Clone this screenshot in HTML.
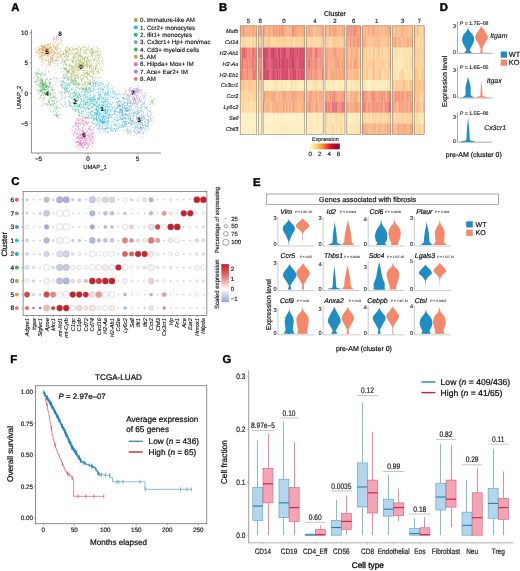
<!DOCTYPE html>
<html lang="en"><head><meta charset="utf-8"><title>Figure</title>
<style>
html,body{margin:0;padding:0;background:#fff;}
body{width:520px;height:571px;overflow:hidden;}
svg{display:block;font-family:"Liberation Sans",Arial,Helvetica,sans-serif;text-rendering:geometricPrecision;}
</style></head><body>
<svg width="520" height="571" viewBox="0 0 520 571">
<rect width="520" height="571" fill="#ffffff"/>
<g fill="#1a1a1a">
<g>
<text x="11.3" y="10.9" font-size="11.3" stroke="#000" stroke-width="0.4" font-weight="bold" fill="#000">A</text>
<line x1="31.4" y1="29.5" x2="31.4" y2="153" stroke="#444" stroke-width="0.6"/>
<line x1="31.4" y1="153" x2="161" y2="153" stroke="#444" stroke-width="0.6"/>
<line x1="29.8" y1="32.6" x2="31.4" y2="32.6" stroke="#444" stroke-width="0.5"/>
<text x="28.1" y="34.9" font-size="6.3" stroke="#222" stroke-width="0.18" text-anchor="end" fill="#222">10</text>
<line x1="29.8" y1="62.95" x2="31.4" y2="62.95" stroke="#444" stroke-width="0.5"/>
<text x="28.1" y="65.25" font-size="6.3" stroke="#222" stroke-width="0.18" text-anchor="end" fill="#222">5</text>
<line x1="29.8" y1="93.3" x2="31.4" y2="93.3" stroke="#444" stroke-width="0.5"/>
<text x="28.1" y="95.6" font-size="6.3" stroke="#222" stroke-width="0.18" text-anchor="end" fill="#222">0</text>
<line x1="29.8" y1="123.65" x2="31.4" y2="123.65" stroke="#444" stroke-width="0.5"/>
<text x="28.1" y="125.95" font-size="6.3" stroke="#222" stroke-width="0.18" text-anchor="end" fill="#222">−5</text>
<line x1="38.5" y1="153" x2="38.5" y2="154.6" stroke="#444" stroke-width="0.5"/>
<text x="38.5" y="161.2" font-size="6.3" stroke="#222" stroke-width="0.18" text-anchor="middle" fill="#222">−5</text>
<line x1="88" y1="153" x2="88" y2="154.6" stroke="#444" stroke-width="0.5"/>
<text x="88" y="161.2" font-size="6.3" stroke="#222" stroke-width="0.18" text-anchor="middle" fill="#222">0</text>
<line x1="137.5" y1="153" x2="137.5" y2="154.6" stroke="#444" stroke-width="0.5"/>
<text x="137.5" y="161.2" font-size="6.3" stroke="#222" stroke-width="0.18" text-anchor="middle" fill="#222">5</text>
<text x="95" y="169.3" font-size="5.9" stroke="#222" stroke-width="0.17" text-anchor="middle" fill="#222">UMAP_1</text>
<text x="20.6" y="97.4" font-size="5.9" stroke="#222" stroke-width="0.17" text-anchor="middle" transform="rotate(-90 20.6 97.4)" fill="#222">UMAP_2</text>
<path d="M95.81 95.19h0M105.26 117.45h0M95.35 82.72h0M101.61 104.72h0M93.65 99.85h0M94.51 104.69h0M102.38 105.45h0M103.29 83.39h0M113.79 129.9h0M128.77 123.51h0M108.69 84.6h0M126.6 99.52h0M96.27 119.48h0M105.74 116.39h0M93.8 86.36h0M129.79 106.46h0M104.99 111.27h0M109.29 123.09h0M117.79 120.7h0M97.12 81.68h0M95.1 92.57h0M107.47 97.63h0M107.97 126.45h0M128.21 119.45h0M107.59 111.11h0M99.23 98.11h0M87.85 99.02h0M98.72 98.87h0M127.71 104.63h0M118.16 99.13h0M110.45 92.61h0M93.08 94.28h0M93.28 90.01h0M87.65 91.65h0M107.2 88.11h0M111.02 116.67h0M93.31 100.5h0M88.98 97.29h0M95.65 83.16h0M110.78 126.79h0M98.12 124.85h0M101.02 104.86h0M122.18 124.36h0M107.53 113.75h0M97.28 109.93h0M95.02 95.58h0M93.23 111.19h0M100.3 88.4h0M125.95 116.77h0M128.6 109.58h0M118.52 112.62h0M112.82 107.14h0M92.17 101.55h0M91.57 106.29h0M110.86 131.47h0M119.73 116.59h0M89.41 89.25h0M114.42 114.95h0M97.93 112.69h0M111.32 130.27h0M117.29 102.54h0M116.01 96.04h0M94.36 99.63h0M119.17 105.64h0M112.85 110.66h0M98.69 94.6h0M96.85 107.29h0M97.26 121h0M120.21 105.36h0M107.98 129.23h0M115.25 94.49h0M96.92 110.42h0M87.19 96.8h0M98.62 83.76h0M100.36 94.27h0M91.63 91.42h0M108.63 131.88h0M99.65 115.14h0M122.43 126.7h0M98.81 95.55h0M102.42 128.16h0M128.23 117.99h0M125.43 121.66h0M96.41 117.36h0M104.73 113.28h0M118.03 93.14h0M118.67 128.03h0M100.44 119.13h0M102.59 126.46h0M120.06 112.08h0M107.25 127.48h0M107.85 90.33h0M112.04 86.37h0M111.23 125.34h0M93.7 106.51h0M120.32 101.38h0M93.29 104.89h0M107.39 85.69h0M106.1 98.03h0M117.32 118.45h0M90.77 90.17h0M99.82 113.56h0M122.84 126.97h0M102.92 109.3h0M124.82 108.31h0M91.94 85.51h0M85.11 91.02h0M123.85 122.32h0M131.49 109.23h0M94.81 105.41h0M123.62 98.13h0M84.02 88.54h0M86.84 88.87h0M98.15 107.18h0M114.64 113.53h0M123.86 118.64h0M108.47 117.34h0M92.84 115.97h0M106.97 101.79h0M114.47 110.81h0M111.84 88.72h0M101.44 108.08h0M90.21 82.26h0M122.6 111.7h0M96.01 114.35h0M116.19 108.32h0M103.94 92.91h0M118.52 97.82h0M125.35 124.42h0M124.12 108.56h0M102.5 97.02h0M100.22 95.84h0M101.17 108.47h0M90.4 99.71h0M109.28 115.23h0M109.52 109.74h0M126.1 105.49h0M85.91 93.9h0M104.77 118.94h0M111.73 115.52h0M110.62 128.58h0M90.18 83.44h0M90.86 99.55h0M86.49 87.49h0M113.5 90.62h0M100.29 94.14h0M92.73 81.54h0M94.27 86.89h0M103.45 108.91h0M122.7 109.86h0M101.07 116.71h0M109.27 126.24h0M131.09 115.65h0M120.79 105.62h0M130.51 103.62h0M117.52 126.45h0M108.68 118.35h0M118.07 129.01h0M112.5 114.58h0M102.59 120.18h0M107.43 99.9h0M128.64 113.74h0M92.22 97.27h0M116.48 102.41h0M105.27 109.89h0M116.98 120.18h0M115.95 107.93h0M97.82 99.85h0M122.3 118.06h0M97.96 99.07h0M127.26 115.14h0M124.98 124.39h0M99.6 120.9h0M125.19 114.68h0M111.77 117.55h0M111.01 121.78h0M124.31 98.85h0M119.48 126.67h0M87.16 85.86h0M129.02 117.05h0M90.71 100.3h0M106.12 98.04h0M95.29 90.04h0M131.19 112.9h0M119.59 106.45h0M113.72 87.63h0M105.42 100.21h0M125.39 123.01h0M113.86 96.73h0M104.53 119.8h0M114.27 111.8h0M99.88 92.29h0M121.4 127.87h0M83.25 84.74h0M116.4 110.76h0M101.7 90.75h0M127.04 114.47h0M87.58 94.28h0M124.24 107.54h0M94.77 96.56h0M106.85 88.35h0M98.35 96.14h0M127.23 99.96h0M105.88 113.35h0M118.85 119.83h0M107.79 93.57h0M96.45 114.56h0M119.67 105.28h0M85.67 88.15h0M97.1 86.79h0M101.52 82.57h0M99.51 102.89h0M83.29 88.91h0M98.16 117.7h0M107.25 116.05h0M122.5 114.07h0M126.21 118.01h0M101.72 102.61h0M124.47 122.86h0M126.28 109.23h0M100.59 82.58h0M84.13 86.15h0M98.56 89.15h0M94.8 98.78h0M96.24 116.51h0M86.67 92.55h0M114.78 124.88h0M125.15 105.94h0M119.76 106.02h0M121.65 109.25h0M103.42 115.27h0M99.64 84.69h0M103.28 121.61h0M106.54 121.53h0M113.03 97.53h0M100.57 120.06h0M97.62 106.22h0M108.23 120.61h0M109.62 104.1h0M112.1 89.72h0M122.42 110.26h0M100.58 90.98h0M114.77 111.36h0M101.16 121.85h0M98.53 111.67h0M91.09 122.34h0M121.5 112.79h0M102.71 122.47h0M110.9 103.58h0M93.86 96.1h0M123.31 126.04h0M121.22 94.56h0M123.61 104.78h0M123.58 98.18h0M120.55 125.58h0M130.73 118.27h0M104.33 87.3h0M127.7 110.4h0M105.18 92.3h0M121.99 115.57h0M103.64 105.7h0M116.19 129.87h0M110.44 117.39h0M109.04 116.97h0M119.73 112.66h0M110.49 110.92h0M115.56 109.07h0M85.86 89.45h0M89.08 95.6h0M96.75 105.85h0M99.74 127.12h0M88.89 88.15h0M99.1 97.91h0M101.77 89.07h0M112.58 121.1h0M103.68 91.12h0M118.83 101.56h0M97.88 98.82h0M99.58 112.44h0M88.7 83.42h0M96.5 115.79h0M133.77 116.88h0M99.26 94.35h0M108.15 118.29h0M95.51 99.58h0M103.04 84.67h0M107.73 132.03h0M120.05 105.75h0M126.45 110.55h0M122.38 105.88h0M98.23 104.73h0M97.2 112.47h0M91.44 111.31h0M96.97 107.93h0M115.19 111.07h0M120.34 110.15h0M102.04 109.43h0M102.76 122.37h0M123.97 101.5h0M129.28 118.71h0M87.79 99.24h0M107 128.14h0M118.21 107.38h0M121.1 111.18h0M125.91 125.73h0M125.15 108.94h0M115.59 98.4h0M98.96 124.81h0M94.29 99.65h0M98.18 111.63h0M97.99 89.62h0M99.33 85.12h0M120.06 117.06h0M102.48 122.55h0M117.49 104.12h0M120.53 109.21h0M107.01 106.37h0M121.61 119.56h0M118.86 105.03h0M110.36 128.51h0M102.19 84.09h0M91.35 117.09h0M91.16 110.97h0M88.18 92.08h0M98.45 116.94h0M85.13 95.53h0M128.21 118.7h0M106.41 118.31h0M93.98 84.98h0M101.08 96.24h0M99.94 97.05h0M97.91 100.34h0M93.19 118.06h0M122.96 121.27h0M116.28 128.75h0M90.98 99.99h0M97.29 111.51h0M101.29 87.87h0M126.93 123.98h0M112.43 102.47h0M95.5 85.09h0M109.96 91.31h0M98.84 116.16h0M115.48 131.54h0M112.73 97.6h0M95.98 114.98h0M104.03 120.94h0M90.87 84.52h0M94.43 112.62h0M120.85 108.22h0M119.65 110.95h0M97.8 79.86h0M96.88 102.31h0M119.37 93.67h0M122.35 106.53h0M107.57 106.58h0M102.72 102.07h0M88.31 90.92h0M98.07 128.55h0M110.07 127.88h0M127.16 102.91h0M108.79 114.97h0M107.85 117.54h0M106.19 124.73h0M86.76 88.84h0M99.38 99.42h0M107.69 121.9h0M92.47 103.78h0M100.19 97.42h0M100.32 114.38h0M109.81 87.43h0M108.05 83.78h0M111.48 106.01h0M103.31 86.39h0M95.26 83.9h0M112.06 93.74h0M130.14 112.09h0M116.77 121.24h0M96.97 125.39h0M101.9 121.52h0M91.17 99.87h0M95 113.83h0M100.83 129.28h0M103.27 121.27h0M126.8 108.36h0M108.49 83.21h0M107.47 122.77h0M96.52 83.67h0M110.78 112.06h0M115.2 120.35h0M105.09 107.72h0M109.94 107.04h0M104.02 122.69h0M93.24 88.71h0M120.23 117.36h0M122.89 112.14h0M111.79 129.1h0M98.35 118.69h0M95.77 84.08h0M111.98 124.95h0M103.74 105.55h0M106.5 128.27h0M110.13 95.12h0M125.93 105.1h0M107.32 124.32h0M93.05 91.41h0M109.9 88.65h0M114.4 128.57h0M108 95.31h0M118.68 101.39h0M117.39 98.48h0M107.41 86.93h0M112.65 91.56h0M108.09 92.79h0M94.1 114.53h0M119 126.94h0M88.98 89.21h0M90.63 91.61h0M126.28 116.06h0M92.22 99.35h0M112.91 103.01h0M99.01 85.69h0M111.33 107.63h0M121.72 111.72h0M113.68 122.12h0M101.94 88.95h0M90.47 84.57h0M119.9 127.13h0M95.86 82.51h0M97.07 114.05h0M90.16 101.29h0M118.73 94.88h0M115.43 111.42h0M114.31 106.2h0M98.45 91.96h0M127.55 121.6h0M108.4 121.49h0M93.61 105.06h0M103.67 89.41h0M87.06 89.94h0M112.94 108.39h0M114.88 112.13h0M119.88 109.66h0M123.51 115.26h0M115.34 94.43h0M109.12 113.47h0M116.51 125.95h0M93.78 84.95h0M127.8 108.84h0M125.21 110.38h0M105.15 99.52h0M99.46 119.79h0M99.53 99.14h0M93.55 94.08h0M116.22 93.21h0M101 83.89h0M99.43 119.54h0M117.9 106.98h0M95.96 102.72h0M121.27 116.37h0M94.08 97.43h0M107.08 131.78h0M107.5 99.5h0M99.1 88.05h0M124.66 126.16h0M125.73 119.35h0M112.86 108.06h0M90.3 89.7h0M103.45 122.99h0M107.88 92.96h0M100.11 117.68h0M97.79 128.56h0M108.1 92.43h0M115.71 130.3h0M113.99 124.1h0M93.58 103.71h0M113.11 93.74h0M127.92 101.77h0M107.17 126.93h0M86.24 92.7h0M109.19 115.11h0M126.46 111.89h0M124.42 122.1h0M106.02 85.93h0M105.47 93.04h0M94.73 119.5h0M100.48 100.95h0M105.15 84.91h0M126.06 110.9h0M102.39 99.26h0M103.73 103.04h0M96.51 120.82h0M112.96 114.2h0M114.84 113.94h0M114.39 124.98h0M92.07 103.35h0M103.42 130.3h0M104.8 86.78h0M96.79 113.61h0M103.56 116.68h0M122.6 98.09h0M94.3 80.4h0M111.91 110.19h0M124.74 123.48h0M98.51 110.16h0M106.72 113.24h0M91.36 86.56h0M122.66 114.58h0M105.69 93.47h0M130.02 109.75h0M98.09 84.92h0M113.27 119.46h0M98.17 105.96h0M96.55 102.2h0M114.73 91.37h0M104.65 94.59h0M100.24 129.09h0M91.8 101.66h0M93.7 116.4h0M92.74 107.52h0M97.13 115.69h0M122.35 119.3h0M93.01 99.23h0M117.8 111.35h0M125.61 114.2h0M89.22 83.49h0M103.32 98.04h0M97.84 97.49h0M112.14 131h0M109.55 114.28h0M114.5 93.11h0M111.86 96.45h0M94.32 114.88h0M102.99 88.86h0M84.97 92.31h0M107.1 121.28h0M115.35 125.23h0M98.24 88.37h0M124.8 114.6h0M115.62 124.83h0M108.56 99.17h0M89.16 92.85h0M104.67 121.78h0M116.09 104.74h0M126.53 111.39h0M119.15 100.19h0M110.89 111.27h0M102.99 127.84h0M113.95 92.76h0M105.7 130.74h0M122.06 118.93h0M86.27 88.83h0M116.78 95.88h0M118.88 123.42h0M106.05 128.31h0M99.16 125.52h0M102.6 98.24h0M93.8 81.75h0M123.81 95.42h0M105.22 132.21h0M93.51 89.99h0M124.52 117.23h0M102.34 89.76h0M118.08 118.22h0M97.34 113.47h0M87.44 90.23h0M94.98 104.95h0M116.42 122.99h0M96 105.65h0M124.95 103.38h0M104.61 101.5h0M110.19 96.88h0M102.17 105.3h0M116.18 125h0M104.69 110.62h0M109.34 107.02h0M113.56 122.25h0M130.72 117.94h0M105.38 94.48h0M91.75 106.97h0M114.88 113.62h0M107.13 92.98h0M129.76 106.68h0M99.14 92.74h0M108.28 90.77h0M105.63 107.29h0M116.85 94.2h0M117.33 98.39h0M113.91 117.9h0M107.87 102.33h0M109.49 110.53h0M89.48 103.89h0M114.84 119.63h0M97.09 109.18h0M98.25 127.5h0M115.62 130.66h0M120.34 110.1h0M94.81 98.3h0M130.46 119.64h0M100.5 121.15h0M98.68 118.51h0M125.59 114.23h0M109.4 96.08h0M104.99 128.43h0M108.23 117.67h0M103.68 121.8h0M113.1 130.55h0M111.27 127.83h0M104.93 117.89h0M92.72 98.98h0M102.91 109.89h0M98.49 107.87h0M94.45 117.98h0M91.1 118.56h0M100.01 132.59h0M91.78 90.68h0M121.54 114.47h0M114.51 128.74h0M96.09 111.17h0M95.6 86.54h0M131.75 105.45h0M110.44 114.51h0M108.39 101.16h0M102.71 92.32h0M103.37 90.08h0M104.08 106.13h0M92.54 82.53h0M96.44 118.33h0M103.06 124.32h0M99.45 126.05h0M116.53 114.87h0M104.99 108.09h0M108.31 94.66h0M112.72 128.8h0M108.64 103.28h0M117.35 128.9h0M89.18 86.43h0M98.81 109.87h0M98.16 113.83h0M97.04 119.77h0M109.07 103.01h0M100.34 106.1h0M102.61 110.59h0M101.09 122.5h0M109.07 105.5h0M103.65 97.55h0M101.29 101.68h0M103.79 122.83h0M108.02 108.89h0M99.45 98.45h0M106.83 112.41h0M104.52 116.42h0M103.41 102.63h0M105.31 103.9h0M101.61 100.83h0M100.45 94.93h0M98.93 106.02h0M105.25 116.03h0M98.82 115.01h0M101.92 108.87h0M101.14 96.95h0M107.24 110.69h0M94.72 118.67h0M102.64 119.28h0M103.96 104.66h0M104.75 101.48h0M103.79 118.29h0M107.09 110.82h0M103.51 122.61h0M102.37 117.93h0M104.76 119.89h0M105.12 110.2h0M104.86 99.09h0M105.36 113.81h0M107.94 107.64h0M108.92 115.56h0M100.2 108.34h0M101.16 115.53h0M111.32 104.52h0M102.64 110.79h0M96.63 118.95h0M103.45 122.76h0M105.38 98.87h0M108.07 112.71h0M105.4 112.38h0M106.08 111.9h0M104.83 110.01h0M107.86 111.66h0M98.49 106.24h0M104.22 114.61h0M105.09 122.97h0M104.74 95.6h0M108.13 122.79h0M99.69 98.5h0M108.45 106.66h0M106.91 101.97h0M100.02 115.92h0M103.42 107.87h0M103.78 115.05h0M96.42 92.63h0M104.05 109.73h0M101.94 117.58h0M101.92 109.9h0M97.22 100.88h0M105.05 110.67h0M108.76 124.45h0M108.64 118.56h0M108.27 120.99h0M105.48 102.08h0M107.22 109.86h0M99.18 104.93h0M102.21 108.48h0M103.37 101.48h0M104.15 103.82h0M102.14 121.89h0M103.6 99.18h0M107 116.13h0M99.43 108.61h0M106.02 104.81h0M103.76 116.47h0M105.42 111.64h0M104.67 121.97h0M105.09 128.61h0M102.85 116.03h0M107.45 106.83h0M107.7 104.62h0M106.38 95.32h0M101.22 110.66h0M103.2 104.58h0M104.78 129.47h0M110.8 105.08h0M106.6 104.34h0M105.85 101.49h0M108.06 109.08h0M99.54 104.9h0M106.1 94.2h0M93.84 119.93h0M102.23 114.26h0M104.52 124.88h0M98.83 116.17h0M95.78 110.2h0M98.99 118.63h0M105.39 109.74h0M105.21 120.24h0M105.1 110.15h0M103.27 112.51h0M107.46 94.06h0M105.76 106.43h0M101.88 113.16h0M103.83 111.29h0M110.68 109.44h0M102.09 120.52h0M99.78 120.77h0M99.17 98.85h0M96.98 110.75h0M99.26 114.41h0M108.42 128.94h0M106.09 112.86h0M105.69 106.13h0M106.67 109.27h0M101.56 121.09h0M87.99 122.92h0M104.93 121.7h0M105.87 123.01h0M99.18 123.29h0M105.73 122.98h0M96.4 119.16h0M94.62 123.2h0M92.03 121.68h0M99.11 113.17h0M102.05 119.83h0M100.76 126.27h0M93.2 123.3h0M100.24 120.09h0M102.8 119.76h0M102.19 123.35h0M107.14 120.29h0M94.76 115.75h0M101.81 116.52h0M99.18 131.1h0M100.42 120.66h0M97.17 121.98h0M100.18 122.55h0M93.17 123.2h0M96.99 124.6h0M104.75 122.19h0M97.07 120.29h0M98.4 121.04h0M101.81 121.58h0M102.66 128.36h0M106.06 128.62h0M96.04 124.78h0M98.79 128.69h0M93.63 119.87h0M102.21 118.77h0M100.34 113.04h0M100.9 125.22h0M94.66 123.57h0M103.35 117.02h0M94.09 124.01h0M93.74 120.69h0M97.29 122.78h0M95.51 125.85h0M102.67 124.37h0M100.5 121.67h0M96.19 120.24h0M104.85 125.8h0M103.15 117.49h0M98.64 123.18h0M95.94 125.52h0M94.62 127.35h0M57.5 65.39h0M65.05 84.85h0M67.92 78.4h0M63.5 75.83h0M62.94 71.45h0M70.83 103.37h0M62.31 97.7h0M45.67 73.76h0M64.89 68.73h0M50.72 79.43h0M71.98 98.8h0M52.66 58.58h0M46.68 78.49h0M60.21 107.85h0M53.09 60.73h0M57.93 63.9h0M50.84 79.48h0M50.59 62.09h0M57.07 106.73h0M64.1 69.71h0M62.21 78.05h0" fill="none" stroke="#19b5e8" stroke-width="0.85" stroke-linecap="round" opacity="0.8"/>
<path d="M65.25 60.48h0M81.5 56.27h0M85.8 47.61h0M63.15 54.4h0M101.23 57.97h0M66.5 51.34h0M86.98 58.62h0M77.82 56.75h0M80.53 70.76h0M87.37 66.36h0M71.9 69.35h0M66.85 51.65h0M93.81 74.05h0M88 87.66h0M84.51 47.47h0M93.76 47.81h0M83.45 73.65h0M102.85 60.2h0M70.6 54.87h0M81.01 58.36h0M85.95 76.27h0M71.92 47.58h0M94.07 59.81h0M67.33 71.31h0M79.14 84.87h0M72.65 48.32h0M76.66 57.72h0M66.07 52.74h0M68.59 72.46h0M71.07 78.17h0M74.75 58.12h0M80.8 78.11h0M97.12 59.82h0M89.51 66.7h0M74.72 84.03h0M60.74 57.24h0M68.86 54.3h0M77.83 67.75h0M90.33 52.16h0M66.92 60.03h0M61.48 57.34h0M85.31 65.46h0M72.12 68.99h0M95.53 82.42h0M77.98 58.59h0M67.2 49.73h0M90.81 75.18h0M66.73 50.83h0M61.97 68.46h0M83.57 76.15h0M93.77 53.56h0M66.07 69.29h0M72.61 67.72h0M89.38 87.7h0M80.23 59.75h0M74.19 75.69h0M68.47 79.44h0M100.46 54.72h0M75.6 77.08h0M75.72 81.84h0M75.54 77.34h0M89.53 74.03h0M63.56 53.61h0M79.2 66.26h0M68.95 59.94h0M93.27 78.01h0M90 71.61h0M82 80.35h0M88 79.32h0M88.75 88.54h0M92.42 88.32h0M86.09 61.95h0M66.7 51.84h0M78.09 67.11h0M93.72 84.95h0M92.18 48.92h0M61.15 55.21h0M78.21 78.11h0M65.27 50.25h0M72.05 77.76h0M74.71 72.92h0M97.22 55.63h0M87.84 70.63h0M82.63 64.6h0M66.17 64.38h0M64.67 63.95h0M87.63 74.4h0M87.72 85.55h0M86.37 63.25h0M73.71 74.96h0M69.55 62.77h0M79.47 84.28h0M64.59 69.51h0M85.12 73.54h0M91.55 57.33h0M89.24 63.66h0M66.43 75.14h0M80.11 75.82h0M95.09 58.16h0M90.59 76.54h0M92.45 76.62h0M93.28 74.11h0M69.76 64.5h0M92.48 50.73h0M72.96 71.49h0M67.07 47.67h0M81.82 62.42h0M72.96 60.22h0M87.31 65.15h0M85.74 51.09h0M84.03 89.75h0M76.07 83.6h0M87.15 72.05h0M91.12 60.81h0M80.22 66.77h0M85.16 52.95h0M88.09 65.2h0M82.25 89.18h0M71.77 74.59h0M66.37 69.11h0M73.39 75.07h0M82.44 75.13h0M66.61 71.04h0M94.05 53.98h0M93.58 66.68h0M86.68 76.5h0M99.08 56.31h0M90.71 59.51h0M73.24 83.88h0M86.61 50.55h0M73.7 54.63h0M93.47 84.3h0M76.44 49.39h0M66.04 58.18h0M89.45 66.64h0M90.29 81.42h0M84.83 82.01h0M80.59 55.57h0M85.65 90.58h0M62.25 61.53h0M83.66 63.54h0M92.47 52.31h0M81.15 75.47h0M98.91 77.9h0M99.03 77.58h0M74.48 84.42h0M66.44 65.19h0M87.49 49.19h0M80.91 50.58h0M80.91 50.54h0M96.64 65.74h0M78.17 65.85h0M83.57 65.9h0M81.12 66.22h0M67.26 71.84h0M79.42 70.79h0M98.74 55.29h0M63.16 62.74h0M63.63 53.08h0M83.49 72.65h0M66.16 64.05h0M78.41 57.4h0M69.69 51.16h0M88.2 56.09h0M82.57 59.17h0M74.49 61.28h0M95.28 73.13h0M91.11 54.25h0M81.79 62.94h0M79.33 65.47h0M93.41 51.77h0M100.88 68.61h0M64.72 68.68h0M76.96 65.37h0M82.66 79.17h0M63.17 54.51h0M68.15 71.65h0M75.94 68.02h0M89.4 51.38h0M81.71 87h0M96.42 65.13h0M97.22 73.5h0M99.55 64.45h0M77.77 86.57h0M92.36 78.93h0M75.23 64.23h0M82.63 79.4h0M66.94 51h0M87.32 77.82h0M78.8 83.55h0M95.69 67.08h0M84.69 81.91h0M88.7 75.34h0M77.35 49.23h0M67.17 46.22h0M73.4 58.05h0M89.71 83.93h0M75.97 55.62h0M87.78 59.51h0M81.77 81.77h0M80.4 52.43h0M98.92 59.84h0M68 60.73h0M81.21 48.69h0M98.42 62.84h0M80.79 65.63h0M75.96 60.83h0M68.26 49.26h0M84.85 84.13h0M77.12 52.2h0M66.84 58.92h0M78.75 60.69h0M85.99 71.14h0M83.27 62.62h0M99.99 72.7h0M96.37 61.62h0M97.53 69.3h0M77.62 46.05h0M83.6 67.84h0M74.31 83.08h0M93.72 71.31h0M72.1 76.4h0M78.31 78.25h0M78.03 63.53h0M75.6 66.98h0M88.98 84.58h0M65.7 57.22h0M85.72 87.65h0M83.68 46.39h0M93.43 52.43h0M62.34 58.15h0M87.19 58h0M76.67 66.87h0M84.1 74.37h0M75.56 78.63h0M69.41 48.64h0M84.33 83.48h0M74.87 74.78h0M77.02 48.76h0M85.21 65.11h0M85.56 56.64h0M91.83 55h0M100.72 53.91h0M76.09 85.26h0M89.39 47.1h0M92.1 54.95h0M100.84 69.74h0M97.25 53.96h0M67.36 52.59h0M67.77 71.89h0M76.04 65.34h0M90.07 56.47h0M78.49 60.01h0M82.43 88.62h0M91.98 51.83h0M90.52 88.97h0M72.76 79.4h0M89.15 67.01h0M89.37 92.64h0M77.23 64.77h0M93.25 68.08h0M73.11 71.88h0M65.83 69.05h0M70.31 64.79h0M76.78 59.98h0M86.73 62.8h0M75.08 56.79h0M76.02 66.44h0M75.42 85.82h0M63.66 54.45h0M69.79 65.56h0M98.35 69.66h0M71.62 79.83h0M88.98 73.82h0M100.34 77.88h0M72.72 68.02h0M76.06 83.87h0M90.57 81.85h0M93.85 73.96h0M84.6 52.59h0M66.03 67.62h0M67.65 59.23h0M91.8 52.48h0M88.95 61.47h0M91.66 62.51h0M77.03 67.17h0M65.94 63.52h0M97.34 54h0M87.38 72.38h0M83.89 67.41h0M89.39 90.39h0M76.6 74.66h0M82.8 84.68h0M80.3 69.47h0M99.32 55.67h0M96.71 51.42h0M74.74 81.86h0M77.13 53.03h0M76.54 60.87h0M94.04 68.65h0M80.35 59.83h0M81 54.63h0M93.08 60.12h0M67.07 71.99h0M87.21 58.08h0M86.05 53.56h0M65.34 49.95h0M94.23 60.02h0M84.15 75.21h0M101.89 66.74h0M73.56 69.8h0M86.87 61.87h0M85.65 84.52h0M81.78 48.81h0M73.04 80.7h0M81.04 88.74h0M76.49 80.97h0M97.6 49h0M79.9 72.72h0M79.12 84.45h0M70.83 65.9h0M99.13 52.73h0M75.18 70.25h0M98.43 72.16h0M85.77 82.47h0M103.21 63.98h0M67.29 56.38h0M92.24 51.88h0M82.56 62.72h0M90.31 71.47h0M89.98 83.76h0M79.45 64.73h0M87.59 72.24h0M70.01 78.19h0M78.95 68.05h0M98.02 73.27h0M94.39 55.23h0M97.81 55.38h0M68.35 55.84h0M67.44 75.44h0M75.43 48.41h0M67.92 56.57h0M68.52 70.04h0M99.11 53.95h0M74.56 73.9h0M86.05 66.08h0M80.09 88.39h0M92.52 72.33h0M97.12 82.34h0M76.36 62.83h0M83.12 65.61h0M72.22 76.77h0M73.73 55.15h0M73.79 51.98h0M83.18 76.83h0M75.94 48.74h0M74.55 49.64h0M96.72 63.85h0M95.83 66.7h0M87.31 57.39h0M91.68 69.59h0M67.52 52.37h0M97.02 71.68h0M71.91 53.38h0M89.05 70.91h0M91.33 55.08h0M70.22 47.92h0M79.21 55.62h0M62.25 59.13h0M74.79 71.41h0M84.14 66.64h0M95.86 76.7h0M97.68 72h0M73.68 58.94h0M81.42 64.69h0M83.97 49.55h0M87.13 74.43h0M91.03 53.74h0M88.59 83.81h0M90.07 77.55h0M98.8 57.22h0M93.19 72.51h0M79.49 56.1h0M74.45 49.68h0M87.56 73.39h0M95.14 56.14h0M91.64 49.52h0M89.05 74.47h0M65.98 68.3h0M84.74 60.34h0M89.85 80.11h0M74.94 75.15h0M79.71 63.61h0M80.1 87.44h0M80.51 48.14h0M86.59 90.09h0M70.28 82.59h0M97.46 51.22h0M65.49 50.36h0M75.64 81.45h0M98.72 57.47h0M75.95 62.49h0M98.29 51.75h0M69.88 48.27h0M68.88 51.35h0M92.5 52.03h0M102.58 62.76h0M90.72 66.75h0M100.21 63.33h0M83.75 68.62h0M65.63 64.33h0M99.08 74.66h0M76.23 75.12h0M72.83 80.74h0M82.4 70.38h0M71.26 83.27h0M82.44 82.89h0M91.55 65.52h0M93.28 50.09h0M86.42 73.34h0M89.01 75.12h0M83.91 47.71h0M91.94 52.98h0M69.18 70.4h0M91.92 71.63h0M79.07 52.29h0M82.89 89.74h0M79.3 60.69h0M63.79 65.5h0M70.05 49.82h0M74.34 72.14h0M74.22 79.86h0M90.42 82.54h0M66.62 54.86h0M79.49 64.56h0M85.66 76.66h0M64.25 56.39h0M69.43 49.88h0M70.53 59.85h0M67.81 71.77h0M64.25 56.74h0M68.45 57.09h0M80.5 50.29h0M84.67 76.31h0M72.97 83.74h0M67.42 56.23h0M64.52 62.03h0M73.63 57.16h0M81.5 80.2h0M91.72 76.39h0M68.86 76.47h0M79.36 47.15h0M77.33 69.53h0M89.59 68.71h0M89.51 83.97h0M84.36 59.71h0M80.95 79.73h0M96.77 57.07h0M63.76 59.29h0M84.66 57.17h0M83.78 65.46h0M84.17 61.32h0M92.52 78.16h0M88.81 56.93h0M74.84 54.85h0M78.13 47.78h0M67.95 48.47h0M95.08 69.51h0M88.44 82.21h0M75.36 53.42h0M78.66 83.19h0M84.15 59.1h0M96.75 47.47h0M90.76 66.75h0M98.69 71.25h0M71.34 78.59h0M89.26 73.33h0M64.7 61.14h0M86.04 53.12h0M64.98 62.18h0M83.62 67.69h0M83.25 53.55h0M73.14 60.27h0M89.42 66.13h0M80.97 53.9h0M78.89 77.95h0M65.15 61.53h0M73.02 70.8h0M95.27 63.9h0M77.03 82.6h0M93.49 70.39h0M72.98 72.13h0M88.72 64.94h0M72.78 66.37h0M72.28 56.91h0M89.55 62.52h0M90.77 49.5h0M72.72 72.72h0M95.58 68.22h0M73.61 49.46h0M66.13 55.99h0M63.41 64.94h0M78.75 69.72h0M86.72 48.12h0M71.62 76.56h0M72.75 62.25h0M63.37 52.1h0M74.03 81.33h0M68.71 72.03h0M80.21 52.45h0M75.58 53.11h0M78.39 85.51h0M94.63 77.83h0M87.54 78.09h0M86.18 51.32h0M95.95 58.82h0M80.54 61.78h0M92.91 55.17h0M86.61 77.89h0M78.6 73.45h0M70.94 65.92h0M91.22 67.75h0M96.1 67.75h0M71.65 50.93h0M79.05 84.67h0M83.34 70.78h0M69.03 53.07h0M74.02 56.48h0M61.81 51.22h0M87.81 79.09h0M90.6 60.79h0M71.84 61.74h0M93.55 60.44h0M69.88 76.01h0M83.22 86.77h0M91.76 70.6h0M84.09 50.6h0M65.97 54.85h0M89.98 81.04h0M71.81 73.98h0M87.36 83.63h0M77.86 76.83h0M65.37 73.5h0M64.93 53.49h0M69.43 53.5h0M71.65 60.34h0M87.34 64.81h0M85.8 88.65h0M87.11 83.21h0M94.79 79.84h0M76.64 63.78h0M64.99 54.44h0M60.06 63.5h0M65.39 59.83h0M76.46 53.8h0M72.53 62.34h0M91.17 86.26h0M71 74.53h0M72.91 49.66h0M80.42 65.47h0M79.23 62.04h0M85.52 57.7h0M94.15 50.95h0M85.99 86.25h0M94.89 59.14h0M83.67 88.36h0M98.9 66.26h0M84.01 64.51h0M87.59 63.95h0M86.37 60.44h0M81.88 65.72h0M82.43 85.62h0M70.93 67.64h0M87.75 68.08h0M80.77 84.74h0M80.36 77.49h0M72.41 61.42h0M84.29 59.96h0M88.64 60.6h0M65.23 71.25h0M85.4 72.97h0M70.37 73.11h0M80.34 62.72h0M80.24 67.68h0M69.44 50.09h0M85.39 84.53h0M71.9 71h0M84.18 57.87h0M75.03 65.7h0M82.56 78.66h0M85.89 61.35h0M85.85 73.2h0M91 53.18h0M72.47 60.03h0M64.74 61.61h0M71.12 52.92h0M75.89 78.69h0M86.81 66.3h0M80 61.76h0M73.33 72.78h0M64.63 55.94h0M84.9 65.95h0M65.87 68.83h0M81.29 74.52h0M90.43 64.7h0M86.99 80.69h0M98.3 71.49h0M84.97 90.08h0M76.52 77h0M88.02 54.16h0M77.06 74.92h0M66.27 72.89h0M83.5 78.57h0M94.26 60.82h0M80.53 56.79h0M80.02 69.3h0M60.66 55.92h0M73.29 65.98h0M78.6 77.38h0M93.9 80.54h0M90.76 88.21h0M76.69 72.34h0M88.6 59.09h0M77.31 75.38h0M86.84 49.45h0M79.14 82.23h0M71.42 72.91h0M81.41 87.85h0M70.38 79.8h0M75.44 63h0M80.91 68.73h0M71.16 76.66h0M90.08 83.86h0M95.5 52.71h0M90.4 50.88h0M78.45 68.81h0M90.8 65.29h0M85.95 89.24h0M99.61 61.59h0M72.21 52.76h0M98.11 63.51h0M62.65 60.81h0M75.24 80.81h0M101.77 61.37h0M87.84 81.82h0M66.2 47.77h0M93.55 83.55h0M79.9 46.15h0M92.38 50.58h0M98.21 58.74h0M72.98 66.58h0M74.37 68.66h0M65.49 52.7h0M82.38 56.22h0M85 73h0M93.52 82.75h0M83.4 50.97h0M95.27 52.39h0M92.24 68.46h0M92.52 48.71h0M87.39 75.89h0M83.59 88.33h0M73.77 70.83h0M67.94 52.01h0M98.26 48.76h0M77.6 71.86h0M84.73 81.35h0M73.98 81.3h0M63.63 67.82h0M92.38 71.06h0M74.08 77.62h0M64.03 67.43h0M78.24 50.37h0M78.14 55.63h0M82.32 59.5h0M69.33 72.01h0M91.5 48.78h0M97.02 77.37h0M91.75 63.85h0M60.79 54.58h0M74.01 78.55h0M84.28 60.23h0M65.41 50.76h0M89.97 68.79h0M77.31 83.18h0M102.57 70.42h0M61.89 60.23h0M77.44 53.65h0M81 56.11h0M93.45 83.45h0M92.71 56.6h0M74.88 79h0M90.41 65.9h0M79.51 55.05h0M71.41 65.92h0M95.94 50.35h0M74.61 58.15h0M82.49 47.28h0M96.33 71.71h0M97.55 60.84h0M88.76 73.08h0M82.13 62.05h0M74.7 67.01h0M75.05 69.45h0M75.13 57.4h0M77.22 76.36h0M85.02 63.81h0M80.61 49.73h0M95.65 68.7h0M84.38 63.95h0M82.21 64.02h0M97.84 50.95h0M79.13 59.91h0M73.6 63.13h0M81.22 60.95h0M71.35 66.8h0M84.1 70.76h0M90.84 72.63h0M85.07 70.73h0M76.76 60.99h0M78.85 73.98h0M83.84 63.84h0M89.37 67.97h0M76.83 60.33h0M76.71 52.32h0M88.64 46.24h0M81.75 63.32h0M82.75 57.31h0M83.85 61.98h0M73.87 68.24h0M78.84 51.39h0M88.45 49.76h0M78.77 63.83h0M78.45 64.57h0M82.4 60.13h0M83.12 58.37h0M100.21 50.94h0M73.6 61.43h0M81.15 56.85h0M96.05 65.03h0M80.31 68.61h0M83.06 58.15h0M68.49 64.92h0M87.78 63.31h0M86.97 66.89h0M86.56 72.69h0M78.61 66.62h0M82.99 66.96h0M79.52 67.55h0M86.81 59.06h0M79.95 61.98h0M86.3 64.42h0M69.44 70.64h0M77.45 71.03h0M57.43 77.83h0M78.88 54.42h0M86.18 61.74h0M78.01 50.01h0M98.73 58.28h0M72.17 50.58h0M77.37 70.14h0M72.71 67.28h0M76.06 54.55h0M76.32 64.36h0M68.34 67.16h0M72.28 74.12h0M96.18 67.8h0M77.97 62.9h0M87.3 61.38h0M69.95 66.38h0M79.13 64.14h0M84.31 58.69h0M78.68 53.53h0M75.97 69.36h0M78.55 57.01h0M80.27 60.14h0M86.66 67.59h0M89.62 61.63h0M69.55 69.91h0M63.69 54.21h0M78.5 67.33h0M64.37 104.66h0M58.28 60.77h0M65.14 101.53h0M45.37 79.83h0M55.06 65.49h0M63.16 106.83h0M50.1 94.24h0M42.18 97.43h0M53.6 80.16h0M59.6 93.57h0M42.82 88.16h0M63.04 106.19h0M42.93 105.95h0M44.88 96.84h0M58.08 90.99h0M50.56 82.48h0M59.75 100.95h0M65.81 75.7h0M41.22 74.05h0M54.85 99.24h0M58.92 79.91h0M48.61 104.97h0" fill="none" stroke="#9dab3a" stroke-width="0.85" stroke-linecap="round" opacity="0.8"/>
<path d="M88.93 108.3h0M63.46 78.11h0M77.32 96.97h0M82.51 101.62h0M65.56 96.34h0M62.57 88.08h0M87.77 104.7h0M85.33 110.32h0M84.88 117.73h0M92.61 111.66h0M78.64 112.74h0M94.82 118.44h0M66.74 83.32h0M74.45 104.66h0M73.22 96.59h0M86.81 107.46h0M79.27 112.2h0M88.71 118.23h0M96.81 113.21h0M68.44 84.34h0M95.73 112.65h0M66.9 87.95h0M84.75 117.41h0M88.89 115.31h0M73.5 92.2h0M65.87 89.05h0M78.23 98.53h0M65.27 87.14h0M95.06 101.48h0M96.74 102.39h0M71.86 80.74h0M73.36 85.1h0M68.24 97.93h0M73.2 87.23h0M70 80.17h0M67.42 85.6h0M88.14 109.16h0M91.46 118.07h0M67.58 91.18h0M72.93 89.37h0M62.56 80.88h0M64.8 82.78h0M69.73 104.65h0M81.54 100.45h0M69.28 105.06h0M89.93 101.09h0M76.37 94.19h0M75.13 89.15h0M73.5 103.07h0M65.54 87.11h0M95.96 101.62h0M65.64 85.72h0M66.11 90h0M87.7 97.06h0M66.39 88.65h0M86.88 95.23h0M72.52 81.3h0M78.27 110.33h0M63.04 85.63h0M75.29 93.89h0M67.89 90.98h0M69.37 96.18h0M88.66 112.72h0M84.84 107.76h0M69.29 84.55h0M83.04 107.59h0M84.6 92.13h0M70.93 106.42h0M91.31 115.52h0M89.79 98.18h0M64.03 74.62h0M90.98 114.85h0M86.49 106.61h0M74.37 93.98h0M65.94 89.95h0M91.79 98.28h0M87.06 114.2h0M94.67 100.21h0M80.59 98.85h0M64.79 78.21h0M69.68 78.03h0M80.07 91.94h0M87.05 117.52h0M92.12 102.21h0M90.65 97.65h0M94.29 113.34h0M64.73 93.16h0M78.29 107.67h0M95.64 112.92h0M89.34 104.24h0M78.49 100.13h0M89.03 99.45h0M87.91 108.79h0M74 99.09h0M86.13 115.62h0M74.34 109.63h0M73.77 82.83h0M62.35 95.24h0M96.02 109.25h0M97.47 103.89h0M67.2 89.42h0M70.26 94.87h0M87.53 106.66h0M85.64 104.18h0M74.36 96.51h0M60.84 84.99h0M86.96 103.51h0M95.29 105.08h0M68.88 101.29h0M73.04 102.64h0M64.87 98.1h0M97.17 106.34h0M85.84 96.86h0M68.66 92.52h0M76.14 111.09h0M74.15 106.55h0M94.29 109.44h0M96.31 103.64h0M86.71 108.78h0M65.44 76.35h0M65.76 91.48h0M93 107.62h0M73.15 83.62h0M89.22 98.04h0M77.79 94.28h0M90.26 99.43h0M83.95 104.14h0M75.73 109.95h0M88.33 110.71h0M64.04 82.98h0M89.99 117.36h0M84.61 94.4h0M76.48 93.61h0M91.95 108h0M84.11 95.47h0M63.43 81.68h0M82.97 106.69h0M76.7 110.31h0M77.18 96.93h0M83.26 105.33h0M67.08 92.42h0M92.7 117.97h0M62.71 84.24h0M74.89 92.72h0M66.89 80.58h0M76.64 87.44h0M78.53 111.28h0M68.58 93.75h0M61.37 81.58h0M91.73 111.74h0M98.38 109.65h0M102.09 108.77h0M77.46 105.74h0M90.6 105.72h0M79.49 115.51h0M95.9 112.98h0M74.98 111.13h0M89.32 117.9h0M66.37 88.08h0M81.35 106.13h0M87.52 102.34h0M61.18 92.45h0M83.55 111.04h0M99.15 110.72h0M88.72 108.06h0M73.53 95.88h0M78.27 106.39h0M85.43 108.9h0M94.37 104.55h0M76.2 83.39h0M75.44 95.31h0M93.43 104.34h0M83.88 106.95h0M83.81 113.89h0M67.43 78h0M86.31 99.87h0M71.82 89.5h0M73.66 83.12h0M75.65 84.65h0M67.95 85.47h0M72.81 97.65h0M88.21 108.91h0M96.1 108.75h0M97.6 114.71h0M81.42 112.87h0M88.55 116.42h0M77.99 92.51h0M72.02 106.83h0M79.02 95.61h0M86.22 96.66h0M92.2 114.39h0M72.85 80.1h0M76.18 101.94h0M75.61 98.52h0M96.94 116.91h0M84.29 101.64h0M64.26 89.68h0M61.64 85.16h0M77.74 97.69h0M83.98 105.09h0M62.71 87.14h0M86.93 112.63h0M91.99 100.65h0M67.06 77.75h0M79.82 95h0M77.2 84.58h0M64.22 77.7h0M65.12 86.12h0M68.18 87.16h0M70.18 105.56h0M81.04 104.27h0M68.94 91.37h0M68.56 80.05h0M72.67 108.47h0M85.83 102.12h0M79.49 106.7h0M72.43 93.81h0M96.61 113.31h0M64.44 78.22h0M71.36 82.57h0M74.42 102.68h0M76.04 80.6h0M90.27 112.71h0M89.34 102.15h0M93.39 97.01h0M75.61 93.64h0M69.32 84.28h0M72.46 109.05h0M90 112.58h0M77.01 108.7h0M72.59 98.91h0M62.35 92.76h0M84.29 108.58h0M68.05 83.67h0M90.54 111.25h0M81.7 113.4h0M68.77 96.31h0M75.4 109.28h0M90.49 113.66h0M74.66 99.48h0M85.37 118.36h0M63.88 82.52h0M90.99 113.93h0M90.43 108.63h0M71.82 92.85h0M80.92 95.97h0M72.04 82.1h0M96.44 108.72h0M79.55 114.19h0M67.49 79.08h0M62.91 87.85h0M76.04 90.43h0M83.22 97.67h0M75.47 104.53h0M74.33 91.51h0M89.34 108.63h0M80.92 101.94h0M90.05 98.35h0M85.15 103.84h0M85.08 104.2h0M71.99 106.22h0M77.06 99.15h0M82.57 89.1h0M82.09 90.99h0M88.17 115.58h0M71.62 97.6h0M63.26 80.67h0M60.15 81.88h0M94.1 119.13h0M70.27 85.66h0M78.19 84.74h0M68.05 88.81h0M78.87 94.67h0M79.03 115.36h0M81.38 111.62h0M78.11 106.24h0M74.36 106.73h0M73.96 92.45h0M76.25 95.79h0M92.81 116.37h0M92.75 97.07h0M87.61 117.68h0M78.97 115.28h0M78.51 88.79h0M90.46 95.22h0M71.3 88.96h0M82.92 111.36h0M60.94 85.59h0M83.44 89.78h0M61.39 84.19h0M61.37 93.87h0M79.41 88.81h0M64.4 92.71h0M63.9 87.96h0M64.13 82.87h0M67.77 73.57h0M69.28 86.92h0M94.09 103.27h0M83.33 100.13h0M65.86 90.06h0M94 98.9h0M95.4 118.36h0M100.45 108.08h0M74.6 80.28h0M88.51 105.41h0M66.64 91.75h0M75.55 95.41h0M96.29 109.75h0M83.85 94.86h0M81.56 96.21h0M69.32 102.44h0M84.44 92.72h0M79.83 93.65h0M74.88 109.9h0M82.13 116.13h0M79.74 105.41h0M77.05 100.64h0M99.75 104.03h0M79.88 94.85h0M69.08 84.53h0M85.69 97.41h0M64.45 88.81h0M81.98 92.4h0M69.5 100.87h0M73.48 99.38h0M70.52 93.71h0M87.83 102.58h0M86.51 102.47h0M67.62 85.98h0M78.71 93.74h0M77.79 87.57h0M85.17 104.63h0M88.88 103.01h0M64.85 88.72h0M81.92 94.76h0M64.38 97.87h0M73.79 95.92h0M82.04 110.67h0M77.09 103.59h0M76.65 103.88h0M74.31 98.63h0M74.92 99.11h0M79.88 104.36h0M86.58 89.53h0M81.16 107.67h0M74.16 99.61h0M81.46 99.38h0M65.25 102.7h0M78.56 110.17h0M91.35 103.44h0M65.82 106.94h0M77.21 97.5h0M84.43 100.12h0M89.36 106.06h0M85.9 97.91h0M76.61 91.95h0M88.12 99.71h0M87.73 100.99h0M77.22 101.59h0M79.53 105.35h0M74.14 105.05h0M77.39 100.74h0M86.68 104.74h0M72.66 102.01h0M85.66 102.98h0M81.03 98.69h0M81.16 105.17h0M75.82 101.19h0M83.3 107.47h0M78.35 96.9h0M78.05 107.08h0M70.28 97.86h0M79.24 104.31h0M76.99 98.12h0M83.82 98.92h0M79.78 105.44h0M78.62 96.04h0M76.15 106.28h0M75.69 111.07h0M75.04 105.47h0M82.88 96.41h0M70.98 105.2h0M70.89 102.23h0M80.41 103.33h0M86.87 102.59h0M80.78 106.96h0M77.98 109.52h0M90.62 104.04h0M80.7 108.43h0M75.8 100.82h0M79.89 112.31h0M84.49 98.95h0M76.81 98.42h0M83.33 101.31h0M77 106.09h0M79.68 106.8h0M80.59 96.54h0M65.28 103.8h0M85.65 104.46h0M82.05 113.13h0M81.21 101.67h0M79.76 97.25h0M77.4 96.17h0M86.15 102.08h0M78.7 104.94h0M83.44 103.79h0M52.64 61.84h0M49.22 83.16h0M56.48 78.08h0M68.57 70.84h0M48.6 70.99h0M67.02 66.02h0M71.55 79.96h0M54.51 96.59h0M52.77 104.13h0M52.42 89.44h0M57.17 100.15h0M48.35 90.84h0M67.93 71.44h0M65.85 77.81h0M60.53 104.13h0M50.26 82.75h0M62.67 97.87h0M56.32 98.51h0M40.93 89.15h0M66.88 69.89h0M69.62 91.11h0M62.02 63.07h0" fill="none" stroke="#1fb99a" stroke-width="0.85" stroke-linecap="round" opacity="0.8"/>
<path d="M140.11 107.44h0M133.31 127.74h0M129.68 110.6h0M134.84 130.41h0M136.96 118.22h0M125.48 126.19h0M120.93 119.95h0M148.21 120.78h0M126.42 107.91h0M119.39 111.84h0M148.48 119.84h0M145.66 107.45h0M130.68 129.04h0M143.23 133.48h0M137.95 110.99h0M126.77 113.98h0M144.36 121.53h0M120.19 114.12h0M139.19 115.88h0M122.05 110.05h0M147.09 105.2h0M128.55 122.8h0M148.21 122.76h0M127.81 108.18h0M127.19 106.93h0M127.25 102.88h0M119.44 108.91h0M117.83 108.03h0M138.81 132.81h0M136.71 117.56h0M134.91 133.03h0M137.51 112.05h0M131.63 123.67h0M141.36 105.49h0M129.33 114.53h0M133.49 103.74h0M130.54 101.11h0M120.93 127.57h0M127.35 131.35h0M127.94 132.63h0M142.78 128.56h0M133.81 114.92h0M141.54 110.9h0M135.62 106.35h0M129.11 105.66h0M143.17 114.93h0M124.35 103.84h0M122.55 104.14h0M122.45 126.09h0M127.08 98.91h0M122.72 109.11h0M150.49 111.03h0M129.34 113.46h0M142.97 106.12h0M135.41 112.15h0M123.8 125.74h0M142.19 102.44h0M146.02 127.24h0M134.83 128.72h0M134.49 103.64h0M130.29 132.75h0M133.53 109.69h0M144.22 118.84h0M123.7 115.26h0M129.59 115.88h0M119.85 104.31h0M150.18 112.93h0M140.81 101.07h0M139.87 120.89h0M141.72 128.12h0M138.42 126.01h0M129.2 110.87h0M126.33 121.63h0M118.54 103.27h0M125.21 102.35h0M122.66 116.54h0M117.47 116.88h0M116.97 106.44h0M123.72 99.92h0M122.21 123.21h0M146.08 115.77h0M139.95 112.12h0M139.99 110.52h0M132.86 104.32h0M143.71 103.07h0M125.73 113.62h0M144.31 103.12h0M127.73 103.78h0M137.1 112.75h0M139.17 132.11h0M142.63 117.43h0M130.57 119.84h0M135.48 126.76h0M126.12 110.04h0M127.08 127.74h0M147.75 115.76h0M120.59 105.78h0M136.22 104.49h0M151.01 120.07h0M122.84 113.83h0M137.77 99.13h0M148.77 116.52h0M144.68 104.95h0M121.34 125.33h0M133.11 112.55h0M146.99 126.56h0M130.74 123.78h0M128.03 111.14h0M143.36 112.8h0M125.45 126.29h0M130.92 100.71h0M125.12 130.54h0M131.3 131.02h0M130.47 106.1h0M119.41 106.03h0M144.1 116.22h0M129.02 122.73h0M129.2 131.35h0M142.67 132.04h0M136.95 116.2h0M148.1 120.12h0M127.15 129.84h0M152.26 118.36h0M143 110.91h0M135.22 108.29h0M137.02 103.55h0M127.59 134.05h0M131.94 102.76h0M134.96 103.11h0M147.38 123.09h0M139.13 123.45h0M126.33 103.03h0M125.83 109.07h0M125.2 110.94h0M148.88 116.87h0M145.85 125.53h0M139.26 120.72h0M129.33 124h0M121.06 106.55h0M138.88 120.4h0M122.26 111.08h0M122.96 104.84h0M131.63 118.32h0M130.76 103.27h0M151.89 112.39h0M143.9 127.49h0M138.96 112.58h0M138.49 101.61h0M132.99 99.83h0M131.82 124.04h0M119.9 101.33h0M133.6 130.94h0M140.07 130.03h0M120.81 118.35h0M130.41 102.62h0M137.75 108.23h0M131.96 121.5h0M122.41 104.7h0M136.69 134.65h0M131.18 119.68h0M130.23 120.18h0M125.6 118.28h0M144.73 129.92h0M148.22 124.47h0M123.32 107.33h0M122.46 107.6h0M128.13 103.01h0M133.1 98.97h0M123.23 118.14h0M140.17 127.2h0M142.08 120.6h0M135.5 127.1h0M122.46 124.45h0M124.52 121.84h0M124.63 111.1h0M131.65 106.84h0M129.77 122.71h0M124.19 103h0M122.14 121.84h0M125.98 108.51h0M139.15 128.92h0M120.66 118.45h0M129.29 106.58h0M147.08 107.7h0M144.32 129.43h0M121.17 110.95h0M141.28 120.1h0M126.46 130.89h0M139.84 98.85h0M118.87 102h0M130.99 102.5h0M142.6 127.63h0M129.23 98.94h0M141.8 132.66h0M136.37 111.83h0M129.13 130.23h0M140.81 101.59h0M123.02 112.86h0M136.84 103.99h0M129.16 121.28h0M132.44 98.25h0M127.22 129.05h0M124.5 107.28h0M124.53 121.67h0M126.74 118.29h0M120.01 119.81h0M151.3 114.23h0M150.55 107.54h0M147.9 120.26h0M140.77 125h0M132.05 113.92h0M149.18 128.92h0M138.89 112.96h0M135.67 102.4h0M122.32 119.51h0M136.93 101.85h0M131.11 109.73h0M127.88 98h0M139.4 131.97h0M138.11 133.49h0M128.49 132.78h0M136.41 126.84h0M118.74 105.58h0M138.63 123.21h0M131.82 122.34h0M126.22 121.13h0M150.41 115.02h0M116.03 116.07h0M147.36 113.43h0M143.54 116.7h0M132.45 115.85h0M129.81 107.8h0M140.09 121.61h0M121.98 103.92h0M119.64 105.68h0M138.68 132.32h0M127.41 110.59h0M117.45 106.86h0M130.82 125.22h0M140.61 127.13h0M130.82 115.96h0M136.58 109.23h0M138.86 132.19h0M145.98 107.33h0M121.57 112.34h0M128.14 102.7h0M150.12 117.04h0M141.62 117.91h0M134.36 131.39h0M122.22 112.44h0M124.22 101.72h0M138.01 127.77h0M116.71 117.61h0M143.38 125.26h0M147.74 110.43h0M142.88 104.4h0M132.87 120.44h0M125 119.1h0M120.48 110.39h0M127.12 109.95h0M132.12 127.5h0M126.75 107.22h0M145.42 114.95h0M116.06 108.36h0M123.25 103.76h0M118.97 119.64h0M128.14 96.55h0M131.46 132.01h0M146.89 122.22h0M125.29 118.38h0M150.61 119.21h0M149.05 111.12h0M122.41 106.59h0M137.92 130.02h0M140.13 116.09h0M136 116.72h0M124.44 106.12h0M142.01 114.19h0M144.63 121.91h0M136.68 129.02h0M134.73 113.18h0M133.59 114.86h0M132.23 104.41h0M127.23 114.78h0M148.76 120.04h0M146.47 108.61h0M136.91 106.27h0M140.73 134.13h0M134.2 99.59h0M151.26 120.33h0M132.06 122.5h0M123.79 118.25h0M137.6 104.25h0M139.56 100.93h0M122.27 111.87h0M117.81 112.27h0M127.72 115.77h0M137.02 110.81h0M131.97 125.9h0M150.01 121.49h0M121.25 109.01h0M141.47 109.03h0M141.75 104.43h0M129.61 108.27h0M137.83 132.1h0M140.77 118.18h0M138.6 111.17h0M132.51 120.28h0M118.78 104.98h0M146.76 131.34h0M117.5 107.95h0M141.4 107.82h0M121.11 109.22h0M119 124.32h0M127.45 100.37h0M127.7 105.33h0M148.27 109.68h0M128.12 110.82h0M140.58 107.47h0M139.36 98.01h0M132.55 122.95h0M133.55 112.07h0M144.39 106.71h0M121.74 101.95h0M143.65 116.76h0M137.5 106.36h0M137.14 113.37h0M126.52 124.27h0M134.08 113.22h0M142.27 129.69h0M131.28 120.78h0M122.7 130.79h0M134.97 126.3h0M120.29 102.27h0M138.7 109.41h0M133.34 124.49h0M132.79 111.15h0M121.03 112.3h0M139.96 121.18h0M132.9 121.55h0M138.52 128.28h0M128.29 132.35h0M126.32 123.01h0M126.81 123.9h0M122.27 114.46h0M135.33 132.55h0M137.39 131.38h0M131.86 124.46h0M126.34 111.08h0M123.07 113.42h0M145.68 124.75h0M142.01 136.82h0M150.44 118.36h0M123.36 117.29h0M122.93 124.78h0M140.99 110.41h0M119.59 112.23h0M130.61 117.93h0M117.72 120.45h0M138.59 116.62h0M134.91 102.62h0M133.39 113.17h0M125.03 115.57h0M127.87 129.93h0M140.11 128.51h0M145.74 128.24h0M121.93 115.83h0M128.8 110.05h0M137.71 122.75h0M119.19 114.16h0M122.25 119.6h0M143.97 118.57h0M124.81 107.69h0M141.46 100.18h0M123.5 120.08h0M123.3 126.93h0M142.71 111.38h0M140.78 110.47h0M135.38 112.32h0M136.39 116.11h0M132.02 120.47h0M138.47 113.88h0M121.96 109.96h0M134.93 110.93h0M127.41 111.6h0M129.17 130.62h0M129.67 101.26h0M149.72 111.05h0M145.61 108.44h0M137.25 127.48h0M147.58 128.88h0M137.29 125.7h0M128.46 116.31h0M135.44 123.95h0M129.3 126.46h0M146.03 125.81h0M137.41 114.37h0M136.47 122.57h0M143.27 116.23h0M142.41 120.53h0M135.51 128.18h0M144.99 123.92h0M138.75 112.28h0M141.57 119.43h0M140.75 130.05h0M144.49 123.06h0M144.67 118.59h0M140.05 126.2h0M139.7 124.03h0M148.18 123.78h0M136.42 133.23h0M134.14 135.3h0M139.83 120.68h0M135.77 121.02h0M138.29 124.05h0M143.56 116.54h0M153.12 123.04h0M144.55 117.79h0M137.41 119.2h0M137.38 114.41h0M134.82 130.07h0M141.49 114.87h0M148.11 115.09h0M140.6 122.4h0M134.42 115.56h0M148.85 121.51h0M142.26 118.87h0M139.17 119.28h0M145.65 125.88h0M140.9 130.3h0M139.97 122.11h0M136.79 119.41h0M134.05 122.99h0M137.89 121.45h0M146.53 119.78h0M141.68 117.95h0M142.12 120.64h0M133.34 118.74h0M153.38 121.48h0M138.41 119.65h0M141.21 127.53h0M148.75 122.72h0M140.53 121.8h0M130.4 132.16h0M143.69 132.96h0M133.76 122.19h0M139.57 120.67h0M141.62 117.19h0M146.99 124.12h0M148.01 119.85h0M147.34 125.99h0M138.19 127.87h0M138.69 118.58h0M142.63 125.43h0M142.19 123.82h0M138 107.11h0M139.44 117.36h0M134.46 122.94h0M137.74 119.99h0M132.57 120.58h0M141.83 123.3h0M138.28 118.53h0M148.39 127.04h0M141.76 123.08h0M141.09 122.46h0M141.58 115.85h0M143.51 126.95h0M140.33 127.95h0M134.02 121.07h0M136.9 124.25h0M139.08 119.57h0M143.47 119.81h0M145.15 125.29h0M145.51 119.87h0M142.11 122.02h0M142.34 124.63h0M136.39 117.28h0M147.92 126.14h0M136.61 114.12h0M137.18 118.55h0M141.22 128.07h0M140.63 127.16h0M138.06 122.42h0" fill="none" stroke="#6a9fcc" stroke-width="0.85" stroke-linecap="round" opacity="0.8"/>
<path d="M56.71 108.29h0M37.63 90.47h0M42.66 80.37h0M36.82 73.65h0M56.26 112.43h0M37.37 79.64h0M51.2 97.53h0M39.83 89.6h0M49.75 99.04h0M41.55 91.85h0M47.44 88.76h0M40.73 91.2h0M46.87 89.11h0M45.31 87.55h0M36.35 81.33h0M48.99 102.11h0M58.35 108.18h0M53.98 95.37h0M39.59 83.21h0M37.23 85.18h0M50.13 111.22h0M41.33 73.44h0M35.57 72.47h0M56.59 107.59h0M37.57 76.54h0M40.82 91.31h0M35.45 82.28h0M41.02 95.08h0M37.96 73.25h0M42.97 94.23h0M44.94 84.02h0M52.25 91.45h0M42.99 85.57h0M41.67 84.31h0M47.29 104.28h0M54.13 102.5h0M44.71 104.1h0M42.44 74.88h0M35.43 82.71h0M46.26 89.17h0M36.2 74.61h0M43.35 86.43h0M48.67 91.18h0M38.36 80.12h0M38.32 73.27h0M41.45 95.29h0M47.63 105.08h0M41.23 90.17h0M49.04 86.57h0M55.25 107.02h0M46.3 86.4h0M39.05 87.36h0M42.51 83.12h0M42.63 86.54h0M42.01 81.66h0M53.91 104.04h0M47.05 89.9h0M41.02 79.35h0M43.89 82.82h0M40.43 85.5h0M35.15 80.87h0M49.97 86h0M53.86 103.82h0M53.6 111.26h0M58.05 114.76h0M40.76 80.08h0M38.07 73.57h0M49 87.2h0M36.53 89.17h0M53.41 90.52h0M40.02 80.24h0M50.67 104.85h0M38.96 78.07h0M52.87 95.25h0M50.66 105.75h0M44.67 92.12h0M43.4 90.45h0M55.43 97.64h0M39.48 74.22h0M49.63 84.14h0M43.79 88.29h0M47.62 86.21h0M47.71 103.67h0M49.2 107.85h0M49.67 103.37h0M45.4 84.96h0M40.9 87.7h0M53.92 96.81h0M50.66 90.42h0M52.12 98.04h0M52.14 108.17h0M45.15 92.96h0M37.39 72.93h0M44.83 93.36h0M34.87 77.34h0M41 90.63h0M46.13 85.7h0M56.39 102.62h0M42.54 78.14h0M54.84 109.61h0M40.84 77.7h0M40.66 82.14h0M43.84 84.56h0M45.22 93.62h0M56.87 105.25h0M44.63 88.71h0M51.44 104.14h0M52.86 90.09h0M49.21 83.77h0M54.44 103.44h0M55.23 111.27h0M50.81 97.84h0M42.51 84.22h0M43.35 75.26h0M57.72 115.33h0M44.35 98.68h0M35.65 73.87h0M58.62 111.21h0M45.3 90.01h0M49.24 86.15h0M45.81 104.33h0M56.23 109.03h0M54.31 100.36h0M41.9 79.69h0M45 92.55h0M54.06 101.37h0M46.78 86.84h0M38.52 77.32h0M48.57 80.89h0M45.3 79.92h0M47.04 86.96h0M49.39 83.23h0M44.94 87.36h0M49.24 92.33h0M52.06 100.97h0M48.84 88.99h0M48.19 95.05h0M51.17 105.82h0M47.82 86.48h0M47.36 85.6h0M49.74 95.85h0M38.62 70.89h0M39.9 73.7h0M44.62 88.99h0M48.85 100.78h0M48.9 101.29h0M52.48 101.49h0M57.75 101.61h0M53.2 96.39h0M50.02 96.24h0M42.51 89.85h0M51.51 88.82h0M38.22 69.3h0M52.2 89.7h0M42.32 81h0M48.79 100.95h0M42.53 81.81h0M48.92 102.46h0M40.77 75.53h0M51.34 99.86h0M53.98 105.95h0M43.72 85.22h0M36.23 71.88h0M35.17 82.04h0M50.48 81.99h0M48.52 93.39h0M51.62 87.33h0M46.35 93.06h0M50.31 94.39h0M53.91 92.74h0M38.06 80.88h0M45.49 103.3h0M46.54 91.23h0M47.37 78.8h0M48.6 100.02h0M39.43 85.44h0M52.69 84.94h0M46.53 92.58h0M45.24 85.97h0M50.3 93.76h0M43.78 73.35h0M53.62 105.02h0M55.79 108.02h0M53.84 97.08h0M48.45 92.5h0M60.16 114.29h0M41.03 83.47h0M48.36 87.24h0M51.2 93.3h0M46.12 94.66h0M45.14 83.4h0M36.81 81.16h0M36.67 75.39h0M37.66 84.48h0M43.33 82.9h0M52.82 97.44h0M39.54 84.95h0M45.31 82.88h0M47.32 92.74h0M54.8 114.79h0M53.67 112.32h0M39.05 69.71h0M38.12 77.83h0M39.64 92.93h0M54.96 114.84h0M40.82 97.54h0M41.3 79.18h0M39.03 90.88h0M41.16 90.5h0M38.62 92.71h0M45.26 83.98h0M42.54 72.41h0M45.35 89.84h0M46.48 85.84h0M44.16 90.01h0M43.81 85.56h0M43.29 93.49h0M41.83 89.27h0M37.31 84.52h0M43.42 99.61h0M41.13 83.2h0M40.37 74.49h0M41.44 87.12h0M42.88 89.1h0M44.73 89.6h0M40.37 83.54h0M39.68 86.4h0M45.73 81.88h0M44.37 84.21h0M45 90.13h0M42.24 83.64h0M39.35 90.42h0M46.37 85.14h0M46.16 86.97h0M41.39 84.72h0M44.01 92.75h0M45.77 87.11h0M49.38 82.18h0M46.07 87.15h0M44.4 92.94h0M42.41 87.9h0M41.8 80.67h0M42.83 82.31h0M41.27 80.78h0M44.63 93.85h0M43.36 87.4h0M42.4 91.18h0M40.4 90.89h0M43.3 84.59h0M42.15 92.38h0M44.03 85.73h0M40.58 88.11h0M44.77 75.27h0M42.73 85.74h0M47.98 83.99h0M41.06 82.03h0M48.13 87.32h0M50.56 79.24h0M43 84.69h0M48.37 72.16h0M46.05 84.86h0M39.98 82.26h0M41.69 95.54h0M45.78 87.07h0M43.96 89.3h0M45.44 70h0M44.3 83.62h0M46.98 79.6h0M42.58 93.18h0M40.47 91.27h0M41.48 86.64h0M43.13 86.87h0M40.86 86.53h0M43.12 85.65h0M42.65 89.5h0M42.38 89.18h0M43.08 85.11h0M42.18 81.96h0M45.74 94.79h0M43.45 83.6h0M45.18 81.97h0M39.47 98.68h0M43.26 86.57h0M41.95 85.18h0M38.14 78.6h0M150.71 96.1h0M151.78 101.93h0M150.22 104.37h0M152.12 103.34h0M153.14 104.22h0M152.9 101.97h0M150.55 102.71h0M154.47 99.03h0M153.43 99.23h0M151.51 100.3h0M150.8 96.95h0M152.83 102.05h0M152.69 100.53h0M151.92 101.81h0M56.67 116.22h0M57.07 116.69h0M57.37 117.28h0M58.2 115.19h0M56.25 114.68h0M56.53 114.18h0M57.17 116.24h0M56.9 114.97h0" fill="none" stroke="#3fb54a" stroke-width="0.85" stroke-linecap="round" opacity="0.8"/>
<path d="M45.04 46.56h0M50.35 52.45h0M45.93 45.27h0M47.59 48.23h0M41.2 56.85h0M48.37 62.73h0M53.64 46.07h0M45.84 53.56h0M53.24 55.19h0M55.65 48.34h0M41.91 48.55h0M54.69 45.85h0M43.83 55.07h0M36.29 55.87h0M54.86 52.48h0M55 61.14h0M57.22 54.47h0M56.9 51.68h0M44.74 55.1h0M57.32 57.17h0M40.95 57.39h0M54.7 50.86h0M55.89 47.99h0M57.21 51.98h0M51.74 49.03h0M37.51 50.37h0M50.51 54.29h0M54.08 51.77h0M57.66 57.74h0M42.05 61h0M48.69 62.51h0M46.16 51.59h0M55.36 60.02h0M41.1 43.29h0M52.31 50.39h0M43.85 46.37h0M41.29 55.96h0M59.01 54.33h0M52.32 52.81h0M57.03 45.61h0M53.05 42.56h0M58.09 60.32h0M48.24 60.06h0M42.43 49.98h0M56.01 60.5h0M41.34 55.15h0M48.57 59.52h0M55.35 48.04h0M38.97 49.93h0M50.28 63.17h0M61.29 45.16h0M48.83 46.33h0M41.8 52.7h0M44.65 44.83h0M51.63 51.27h0M41.86 56.54h0M54.39 62.05h0M58.64 56.55h0M38.89 49.9h0M56.99 48.43h0M59.58 55.97h0M41.74 46.32h0M41.4 64.82h0M44.98 60.27h0M52.75 54.07h0M51.81 66.14h0M57.09 49.27h0M51.76 52.05h0M54.14 53.82h0M49.92 63.03h0M47.72 44.44h0M57.97 52.53h0M51.38 61.68h0M52.52 59.88h0M42.32 62.36h0M48.94 54.67h0M40.13 45.71h0M48.27 51.32h0M36.07 51.94h0M43.49 55.95h0M42.88 49.64h0M47.65 54.24h0M55.27 52.67h0M39.1 56.76h0M55.85 46.84h0M56.81 49.68h0M39.83 48.79h0M38.91 52.8h0M56.15 60.53h0M48.05 58.05h0M36.74 52.22h0M45.98 60.74h0M56.05 60.81h0M42.01 59.08h0M44.24 55.09h0M59.55 51.94h0M40.64 52.76h0M59.66 48.55h0M57.95 56.62h0M50 60.56h0M39.45 57.36h0M40.58 56.8h0M47.45 45.57h0M60.87 50.11h0M55.19 47.08h0M61.04 51.37h0M54.63 47.78h0M43.56 49.08h0M47.63 55.31h0M48.15 49.25h0M52.35 61.49h0M49.85 47.39h0M36.26 52.16h0M55.01 46.57h0M45.15 47.16h0M49.65 62.75h0M44.01 45.53h0M47.35 55.8h0M54.12 54.54h0M40.83 55.1h0M56.6 50.11h0M57.55 60.71h0M57.88 47.32h0M46.29 60.4h0M47.99 61.23h0M57.1 56.05h0M51.94 50.31h0M61.5 52.84h0M57.28 54.03h0M51.95 57.67h0M48.27 64.67h0M48.55 54.38h0M42.48 47.35h0M45.81 48.69h0M46.58 67.23h0M50.95 45.62h0M58.38 48.94h0M50.37 43.6h0M51.2 58.27h0M52.26 53.23h0M56.8 58.95h0M53.77 55.88h0M51.45 58.24h0M54.7 53.08h0M42.19 48.67h0M41.44 51.01h0M56.61 45.64h0M52.53 49.34h0M58.91 53.68h0M39.79 50.48h0M38.96 47.59h0M51.02 58.03h0M40.68 52.12h0M35.25 48.47h0M47.32 45.76h0M56.07 60.4h0M42.19 55.18h0M51.47 57.07h0M51.95 60.7h0M52.39 56.27h0M49.37 64.9h0M50.44 56.27h0M54.52 63.14h0M41.66 52.65h0M54.37 50.65h0M44.08 53.89h0M44.91 50.8h0M55.02 48.38h0M42.48 52.44h0M57.86 44.22h0M46.33 52.81h0M51.04 59.15h0M50.88 58.01h0M59.99 53.2h0M42.63 58.97h0M56.39 58.76h0M58.51 45.72h0M39.73 54.7h0M53.79 63.59h0M41.25 57.86h0M48.76 44.75h0M45.32 47.61h0M42.56 54.27h0M40.53 48.7h0M38.87 50.56h0M61.01 47.89h0M41.11 46.61h0M50.84 60.49h0M48.04 56.33h0M58.91 58.81h0M53.05 51.2h0M46.76 45.26h0M52.23 44.82h0M51.15 56.1h0M38.08 49.75h0M41.2 62.46h0M52.87 55.6h0M43.66 59.17h0M41.9 48.7h0M49.48 54.24h0M57.78 44.37h0M52.11 59.58h0M45.67 54.99h0M47.88 65.5h0M62.73 54.17h0M46.01 52h0M45.8 60.11h0M50.58 64.08h0M41.85 45h0M56.17 53.45h0M46.97 57.64h0M55.85 56.66h0M56.11 49.18h0M51.1 52.46h0M45.17 46.21h0M48.71 61.73h0M39.98 59.72h0M53.73 58.55h0M49.18 51.21h0M39.62 50.11h0M40.25 49.2h0M45.89 59.31h0M39.49 48.79h0M42.07 59.74h0M45.52 60.54h0M61.09 56.72h0M54.15 52.77h0M45.38 49.11h0M61.54 55.16h0M51.67 47.39h0M50.84 51.83h0M58.87 53.33h0M56.78 47.3h0M53.74 57.03h0M49.14 53.64h0M46.17 53.93h0M46.8 50.22h0M43.82 50.65h0M42.97 50.76h0M46.26 51.92h0M42.27 51.69h0M44.69 46.94h0M42.77 47.64h0M45.4 48.71h0M48.99 52.06h0M46.09 48.33h0M50.17 47.54h0M47.48 53.03h0M45.74 54.37h0M43.03 47.12h0M46.55 49.48h0M42.12 53.44h0M48.83 48.68h0M41.48 52.72h0M41.31 45.57h0M43.18 49.23h0M40.31 51.92h0M46.53 54.59h0M43.45 52.81h0M44.54 44.95h0M48.31 45.2h0M38.43 47.24h0M45.28 52.43h0M47.39 52.13h0M49.71 53.22h0M46.61 52.01h0M43.8 48.14h0M49.41 48.74h0M49.38 47.17h0M53.88 52.44h0M53.66 46.03h0M45.43 50.08h0M50.94 50.64h0M46.89 53.65h0M42.6 47.55h0M48.62 51.11h0M50.72 46.82h0M37.94 53.03h0M50.8 48.78h0M43.26 48.95h0M51.77 46.97h0M46.98 48.03h0M46.68 47.91h0M51.03 48.02h0M44.99 53.43h0M53.45 46.87h0M42.79 50.63h0M44.05 52.45h0M42.35 46.42h0M48.02 43.32h0M45.89 51.33h0M48.92 44.85h0M49.95 47.52h0M48.9 49.59h0M49.89 50.73h0M49.92 49.07h0M45.81 47.74h0M43.52 52.92h0M42.66 50.57h0M48.69 55.76h0M44.22 47.14h0M42.68 49.61h0M43.13 49.76h0M45.29 51.54h0M46.85 50.6h0M45.16 49.97h0M42.44 55.87h0M47.91 49.41h0M38.23 51.24h0M44.87 50.48h0M49.61 48.04h0M46.9 52.17h0M50.11 44.22h0M46.32 53.39h0M47.97 45.17h0M46.09 48.95h0M44.44 50.21h0M47.25 48.41h0M49.31 48.32h0M39.05 53.55h0M43.06 57.19h0M38.58 53.08h0M42.61 50.4h0M41.38 48h0M44.16 47.57h0M44.79 53.59h0M49.15 52.63h0M50.1 53.93h0M42.99 52.96h0M44.07 53.95h0M47.96 48.08h0M43.54 47.51h0M44.36 46.82h0M39.33 49.82h0M48.31 49.32h0M46.68 50.24h0M42.42 46.24h0M41.16 50.42h0M42.06 52.35h0M47.29 50.14h0M44.08 41.71h0M41.52 49.83h0M44.63 48.81h0M48.75 52.68h0M45.61 80.89h0M41.25 79.65h0M64.44 90.36h0M65.15 76.02h0M70.75 82.05h0M71.94 70.99h0M68.59 106.38h0M40.74 105.91h0M64.49 87.99h0M55.53 93.43h0M61.46 104.64h0M42.52 101.6h0M41.84 65.29h0M64.35 93.99h0M50.26 64.64h0M61.23 82.89h0M71.44 68.28h0M65.27 82.37h0M61.69 96.2h0M56.03 73.43h0M50.33 61.05h0" fill="none" stroke="#d89c45" stroke-width="0.85" stroke-linecap="round" opacity="0.8"/>
<path d="M77.08 133.86h0M83.5 143.54h0M88.5 146.5h0M78.41 144.17h0M86.55 147.67h0M76.73 122.46h0M86.55 143.66h0M90.45 135.05h0M83.24 137.86h0M89.27 129.35h0M91.95 136.96h0M82.54 128.72h0M84.41 134.65h0M75.1 127.98h0M82.85 120.13h0M81.8 142.67h0M89.79 132.71h0M84.31 139.14h0M93.01 133.82h0M91.85 130.87h0M87.19 118.76h0M83.72 131.33h0M86.24 122.26h0M84.1 137.46h0M79.69 143.34h0M77.53 119.1h0M78.9 147.38h0M80.86 147.42h0M73.09 136.01h0M78.63 129.37h0M89.48 133.23h0M83.21 117.14h0M80.97 150.64h0M79.62 144.43h0M79.49 116.4h0M92.1 130.02h0M84.79 137.84h0M85.85 142.77h0M77.87 126.78h0M92.22 133.52h0M89.99 137.22h0M91.37 134.12h0M78.21 126.21h0M82.6 130.86h0M78.44 121.14h0M75.75 130.85h0M81.3 134.13h0M80.19 119.64h0M81.05 116.08h0M77.71 137.75h0M81.82 118.21h0M83.35 141.9h0M92.5 137.8h0M89.12 140.85h0M82.86 133.61h0M78.35 137.03h0M91.17 126.57h0M82.75 134.84h0M76.71 123.16h0M84.29 124.64h0M80.26 138.67h0M83.58 120.19h0M81.22 140.45h0M80.8 130.05h0M81.52 145.01h0M78.62 123.6h0M86.31 123.01h0M81.59 121.77h0M82.98 135.45h0M83.4 142.56h0M90.24 128.95h0M82.72 131h0M82.15 123.72h0M75.99 133.19h0M78.2 141.16h0M89.4 136.55h0M79.66 119.22h0M91.13 139.48h0M87.06 147.77h0M91.11 145.26h0M87.75 140.39h0M71.72 130.54h0M79.19 131.15h0M89.64 144.34h0M73.24 133.92h0M72.89 130.48h0M84.33 136.92h0M88.7 121.56h0M79.2 123.05h0M86.8 117.7h0M80.46 123.87h0M83.52 130.57h0M86.39 135.66h0M76.16 130.09h0M82.86 116.37h0M77.79 132.2h0M79.34 132.16h0M88.62 143.73h0M78.05 142.08h0M75.57 129.12h0M87.59 148.31h0M89.22 126.38h0M91.92 142.33h0M85.97 138.18h0M79.83 144.13h0M88.41 145.78h0M76.23 142.49h0M78.82 141.45h0M78.84 136.32h0M86.18 149.88h0M80.75 124.74h0M79.78 120.62h0M93.76 139.08h0M77.46 123.39h0M83.6 122.77h0M78.61 126.04h0M91.89 134.9h0M85.85 138.94h0M79.98 142.65h0M85.22 128.33h0M72.94 138.92h0M79.56 142.19h0M82.96 122.03h0M92.37 146.97h0M77.78 122.35h0M93.81 141.79h0M82.7 127.54h0M72.73 126.31h0M89.13 129.24h0M75.72 141.89h0M76.57 138.04h0M85.61 141.33h0M85.69 140.67h0M82.34 138.25h0M78.09 126.09h0M83.65 135.96h0M82.25 134.41h0M92.41 140.95h0M89.69 126.68h0M84.1 133.98h0M86.54 142.27h0M86.42 123.34h0M75.02 132.58h0M85.75 122h0M75.61 121.28h0M75.74 126.07h0M90.76 140.69h0M86.47 121.79h0M76.17 126.17h0M76.47 146.95h0M90.81 141.66h0M87.63 143.05h0M94.04 132.28h0M86.89 139.33h0M83.57 135.72h0M76.66 137.98h0M83.35 124.25h0M90.93 141.61h0M78.7 124.91h0M90.25 135.63h0M74.42 131.91h0M84.34 123.31h0M79.65 123.47h0M91.25 124.08h0M82.86 138.73h0M93.51 135.81h0M93.35 129.31h0M77.27 136.84h0M76.14 124.26h0M80.23 135.32h0M88.2 121.65h0M92.97 136.9h0M76.55 133.2h0M86.55 143.09h0M78.27 128.74h0M88.67 128.51h0M73.52 125.2h0M83.43 127.76h0M82.62 135.74h0M89.47 136.41h0M76.16 124.52h0M80.67 143.81h0M80.68 142.18h0M81.19 137.19h0M89.9 144.06h0M85.06 117.36h0M92.32 132.14h0M93.7 127.41h0M87.77 145.51h0M85.03 118.39h0M91.56 133.88h0M83.4 121.96h0M80.69 142.47h0M81.32 120.22h0M76.23 141.58h0M82.79 137.5h0M82.57 120.6h0M74.74 133.71h0M83.41 125.34h0M76.81 136.96h0M88.1 147.65h0M77.18 141.82h0M77.18 130.54h0M92.84 133.64h0M90.43 138.46h0M81.36 134.5h0M78.08 138.76h0M90.9 126.49h0M89.55 128.78h0M88.71 135.85h0M83.71 121.14h0M89.95 127.02h0M87.19 124.33h0M77.6 134.84h0M86.77 130.17h0M93.13 138.71h0M77.57 127.43h0M73.88 135.82h0M80.9 138.06h0M79.36 144.4h0M84.37 134.06h0M78.85 120.21h0M75.35 124.31h0M86.84 117.97h0M73.74 127.12h0M80.95 145.86h0M84.94 145.56h0M83.93 133.08h0M89.66 144.01h0M86.88 134.9h0M80.59 141.14h0M83.47 148.07h0M76.95 133.53h0M87.46 123.84h0M84.93 125.68h0M82.39 145.95h0M77.71 120.41h0M89.32 139.85h0M92.59 143.62h0M87.93 117.66h0M85.24 144.13h0M76.94 118.37h0M88.36 122.57h0M86.8 132.35h0M85.39 140.08h0M81.41 123.54h0M81.09 143.6h0M87.83 129.97h0M92.72 136.54h0M82.16 119.02h0M82.53 143.7h0M88.36 137.33h0M85.23 122.54h0M77.73 119.13h0M90.4 130.59h0M78.97 146.26h0M81.22 143.78h0M78.98 128.8h0M89.7 126.83h0M78.4 137.57h0M85.52 133.26h0M79.93 129.02h0M75.69 123.57h0M79.11 133.7h0M82.06 130.94h0M90.86 139.14h0M92.84 142.62h0M86.27 138.17h0M80.57 133.93h0M83.9 132.41h0M84 136.92h0M80.43 137.09h0M82.84 138.82h0M89.15 138.45h0M80.73 140.94h0M87.6 135.52h0M83.02 146.53h0M79.97 134.67h0M82.81 137.47h0M87.51 138.06h0M83.59 135.62h0M81.58 130.21h0M83.04 143.06h0M84.75 143.31h0M87.67 131.59h0M88.08 138.91h0M91.26 137.82h0M86.61 143.61h0M75 139.36h0M85.51 138.04h0M78.38 135.67h0M82.25 140.5h0M81.02 137.41h0M85.94 139.97h0M83.73 140.41h0M82.03 139h0M84.22 138.66h0M77.57 137.52h0M79.98 138.57h0M86.36 133.41h0M91.24 130.15h0M81.53 137.94h0M89.05 141.53h0M82.97 137.04h0M88.64 135.65h0M79.04 138.99h0M84.88 134.63h0M88.56 134.71h0M79.12 137.04h0M83.89 139.12h0M80.05 138.64h0M82.6 143.83h0M85.27 137.44h0M82.55 132.82h0M81.22 134.61h0M84.53 136.12h0M80.83 137.85h0M82.34 133.81h0M80.81 140.84h0M84.7 140.75h0M80.58 135.51h0M80.03 143.36h0M79.91 138.19h0M79.04 134.95h0M85.39 136.59h0M77.71 142.28h0M82.84 144.73h0M77.97 145.22h0M83.49 147.4h0M81.01 144.76h0M79.72 143.04h0M81.34 144.09h0M79.21 149.82h0M78.6 140.19h0M76.07 143.97h0M82.71 147.46h0M87.29 144.35h0M76.87 142.24h0M79.97 142.87h0M85.36 145.61h0M85.77 142.09h0M84.83 144.52h0M79.78 144.12h0M84.1 145.32h0M80.25 145.63h0M76.98 145.67h0M80.99 144.55h0M81.36 145.5h0M84.51 143.9h0M78.34 142.23h0M43.32 89.72h0M44.63 85.43h0M51.02 104.57h0M50.51 95.81h0M64.39 93h0M66.24 105.01h0M68.13 60.57h0M52.02 78.63h0M52.45 100.55h0M71.6 74.77h0M61.78 86.36h0M61.01 92.11h0M50.36 59.44h0M68.02 107.1h0M56.81 79.94h0M46.73 64.35h0M50.5 83.85h0M42.74 79.92h0M45.47 74.61h0M50.26 87.08h0M61.47 72.13h0M55.85 69.47h0" fill="none" stroke="#e46bb0" stroke-width="0.85" stroke-linecap="round" opacity="0.8"/>
<path d="M129.63 93.42h0M131.43 93.58h0M134.41 94.89h0M136.69 96.52h0M135.95 93.11h0M133.81 100.5h0M131.82 94.32h0M146.04 98.96h0M144.82 101.55h0M139.48 99.47h0M135.79 99.54h0M138.55 87.57h0M135.37 98.65h0M132.07 86.66h0M134.3 92.27h0M139.65 90.52h0M139.43 90.77h0M144.91 92.85h0M137.77 98.72h0M126.22 92.82h0M129.72 91.63h0M141.71 90.71h0M138.97 92.28h0M143.04 95.75h0M129.42 100.83h0M128.8 95.49h0M137.76 100.92h0M139.03 89.4h0M138.62 102.46h0M122.93 94.08h0M126.55 96.42h0M135.63 99.9h0M135.64 91.94h0M130.45 89.5h0M137.84 97.97h0M136.98 89.04h0M129.37 103.51h0M130.76 100.39h0M128.29 95.08h0M143.01 97.34h0M138.9 89.66h0M132.53 92.44h0M129.9 97.15h0M134.51 99.38h0M133.8 96.58h0M143.02 94.82h0M145.48 93.68h0M124.61 98.34h0M134.34 105.41h0M132.31 103.43h0M128.56 99.63h0M133.03 97.85h0M130.95 90.23h0M135.26 100.53h0M133.55 101.37h0M135.39 100.96h0M127.77 95.43h0M124.46 88.13h0M144.88 96.41h0M136.42 87.95h0M137.21 95.43h0M143.63 98.74h0M138.39 85.69h0M138.5 90.79h0M137.64 90.23h0M133.06 92.19h0M137.58 88.4h0M137.37 92.77h0M133.07 92.13h0M138.06 95.98h0M125.3 91.38h0M123.53 97.54h0M128.13 97.42h0M134.04 94.06h0M141.01 99.54h0M136.63 91.11h0M139.97 102.73h0M140.92 90.73h0M134.96 94.1h0M131.6 91.72h0M144.19 97.76h0M134 102.58h0M135.17 91.54h0M136.98 90.83h0M131.88 92.78h0M124.53 98.67h0M132.07 97.83h0M134.09 98.35h0M125.21 94.51h0M134.97 94.63h0M137.73 99.79h0M129.19 89.15h0M124 93.3h0M134.98 91.98h0M124.39 94.14h0M129.41 98.63h0M125.75 98.52h0M131.34 92.41h0M134.58 98.76h0M125.82 90.24h0M143.97 102.94h0M133.95 99.84h0M137.21 103.55h0M131.27 96.51h0M141.52 92.47h0M135.03 91.15h0M136.33 89.56h0M136.02 88.84h0M146.99 92.71h0M135.69 89.73h0M136.43 95.28h0M135.91 86.45h0M125.74 91.19h0M135.4 102.79h0M136.23 95.17h0M139.37 99.8h0M146.71 95.6h0M131.21 93.59h0M130.8 88h0M127.87 95.11h0M128.78 90.01h0M133.96 97.45h0M144.51 95h0M136.56 97.56h0M135.2 91.77h0M142.05 90.09h0M129.78 90.98h0M144.94 97.51h0M130.27 87.82h0M135.5 94.12h0M134.6 97.84h0M136.15 92.27h0M135.04 91.92h0M129.22 96.94h0M139.83 94.17h0M134.9 88.52h0M134.32 93.1h0M136.17 97.29h0M132.94 92.65h0M133.86 92.56h0M137.57 89.07h0M130.71 95.44h0M138.47 93.45h0M131.84 91.55h0M129.61 94.95h0M140.72 92.8h0M129.53 90.29h0M132.26 93.07h0M136.55 91.8h0M134.2 95.93h0M139.27 91.02h0M134.54 93.45h0M133.47 91.42h0M134.09 92.44h0M133.91 90.46h0M137.26 91.21h0M133.28 88.98h0M137.94 91.72h0M135.68 92.79h0M133.03 93.28h0M137.35 92.53h0M127.72 94.42h0M135.88 89.93h0M132.58 91.21h0M132.13 90.41h0" fill="none" stroke="#b383c6" stroke-width="0.85" stroke-linecap="round" opacity="0.8"/>
<path d="M53.76 38.4h0M53.63 39.32h0M57.18 40.82h0M53.8 37.92h0M56.37 39.75h0M58.81 39.54h0M55.13 39.34h0M60.76 39.5h0M53.31 41.2h0M56.89 37.19h0M56.1 36.23h0M56.5 39.18h0M58.88 43.17h0M58.58 37.13h0M53.1 40h0M61.23 41.28h0M55.57 42.02h0M60.08 42.98h0M57.82 34.93h0M53.3 37.74h0M57.54 36.87h0M58.09 38.28h0M56.33 37.25h0M61.34 40.44h0M70.73 95.8h0M56.03 94.82h0M63.48 75.65h0M49.95 65.59h0M54.69 78.69h0M54.46 92.66h0M70.56 93.64h0M68.13 69.97h0M43.7 98.06h0M50.51 94.08h0M40.91 96.12h0M53.98 87.86h0M69.62 103.21h0M45.83 74h0M51.03 93.88h0M42.42 104h0M46.81 83.18h0M68.19 78.36h0M60.47 99.79h0M47.77 92.01h0M69.57 73.06h0M55.94 84.74h0" fill="none" stroke="#f0736b" stroke-width="0.85" stroke-linecap="round" opacity="0.8"/>
<text x="60" y="36" font-size="6.5" text-anchor="middle" font-weight="bold" fill="#000">8</text>
<text x="47" y="54" font-size="6.5" text-anchor="middle" font-weight="bold" fill="#000">5</text>
<text x="81" y="69" font-size="6.5" text-anchor="middle" font-weight="bold" fill="#000">0</text>
<text x="47" y="95.5" font-size="6.5" text-anchor="middle" font-weight="bold" fill="#000">4</text>
<text x="75" y="104" font-size="6.5" text-anchor="middle" font-weight="bold" fill="#000">2</text>
<text x="102" y="111" font-size="6.5" text-anchor="middle" font-weight="bold" fill="#000">1</text>
<text x="84" y="136.5" font-size="6.5" text-anchor="middle" font-weight="bold" fill="#000">6</text>
<text x="133" y="95" font-size="6.5" text-anchor="middle" font-weight="bold" fill="#000">7</text>
<text x="139" y="122" font-size="6.5" text-anchor="middle" font-weight="bold" fill="#000">3</text>
<circle cx="135.8" cy="20" r="1.95" fill="#9dab3a"/>
<text x="140" y="22.2" font-size="6.2" stroke="#222" stroke-width="0.17" fill="#222">0. Immature-like AM</text>
<circle cx="135.8" cy="27.36" r="1.95" fill="#19b5e8"/>
<text x="140" y="29.56" font-size="6.2" stroke="#222" stroke-width="0.17" fill="#222">1. Ccr2+ monocytes</text>
<circle cx="135.8" cy="34.72" r="1.95" fill="#1fb99a"/>
<text x="140" y="36.92" font-size="6.2" stroke="#222" stroke-width="0.17" fill="#222">2. Ifit1+ monocytes</text>
<circle cx="135.8" cy="42.08" r="1.95" fill="#6a9fcc"/>
<text x="140" y="44.28" font-size="6.2" stroke="#222" stroke-width="0.17" fill="#222">3. Cx3cr1+ Hp+ mon/mac</text>
<circle cx="135.8" cy="49.44" r="1.95" fill="#3fb54a"/>
<text x="140" y="51.64" font-size="6.2" stroke="#222" stroke-width="0.17" fill="#222">4. Cd3+ myeloid cells</text>
<circle cx="135.8" cy="56.8" r="1.95" fill="#d89c45"/>
<text x="140" y="59" font-size="6.2" stroke="#222" stroke-width="0.17" fill="#222">5. AM</text>
<circle cx="135.8" cy="64.16" r="1.95" fill="#e46bb0"/>
<text x="140" y="66.36" font-size="6.2" stroke="#222" stroke-width="0.17" fill="#222">6. Hilpda+ Mox+ IM</text>
<circle cx="135.8" cy="71.52" r="1.95" fill="#b383c6"/>
<text x="140" y="73.72" font-size="6.2" stroke="#222" stroke-width="0.17" fill="#222">7. Ace+ Ear2+ IM</text>
<circle cx="135.8" cy="78.88" r="1.95" fill="#f0736b"/>
<text x="140" y="81.08" font-size="6.2" stroke="#222" stroke-width="0.17" fill="#222">8. AM</text>
</g>
<g>
<text x="218.9" y="10.8" font-size="11.3" stroke="#000" stroke-width="0.4" font-weight="bold" fill="#000">B</text>
<text x="335" y="15.9" font-size="6.9" stroke="#111" stroke-width="0.19" text-anchor="middle" fill="#111">Cluster</text>
<text x="238.4" y="33.23" font-size="5.6" stroke="#111" stroke-width="0.11" text-anchor="end" font-style="italic" fill="#111">Mafb</text>
<text x="238.4" y="44.07" font-size="5.6" stroke="#111" stroke-width="0.11" text-anchor="end" font-style="italic" fill="#111">Cd14</text>
<text x="238.4" y="54.92" font-size="5.6" stroke="#111" stroke-width="0.11" text-anchor="end" font-style="italic" fill="#111">H2-Ab1</text>
<text x="238.4" y="65.77" font-size="5.6" stroke="#111" stroke-width="0.11" text-anchor="end" font-style="italic" fill="#111">H2-Aa</text>
<text x="238.4" y="76.62" font-size="5.6" stroke="#111" stroke-width="0.11" text-anchor="end" font-style="italic" fill="#111">H2-Eb1</text>
<text x="238.4" y="87.47" font-size="5.6" stroke="#111" stroke-width="0.11" text-anchor="end" font-style="italic" fill="#111">Cx3cr1</text>
<text x="238.4" y="98.32" font-size="5.6" stroke="#111" stroke-width="0.11" text-anchor="end" font-style="italic" fill="#111">Ccr2</text>
<text x="238.4" y="109.17" font-size="5.6" stroke="#111" stroke-width="0.11" text-anchor="end" font-style="italic" fill="#111">Ly6c2</text>
<text x="238.4" y="120.02" font-size="5.6" stroke="#111" stroke-width="0.11" text-anchor="end" font-style="italic" fill="#111">Sell</text>
<text x="238.4" y="130.88" font-size="5.6" stroke="#111" stroke-width="0.11" text-anchor="end" font-style="italic" fill="#111">Chil3</text>
<text x="248.5" y="22.6" font-size="6" stroke="#222" stroke-width="0.17" text-anchor="middle" fill="#222">5</text>
<text x="260.15" y="22.6" font-size="6" stroke="#222" stroke-width="0.17" text-anchor="middle" fill="#222">8</text>
<text x="283.95" y="22.6" font-size="6" stroke="#222" stroke-width="0.17" text-anchor="middle" fill="#222">0</text>
<text x="314.8" y="22.6" font-size="6" stroke="#222" stroke-width="0.17" text-anchor="middle" fill="#222">4</text>
<text x="335" y="22.6" font-size="6" stroke="#222" stroke-width="0.17" text-anchor="middle" fill="#222">2</text>
<text x="353.7" y="22.6" font-size="6" stroke="#222" stroke-width="0.17" text-anchor="middle" fill="#222">6</text>
<text x="376.55" y="22.6" font-size="6" stroke="#222" stroke-width="0.17" text-anchor="middle" fill="#222">1</text>
<text x="402.75" y="22.6" font-size="6" stroke="#222" stroke-width="0.17" text-anchor="middle" fill="#222">3</text>
<text x="419.3" y="22.6" font-size="6" stroke="#222" stroke-width="0.17" text-anchor="middle" fill="#222">7</text>
<path d="M251.73 112.6v10.9" stroke="#fff6d6" stroke-width="1.02" fill="none"/>
<path d="M266.27 112.6v10.9M270.81 112.6v10.9M271.71 112.6v10.9M287.12 112.6v10.9M292.56 112.6v10.9M293.47 112.6v10.9M295.28 112.6v10.9M302.53 112.6v10.9" stroke="#fff3ce" stroke-width="1.01" fill="none"/>
<path d="M241.58 112.6v10.9M242.51 112.6v10.9M246.19 112.6v10.9M246.19 123.45v10.9M251.73 123.45v10.9M256.34 123.45v10.9" stroke="#fff3ce" stroke-width="1.02" fill="none"/>
<path d="M258.84 112.6v10.9M261.46 112.6v10.9M258.84 123.45v10.9M260.59 123.45v10.9" stroke="#fff0c7" stroke-width="0.97" fill="none"/>
<path d="M313.03 112.6v10.9" stroke="#fff0c7" stroke-width="0.98" fill="none"/>
<path d="M270.81 80.05v10.9M283.5 80.05v10.9M300.72 80.05v10.9M267.18 112.6v10.9M269.9 112.6v10.9M272.62 112.6v10.9M274.43 112.6v10.9M275.34 112.6v10.9M276.24 112.6v10.9M279.87 112.6v10.9M282.59 112.6v10.9M283.5 112.6v10.9M285.31 112.6v10.9M286.22 112.6v10.9M288.94 112.6v10.9M289.84 112.6v10.9M290.75 112.6v10.9M291.66 112.6v10.9M299.81 112.6v10.9M301.63 112.6v10.9M304.35 112.6v10.9M265.37 123.45v10.9M268.09 123.45v10.9M268.99 123.45v10.9M269.9 123.45v10.9M270.81 123.45v10.9M273.53 123.45v10.9M274.43 123.45v10.9M278.06 123.45v10.9M283.5 123.45v10.9M284.4 123.45v10.9M288.94 123.45v10.9M292.56 123.45v10.9M293.47 123.45v10.9M294.38 123.45v10.9M302.53 123.45v10.9M304.35 123.45v10.9" stroke="#fff0c7" stroke-width="1.01" fill="none"/>
<path d="M334.55 80.05v10.9" stroke="#fff0c7" stroke-width="1.01" fill="none"/>
<path d="M350.94 112.6v10.9" stroke="#fff0c7" stroke-width="1.02" fill="none"/>
<path d="M244.35 112.6v10.9M245.27 112.6v10.9M248.96 112.6v10.9M253.57 112.6v10.9M254.49 112.6v10.9M255.42 112.6v10.9M256.34 112.6v10.9M240.66 123.45v10.9M243.43 123.45v10.9M244.35 123.45v10.9M247.12 123.45v10.9M250.81 123.45v10.9M255.42 123.45v10.9" stroke="#fff0c7" stroke-width="1.02" fill="none"/>
<path d="M259.71 112.6v10.9M260.59 112.6v10.9M259.71 123.45v10.9M261.46 123.45v10.9" stroke="#feeebf" stroke-width="0.97" fill="none"/>
<path d="M308.61 80.05v10.9M306.84 112.6v10.9M309.49 112.6v10.9M312.15 112.6v10.9M314.8 112.6v10.9M316.57 112.6v10.9M322.76 112.6v10.9M313.92 123.45v10.9M318.34 123.45v10.9" stroke="#feeebf" stroke-width="0.98" fill="none"/>
<path d="M368.09 80.05v10.9M371.65 80.05v10.9M380.56 80.05v10.9M385.01 80.05v10.9M388.57 80.05v10.9M390.35 80.05v10.9" stroke="#feeebf" stroke-width="0.99" fill="none"/>
<path d="M266.27 80.05v10.9M267.18 80.05v10.9M268.09 80.05v10.9M284.4 80.05v10.9M287.12 80.05v10.9M288.94 80.05v10.9M294.38 80.05v10.9M303.44 80.05v10.9M263.55 112.6v10.9M264.46 112.6v10.9M265.37 112.6v10.9M268.99 112.6v10.9M277.15 112.6v10.9M278.06 112.6v10.9M278.96 112.6v10.9M280.78 112.6v10.9M288.03 112.6v10.9M294.38 112.6v10.9M296.19 112.6v10.9M297.09 112.6v10.9M298 112.6v10.9M298.91 112.6v10.9M300.72 112.6v10.9M264.46 123.45v10.9M266.27 123.45v10.9M267.18 123.45v10.9M271.71 123.45v10.9M272.62 123.45v10.9M277.15 123.45v10.9M279.87 123.45v10.9M280.78 123.45v10.9M286.22 123.45v10.9M287.12 123.45v10.9M288.03 123.45v10.9M289.84 123.45v10.9M290.75 123.45v10.9M295.28 123.45v10.9M298 123.45v10.9M298.91 123.45v10.9M299.81 123.45v10.9M300.72 123.45v10.9M301.63 123.45v10.9M303.44 123.45v10.9" stroke="#feeebf" stroke-width="1.01" fill="none"/>
<path d="M325.45 80.05v10.9M326.36 80.05v10.9M335.45 80.05v10.9M337.27 80.05v10.9M338.18 80.05v10.9M344.55 80.05v10.9" stroke="#feeebf" stroke-width="1.01" fill="none"/>
<path d="M400.47 47.5v10.9" stroke="#feeebf" stroke-width="1.01" fill="none"/>
<path d="M352.78 80.05v10.9M360.14 80.05v10.9M349.1 112.6v10.9M353.7 112.6v10.9M352.78 123.45v10.9" stroke="#feeebf" stroke-width="1.02" fill="none"/>
<path d="M240.66 112.6v10.9M243.43 112.6v10.9M249.88 112.6v10.9M250.81 112.6v10.9M252.65 112.6v10.9M241.58 123.45v10.9M248.04 123.45v10.9M249.88 123.45v10.9M253.57 123.45v10.9M254.49 123.45v10.9" stroke="#feeebf" stroke-width="1.02" fill="none"/>
<path d="M261.46 90.9v10.9" stroke="#feebb8" stroke-width="0.97" fill="none"/>
<path d="M310.38 80.05v10.9M318.34 80.05v10.9M308.61 112.6v10.9M315.68 112.6v10.9M318.34 112.6v10.9M320.11 112.6v10.9M320.99 112.6v10.9M307.73 123.45v10.9M308.61 123.45v10.9M309.49 123.45v10.9M313.03 123.45v10.9M314.8 123.45v10.9M315.68 123.45v10.9M317.45 123.45v10.9M320.99 123.45v10.9" stroke="#feebb8" stroke-width="0.98" fill="none"/>
<path d="M364.53 80.05v10.9M366.31 80.05v10.9M368.98 80.05v10.9M369.87 80.05v10.9M370.76 80.05v10.9M376.1 80.05v10.9M377 80.05v10.9M377.89 80.05v10.9M379.67 80.05v10.9M381.45 80.05v10.9M382.34 80.05v10.9M383.23 80.05v10.9M386.79 80.05v10.9M371.65 112.6v10.9M421.97 112.6v10.9" stroke="#feebb8" stroke-width="0.99" fill="none"/>
<path d="M265.37 80.05v10.9M269.9 80.05v10.9M271.71 80.05v10.9M272.62 80.05v10.9M273.53 80.05v10.9M278.96 80.05v10.9M279.87 80.05v10.9M286.22 80.05v10.9M293.47 80.05v10.9M297.09 80.05v10.9M298 80.05v10.9M299.81 80.05v10.9M301.63 80.05v10.9M302.53 80.05v10.9M304.35 80.05v10.9M268.09 112.6v10.9M273.53 112.6v10.9M281.68 112.6v10.9M284.4 112.6v10.9M303.44 112.6v10.9M263.55 123.45v10.9M275.34 123.45v10.9M276.24 123.45v10.9M278.96 123.45v10.9M281.68 123.45v10.9M282.59 123.45v10.9M285.31 123.45v10.9M291.66 123.45v10.9M296.19 123.45v10.9M297.09 123.45v10.9" stroke="#feebb8" stroke-width="1.01" fill="none"/>
<path d="M327.27 80.05v10.9M328.18 80.05v10.9M329.09 80.05v10.9M330 80.05v10.9M331.82 80.05v10.9M332.73 80.05v10.9M336.36 80.05v10.9M339.09 80.05v10.9M340 80.05v10.9M340.91 80.05v10.9M342.73 80.05v10.9M343.64 80.05v10.9M325.45 112.6v10.9M334.55 112.6v10.9M325.45 123.45v10.9M344.55 123.45v10.9" stroke="#feebb8" stroke-width="1.01" fill="none"/>
<path d="M411.43 47.5v10.9M398.64 58.35v10.9M400.47 58.35v10.9M403.21 58.35v10.9M398.64 69.2v10.9M412.34 69.2v10.9" stroke="#feebb8" stroke-width="1.01" fill="none"/>
<path d="M347.26 80.05v10.9M349.1 80.05v10.9M355.54 80.05v10.9M356.46 80.05v10.9M347.26 112.6v10.9M348.18 112.6v10.9M350.02 112.6v10.9M354.62 112.6v10.9M356.46 112.6v10.9M357.38 112.6v10.9M358.3 112.6v10.9M359.22 112.6v10.9M360.14 112.6v10.9M349.1 123.45v10.9M355.54 123.45v10.9" stroke="#feebb8" stroke-width="1.02" fill="none"/>
<path d="M247.12 101.75v10.9M247.12 112.6v10.9M248.04 112.6v10.9M242.51 123.45v10.9M248.96 123.45v10.9M252.65 123.45v10.9" stroke="#feebb8" stroke-width="1.02" fill="none"/>
<path d="M258.84 90.9v10.9M261.46 101.75v10.9" stroke="#fee8b0" stroke-width="0.97" fill="none"/>
<path d="M307.73 80.05v10.9M309.49 80.05v10.9M311.26 80.05v10.9M313.03 80.05v10.9M319.22 80.05v10.9M322.76 80.05v10.9M307.73 112.6v10.9M310.38 112.6v10.9M313.92 112.6v10.9M319.22 112.6v10.9M321.87 112.6v10.9M306.84 123.45v10.9M310.38 123.45v10.9M316.57 123.45v10.9M319.22 123.45v10.9M320.11 123.45v10.9M321.87 123.45v10.9" stroke="#fee8b0" stroke-width="0.98" fill="none"/>
<path d="M380.56 47.5v10.9M362.75 80.05v10.9M365.42 80.05v10.9M367.2 80.05v10.9M372.54 80.05v10.9M373.43 80.05v10.9M374.32 80.05v10.9M375.21 80.05v10.9M385.9 80.05v10.9M418.41 112.6v10.9M420.19 112.6v10.9M422.86 112.6v10.9M423.75 112.6v10.9" stroke="#fee8b0" stroke-width="0.99" fill="none"/>
<path d="M294.38 36.65v10.9M264.46 80.05v10.9M268.99 80.05v10.9M274.43 80.05v10.9M280.78 80.05v10.9M281.68 80.05v10.9M282.59 80.05v10.9M288.03 80.05v10.9M289.84 80.05v10.9M290.75 80.05v10.9M292.56 80.05v10.9M298.91 80.05v10.9" stroke="#fee8b0" stroke-width="1.01" fill="none"/>
<path d="M330.91 80.05v10.9M341.82 80.05v10.9M328.18 112.6v10.9M332.73 112.6v10.9M343.64 112.6v10.9M344.55 112.6v10.9M329.09 123.45v10.9M334.55 123.45v10.9M335.45 123.45v10.9M343.64 123.45v10.9" stroke="#fee8b0" stroke-width="1.01" fill="none"/>
<path d="M398.64 47.5v10.9M401.38 47.5v10.9M412.34 47.5v10.9M394.98 58.35v10.9M396.81 58.35v10.9M399.55 58.35v10.9M402.29 58.35v10.9M408.69 58.35v10.9M396.81 69.2v10.9M411.43 69.2v10.9M394.98 112.6v10.9" stroke="#fee8b0" stroke-width="1.01" fill="none"/>
<path d="M353.7 80.05v10.9M351.86 112.6v10.9M352.78 112.6v10.9M355.54 112.6v10.9M347.26 123.45v10.9M348.18 123.45v10.9M350.02 123.45v10.9M354.62 123.45v10.9M359.22 123.45v10.9M360.14 123.45v10.9" stroke="#fee8b0" stroke-width="1.02" fill="none"/>
<path d="M246.19 36.65v10.9M250.81 36.65v10.9M254.49 36.65v10.9M241.58 101.75v10.9M250.81 101.75v10.9M254.49 101.75v10.9M245.27 123.45v10.9" stroke="#fee8b0" stroke-width="1.02" fill="none"/>
<path d="M261.46 36.65v10.9M258.84 101.75v10.9" stroke="#fee2a8" stroke-width="0.97" fill="none"/>
<path d="M310.38 36.65v10.9M313.92 80.05v10.9M316.57 80.05v10.9M320.11 80.05v10.9M321.87 80.05v10.9M311.26 112.6v10.9M317.45 112.6v10.9M311.26 123.45v10.9M312.15 123.45v10.9M322.76 123.45v10.9" stroke="#fee2a8" stroke-width="0.98" fill="none"/>
<path d="M372.54 47.5v10.9M363.64 80.05v10.9M378.78 80.05v10.9M384.12 80.05v10.9M387.68 80.05v10.9M389.46 80.05v10.9M370.76 112.6v10.9M377.89 112.6v10.9M418.41 36.65v10.9M419.3 112.6v10.9M415.74 123.45v10.9" stroke="#fee2a8" stroke-width="0.99" fill="none"/>
<path d="M293.47 36.65v10.9M275.34 80.05v10.9M276.24 80.05v10.9M277.15 80.05v10.9M278.06 80.05v10.9M285.31 80.05v10.9M295.28 80.05v10.9M296.19 80.05v10.9" stroke="#fee2a8" stroke-width="1.01" fill="none"/>
<path d="M333.64 80.05v10.9M329.09 112.6v10.9M330 112.6v10.9M330.91 112.6v10.9M331.82 112.6v10.9M333.64 112.6v10.9M337.27 112.6v10.9M338.18 112.6v10.9M339.09 112.6v10.9M342.73 112.6v10.9M326.36 123.45v10.9M327.27 123.45v10.9M330 123.45v10.9M337.27 123.45v10.9M339.09 123.45v10.9M342.73 123.45v10.9" stroke="#fee2a8" stroke-width="1.01" fill="none"/>
<path d="M394.07 47.5v10.9M396.81 47.5v10.9M397.73 47.5v10.9M399.55 47.5v10.9M402.29 47.5v10.9M404.12 47.5v10.9M405.03 47.5v10.9M406.86 47.5v10.9M407.77 47.5v10.9M408.69 47.5v10.9M410.52 47.5v10.9M393.16 58.35v10.9M397.73 58.35v10.9M401.38 58.35v10.9M405.95 58.35v10.9M406.86 58.35v10.9M409.6 58.35v10.9M411.43 58.35v10.9M394.07 69.2v10.9M395.9 69.2v10.9M400.47 69.2v10.9M405.95 69.2v10.9M407.77 69.2v10.9M410.52 69.2v10.9M405.95 80.05v10.9M408.69 80.05v10.9M397.73 112.6v10.9" stroke="#fee2a8" stroke-width="1.01" fill="none"/>
<path d="M348.18 80.05v10.9M350.02 80.05v10.9M354.62 80.05v10.9M357.38 80.05v10.9M358.3 80.05v10.9M359.22 80.05v10.9M350.94 123.45v10.9M353.7 123.45v10.9M356.46 123.45v10.9M357.38 123.45v10.9" stroke="#fee2a8" stroke-width="1.02" fill="none"/>
<path d="M240.66 36.65v10.9M241.58 36.65v10.9M256.34 36.65v10.9M244.35 101.75v10.9M251.73 101.75v10.9" stroke="#fee2a8" stroke-width="1.02" fill="none"/>
<path d="M260.59 36.65v10.9M260.59 101.75v10.9" stroke="#fedca1" stroke-width="0.97" fill="none"/>
<path d="M307.73 36.65v10.9M309.49 36.65v10.9M317.45 36.65v10.9M318.34 36.65v10.9M322.76 36.65v10.9M306.84 80.05v10.9M312.15 80.05v10.9M315.68 80.05v10.9M317.45 80.05v10.9M320.99 80.05v10.9" stroke="#fedca1" stroke-width="0.98" fill="none"/>
<path d="M375.21 47.5v10.9M376.1 47.5v10.9M387.68 47.5v10.9M365.42 58.35v10.9M385.9 58.35v10.9M369.87 69.2v10.9M375.21 69.2v10.9M382.34 69.2v10.9M383.23 69.2v10.9M390.35 69.2v10.9M364.53 112.6v10.9M366.31 112.6v10.9M368.09 112.6v10.9M390.35 112.6v10.9M418.41 69.2v10.9M421.08 69.2v10.9M414.85 112.6v10.9M415.74 112.6v10.9M421.08 112.6v10.9" stroke="#fedca1" stroke-width="0.99" fill="none"/>
<path d="M271.71 36.65v10.9M274.43 36.65v10.9M300.72 36.65v10.9M302.53 36.65v10.9M263.55 80.05v10.9M291.66 80.05v10.9" stroke="#fedca1" stroke-width="1.01" fill="none"/>
<path d="M330.91 36.65v10.9M331.82 36.65v10.9M326.36 112.6v10.9M335.45 112.6v10.9M340 112.6v10.9M340.91 112.6v10.9M341.82 112.6v10.9M330.91 123.45v10.9M331.82 123.45v10.9M338.18 123.45v10.9" stroke="#fedca1" stroke-width="1.01" fill="none"/>
<path d="M393.16 47.5v10.9M394.98 47.5v10.9M403.21 47.5v10.9M405.95 47.5v10.9M409.6 47.5v10.9M394.07 58.35v10.9M395.9 58.35v10.9M404.12 58.35v10.9M412.34 58.35v10.9M393.16 69.2v10.9M394.98 69.2v10.9M397.73 69.2v10.9M399.55 69.2v10.9M405.03 69.2v10.9M408.69 69.2v10.9M409.6 69.2v10.9M400.47 112.6v10.9M402.29 112.6v10.9M405.95 112.6v10.9M410.52 112.6v10.9" stroke="#fedca1" stroke-width="1.01" fill="none"/>
<path d="M350.94 80.05v10.9M351.86 123.45v10.9M358.3 123.45v10.9" stroke="#fedca1" stroke-width="1.02" fill="none"/>
<path d="M243.43 36.65v10.9M248.04 36.65v10.9M251.73 36.65v10.9M240.66 90.9v10.9M242.51 90.9v10.9M250.81 90.9v10.9M240.66 101.75v10.9M246.19 101.75v10.9M248.04 101.75v10.9M248.96 101.75v10.9M253.57 101.75v10.9M255.42 101.75v10.9" stroke="#fedca1" stroke-width="1.02" fill="none"/>
<path d="M258.84 36.65v10.9M260.59 80.05v10.9" stroke="#fdd599" stroke-width="0.97" fill="none"/>
<path d="M306.84 36.65v10.9M313.92 36.65v10.9M315.68 36.65v10.9M316.57 36.65v10.9M320.11 36.65v10.9" stroke="#fdd599" stroke-width="0.98" fill="none"/>
<path d="M365.42 47.5v10.9M367.2 47.5v10.9M368.09 47.5v10.9M368.98 47.5v10.9M370.76 47.5v10.9M371.65 47.5v10.9M377.89 47.5v10.9M384.12 47.5v10.9M386.79 47.5v10.9M364.53 58.35v10.9M378.78 58.35v10.9M386.79 58.35v10.9M364.53 69.2v10.9M365.42 69.2v10.9M368.98 69.2v10.9M371.65 69.2v10.9M372.54 69.2v10.9M381.45 69.2v10.9M386.79 69.2v10.9M389.46 69.2v10.9M367.2 112.6v10.9M372.54 112.6v10.9M374.32 112.6v10.9M376.1 112.6v10.9M377 112.6v10.9M379.67 112.6v10.9M380.56 112.6v10.9M382.34 112.6v10.9M383.23 112.6v10.9M385.01 112.6v10.9M385.9 112.6v10.9M387.68 112.6v10.9M389.46 112.6v10.9M421.97 25.8v10.9M416.63 36.65v10.9M419.3 36.65v10.9M421.08 36.65v10.9M422.86 36.65v10.9M414.85 47.5v10.9M416.63 47.5v10.9M417.52 47.5v10.9M419.3 47.5v10.9M414.85 58.35v10.9M417.52 58.35v10.9M421.08 58.35v10.9M416.63 112.6v10.9M417.52 112.6v10.9M418.41 123.45v10.9M419.3 123.45v10.9M421.08 123.45v10.9M421.97 123.45v10.9" stroke="#fdd599" stroke-width="0.99" fill="none"/>
<path d="M264.46 36.65v10.9M272.62 36.65v10.9M273.53 36.65v10.9M276.24 36.65v10.9M277.15 36.65v10.9M280.78 36.65v10.9M281.68 36.65v10.9M283.5 36.65v10.9M287.12 36.65v10.9M288.94 36.65v10.9" stroke="#fdd599" stroke-width="1.01" fill="none"/>
<path d="M329.09 36.65v10.9M335.45 36.65v10.9M340 36.65v10.9M327.27 112.6v10.9M336.36 112.6v10.9M328.18 123.45v10.9M333.64 123.45v10.9M336.36 123.45v10.9M340 123.45v10.9M340.91 123.45v10.9M341.82 123.45v10.9" stroke="#fdd599" stroke-width="1.01" fill="none"/>
<path d="M395.9 47.5v10.9M405.03 58.35v10.9M407.77 58.35v10.9M410.52 58.35v10.9M402.29 69.2v10.9M403.21 69.2v10.9M404.12 69.2v10.9M406.86 69.2v10.9M394.07 80.05v10.9M400.47 80.05v10.9M395.9 112.6v10.9M399.55 112.6v10.9M405.03 112.6v10.9M408.69 112.6v10.9M411.43 112.6v10.9" stroke="#fdd599" stroke-width="1.01" fill="none"/>
<path d="M351.86 80.05v10.9" stroke="#fdd599" stroke-width="1.02" fill="none"/>
<path d="M242.51 36.65v10.9M247.12 36.65v10.9M249.88 36.65v10.9M247.12 80.05v10.9M254.49 80.05v10.9M256.34 80.05v10.9M241.58 90.9v10.9M243.43 90.9v10.9M245.27 90.9v10.9M247.12 90.9v10.9M251.73 90.9v10.9M252.65 90.9v10.9M253.57 90.9v10.9M254.49 90.9v10.9M243.43 101.75v10.9M252.65 101.75v10.9M256.34 101.75v10.9" stroke="#fdd599" stroke-width="1.02" fill="none"/>
<path d="M261.46 80.05v10.9M259.71 90.9v10.9M260.59 90.9v10.9" stroke="#fdcf92" stroke-width="0.97" fill="none"/>
<path d="M314.8 25.8v10.9M308.61 36.65v10.9M312.15 36.65v10.9M313.03 36.65v10.9M314.8 36.65v10.9M319.22 36.65v10.9M320.99 36.65v10.9M314.8 80.05v10.9" stroke="#fdcf92" stroke-width="0.98" fill="none"/>
<path d="M373.43 36.65v10.9M382.34 36.65v10.9M385.01 36.65v10.9M389.46 36.65v10.9M364.53 47.5v10.9M379.67 47.5v10.9M383.23 47.5v10.9M385.01 47.5v10.9M389.46 47.5v10.9M367.2 58.35v10.9M371.65 58.35v10.9M380.56 58.35v10.9M382.34 58.35v10.9M385.01 58.35v10.9M387.68 58.35v10.9M376.1 69.2v10.9M378.78 69.2v10.9M363.64 112.6v10.9M365.42 112.6v10.9M369.87 112.6v10.9M373.43 112.6v10.9M378.78 112.6v10.9M381.45 112.6v10.9M384.12 112.6v10.9M386.79 112.6v10.9M388.57 112.6v10.9M415.74 25.8v10.9M416.63 25.8v10.9M418.41 25.8v10.9M419.3 25.8v10.9M415.74 36.65v10.9M417.52 36.65v10.9M421.97 36.65v10.9M420.19 47.5v10.9M421.97 47.5v10.9M423.75 47.5v10.9M419.3 58.35v10.9M422.86 58.35v10.9M423.75 58.35v10.9M419.3 69.2v10.9M416.63 90.9v10.9M421.08 90.9v10.9M421.97 90.9v10.9M416.63 123.45v10.9M417.52 123.45v10.9M422.86 123.45v10.9M423.75 123.45v10.9" stroke="#fdcf92" stroke-width="0.99" fill="none"/>
<path d="M290.75 25.8v10.9M265.37 36.65v10.9M267.18 36.65v10.9M270.81 36.65v10.9M275.34 36.65v10.9M279.87 36.65v10.9M282.59 36.65v10.9M284.4 36.65v10.9M285.31 36.65v10.9M286.22 36.65v10.9M289.84 36.65v10.9M290.75 36.65v10.9M292.56 36.65v10.9M296.19 36.65v10.9M298 36.65v10.9M299.81 36.65v10.9M304.35 36.65v10.9M263.55 90.9v10.9" stroke="#fdcf92" stroke-width="1.01" fill="none"/>
<path d="M325.45 36.65v10.9M326.36 36.65v10.9M328.18 36.65v10.9M330 36.65v10.9M333.64 36.65v10.9M336.36 36.65v10.9M342.73 36.65v10.9M332.73 123.45v10.9" stroke="#fdcf92" stroke-width="1.01" fill="none"/>
<path d="M409.6 36.65v10.9M401.38 69.2v10.9M394.98 80.05v10.9M398.64 80.05v10.9M399.55 80.05v10.9M398.64 112.6v10.9M412.34 112.6v10.9" stroke="#fdcf92" stroke-width="1.01" fill="none"/>
<path d="M359.22 69.2v10.9M360.14 69.2v10.9" stroke="#fdcf92" stroke-width="1.02" fill="none"/>
<path d="M245.27 36.65v10.9M248.96 36.65v10.9M252.65 36.65v10.9M253.57 36.65v10.9M255.42 36.65v10.9M242.51 80.05v10.9M245.27 80.05v10.9M246.19 80.05v10.9M252.65 80.05v10.9M255.42 80.05v10.9M246.19 90.9v10.9M248.04 90.9v10.9M249.88 90.9v10.9M255.42 90.9v10.9M256.34 90.9v10.9M242.51 101.75v10.9M245.27 101.75v10.9M249.88 101.75v10.9" stroke="#fdcf92" stroke-width="1.02" fill="none"/>
<path d="M259.71 36.65v10.9M258.84 80.05v10.9M259.71 101.75v10.9" stroke="#fdc98a" stroke-width="0.97" fill="none"/>
<path d="M318.34 25.8v10.9" stroke="#fdc98a" stroke-width="0.98" fill="none"/>
<path d="M380.56 36.65v10.9M385.9 36.65v10.9M381.45 47.5v10.9M382.34 47.5v10.9M363.64 58.35v10.9M368.09 58.35v10.9M369.87 58.35v10.9M370.76 58.35v10.9M375.21 58.35v10.9M376.1 58.35v10.9M377 58.35v10.9M379.67 58.35v10.9M381.45 58.35v10.9M388.57 58.35v10.9M389.46 58.35v10.9M362.75 69.2v10.9M363.64 69.2v10.9M366.31 69.2v10.9M368.09 69.2v10.9M370.76 69.2v10.9M384.12 69.2v10.9M385.01 69.2v10.9M385.9 69.2v10.9M387.68 69.2v10.9M362.75 112.6v10.9M368.98 112.6v10.9M375.21 112.6v10.9M420.19 25.8v10.9M421.08 25.8v10.9M422.86 25.8v10.9M423.75 36.65v10.9M421.08 47.5v10.9M422.86 47.5v10.9M415.74 58.35v10.9M416.63 58.35v10.9M418.41 58.35v10.9M420.19 58.35v10.9M421.97 58.35v10.9M416.63 69.2v10.9M420.19 69.2v10.9M422.86 69.2v10.9M423.75 69.2v10.9M417.52 80.05v10.9M421.97 80.05v10.9M414.85 101.75v10.9M421.08 101.75v10.9M421.97 101.75v10.9M422.86 101.75v10.9" stroke="#fdc98a" stroke-width="0.99" fill="none"/>
<path d="M263.55 36.65v10.9M269.9 36.65v10.9M278.06 36.65v10.9M278.96 36.65v10.9M288.03 36.65v10.9M291.66 36.65v10.9M295.28 36.65v10.9M298.91 36.65v10.9M301.63 36.65v10.9M303.44 36.65v10.9M271.71 101.75v10.9" stroke="#fdc98a" stroke-width="1.01" fill="none"/>
<path d="M328.18 25.8v10.9M334.55 36.65v10.9M337.27 36.65v10.9M338.18 36.65v10.9M340.91 36.65v10.9M344.55 36.65v10.9" stroke="#fdc98a" stroke-width="1.01" fill="none"/>
<path d="M394.07 25.8v10.9M398.64 25.8v10.9M412.34 25.8v10.9M402.29 36.65v10.9M396.81 80.05v10.9M397.73 80.05v10.9M401.38 80.05v10.9M407.77 80.05v10.9M411.43 80.05v10.9M412.34 80.05v10.9M393.16 112.6v10.9M394.07 112.6v10.9M396.81 112.6v10.9M401.38 112.6v10.9M403.21 112.6v10.9M404.12 112.6v10.9M407.77 112.6v10.9M409.6 112.6v10.9" stroke="#fdc98a" stroke-width="1.01" fill="none"/>
<path d="M355.54 69.2v10.9M349.1 90.9v10.9M359.22 90.9v10.9" stroke="#fdc98a" stroke-width="1.02" fill="none"/>
<path d="M244.35 36.65v10.9M241.58 80.05v10.9M249.88 80.05v10.9M250.81 80.05v10.9M253.57 80.05v10.9M244.35 90.9v10.9" stroke="#fdc98a" stroke-width="1.02" fill="none"/>
<path d="M261.46 25.8v10.9" stroke="#fcc186" stroke-width="0.97" fill="none"/>
<path d="M313.92 25.8v10.9M316.57 25.8v10.9M311.26 36.65v10.9M318.34 90.9v10.9" stroke="#fcc186" stroke-width="0.98" fill="none"/>
<path d="M364.53 25.8v10.9M368.09 36.65v10.9M370.76 36.65v10.9M371.65 36.65v10.9M372.54 36.65v10.9M381.45 36.65v10.9M383.23 36.65v10.9M390.35 36.65v10.9M362.75 47.5v10.9M363.64 47.5v10.9M366.31 47.5v10.9M373.43 47.5v10.9M374.32 47.5v10.9M385.9 47.5v10.9M388.57 47.5v10.9M390.35 47.5v10.9M362.75 58.35v10.9M372.54 58.35v10.9M373.43 58.35v10.9M383.23 58.35v10.9M377 69.2v10.9M377.89 69.2v10.9M380.56 69.2v10.9M388.57 69.2v10.9M380.56 123.45v10.9M423.75 25.8v10.9M420.19 36.65v10.9M415.74 47.5v10.9M418.41 47.5v10.9M417.52 69.2v10.9M416.63 80.05v10.9M419.3 80.05v10.9M422.86 80.05v10.9M414.85 90.9v10.9M418.41 90.9v10.9M419.3 90.9v10.9M420.19 90.9v10.9M422.86 90.9v10.9M423.75 90.9v10.9M415.74 101.75v10.9M420.19 101.75v10.9M414.85 123.45v10.9M420.19 123.45v10.9" stroke="#fcc186" stroke-width="0.99" fill="none"/>
<path d="M266.27 36.65v10.9M268.09 36.65v10.9M268.99 36.65v10.9M297.09 36.65v10.9M278.06 90.9v10.9M287.12 90.9v10.9M264.46 101.75v10.9M282.59 101.75v10.9M291.66 101.75v10.9M300.72 101.75v10.9" stroke="#fcc186" stroke-width="1.01" fill="none"/>
<path d="M327.27 36.65v10.9M332.73 36.65v10.9M339.09 36.65v10.9M341.82 36.65v10.9M343.64 36.65v10.9" stroke="#fcc186" stroke-width="1.01" fill="none"/>
<path d="M396.81 25.8v10.9M400.47 25.8v10.9M404.12 25.8v10.9M405.95 25.8v10.9M408.69 25.8v10.9M409.6 25.8v10.9M410.52 25.8v10.9M411.43 25.8v10.9M402.29 80.05v10.9M404.12 80.05v10.9M405.03 80.05v10.9M406.86 80.05v10.9M409.6 80.05v10.9M410.52 80.05v10.9M406.86 112.6v10.9M394.98 123.45v10.9" stroke="#fcc186" stroke-width="1.01" fill="none"/>
<path d="M349.1 47.5v10.9M354.62 47.5v10.9M359.22 47.5v10.9M349.1 58.35v10.9M352.78 58.35v10.9M349.1 69.2v10.9M350.02 69.2v10.9M356.46 69.2v10.9M347.26 90.9v10.9M358.3 90.9v10.9" stroke="#fcc186" stroke-width="1.02" fill="none"/>
<path d="M244.35 80.05v10.9M248.04 80.05v10.9M248.96 90.9v10.9" stroke="#fcc186" stroke-width="1.02" fill="none"/>
<path d="M259.71 80.05v10.9" stroke="#fbb981" stroke-width="0.97" fill="none"/>
<path d="M307.73 25.8v10.9M321.87 36.65v10.9M319.22 101.75v10.9" stroke="#fbb981" stroke-width="0.98" fill="none"/>
<path d="M362.75 25.8v10.9M363.64 25.8v10.9M366.31 25.8v10.9M370.76 25.8v10.9M375.21 25.8v10.9M379.67 25.8v10.9M380.56 25.8v10.9M383.23 25.8v10.9M386.79 25.8v10.9M388.57 25.8v10.9M362.75 36.65v10.9M368.98 36.65v10.9M375.21 36.65v10.9M377.89 36.65v10.9M369.87 47.5v10.9M377 47.5v10.9M366.31 58.35v10.9M368.98 58.35v10.9M374.32 58.35v10.9M377.89 58.35v10.9M384.12 58.35v10.9M390.35 58.35v10.9M374.32 69.2v10.9M379.67 69.2v10.9M365.42 123.45v10.9M370.76 123.45v10.9M372.54 123.45v10.9M373.43 123.45v10.9M376.1 123.45v10.9M377.89 123.45v10.9M386.79 123.45v10.9M388.57 123.45v10.9M389.46 123.45v10.9M414.85 69.2v10.9M415.74 69.2v10.9M418.41 80.05v10.9M415.74 90.9v10.9M417.52 90.9v10.9M416.63 101.75v10.9M418.41 101.75v10.9M419.3 101.75v10.9" stroke="#fbb981" stroke-width="0.99" fill="none"/>
<path d="M272.62 25.8v10.9M286.22 25.8v10.9M287.12 25.8v10.9M302.53 25.8v10.9M274.43 90.9v10.9M302.53 90.9v10.9M266.27 101.75v10.9M270.81 101.75v10.9M273.53 101.75v10.9M284.4 101.75v10.9M285.31 101.75v10.9M288.94 101.75v10.9M290.75 101.75v10.9M298 101.75v10.9M298.91 101.75v10.9" stroke="#fbb981" stroke-width="1.01" fill="none"/>
<path d="M337.27 25.8v10.9M340.91 25.8v10.9M344.55 47.5v10.9M325.45 58.35v10.9M330 58.35v10.9M335.45 69.2v10.9M325.45 90.9v10.9" stroke="#fbb981" stroke-width="1.01" fill="none"/>
<path d="M393.16 25.8v10.9M394.98 25.8v10.9M399.55 25.8v10.9M407.77 25.8v10.9M397.73 36.65v10.9M400.47 36.65v10.9M405.95 36.65v10.9M412.34 36.65v10.9M395.9 80.05v10.9M403.21 80.05v10.9M396.81 101.75v10.9M409.6 101.75v10.9M396.81 123.45v10.9M399.55 123.45v10.9M400.47 123.45v10.9M408.69 123.45v10.9M409.6 123.45v10.9" stroke="#fbb981" stroke-width="1.01" fill="none"/>
<path d="M350.02 47.5v10.9M358.3 47.5v10.9M360.14 47.5v10.9M358.3 58.35v10.9M360.14 58.35v10.9M352.78 69.2v10.9M358.3 69.2v10.9M356.46 90.9v10.9M349.1 101.75v10.9" stroke="#fbb981" stroke-width="1.02" fill="none"/>
<path d="M251.73 25.8v10.9M240.66 80.05v10.9M243.43 80.05v10.9M251.73 80.05v10.9" stroke="#fbb981" stroke-width="1.02" fill="none"/>
<path d="M258.84 25.8v10.9" stroke="#fbb27d" stroke-width="0.97" fill="none"/>
<path d="M306.84 25.8v10.9M315.68 25.8v10.9M319.22 25.8v10.9M318.34 69.2v10.9M306.84 90.9v10.9M307.73 90.9v10.9M315.68 90.9v10.9M317.45 90.9v10.9M313.92 101.75v10.9M314.8 101.75v10.9M318.34 101.75v10.9M321.87 101.75v10.9" stroke="#fbb27d" stroke-width="0.98" fill="none"/>
<path d="M367.2 25.8v10.9M381.45 25.8v10.9M382.34 25.8v10.9M364.53 36.65v10.9M366.31 36.65v10.9M367.2 36.65v10.9M369.87 36.65v10.9M379.67 36.65v10.9M386.79 36.65v10.9M387.68 36.65v10.9M388.57 36.65v10.9M378.78 47.5v10.9M367.2 69.2v10.9M373.43 69.2v10.9M384.12 101.75v10.9M364.53 123.45v10.9M368.09 123.45v10.9M368.98 123.45v10.9M371.65 123.45v10.9M377 123.45v10.9M381.45 123.45v10.9M382.34 123.45v10.9M383.23 123.45v10.9M384.12 123.45v10.9M417.52 25.8v10.9M414.85 36.65v10.9M421.97 69.2v10.9M414.85 80.05v10.9M415.74 80.05v10.9M420.19 80.05v10.9M421.08 80.05v10.9M423.75 80.05v10.9M417.52 101.75v10.9" stroke="#fbb27d" stroke-width="0.99" fill="none"/>
<path d="M265.37 25.8v10.9M267.18 25.8v10.9M274.43 25.8v10.9M288.94 25.8v10.9M266.27 90.9v10.9M267.18 90.9v10.9M269.9 90.9v10.9M270.81 90.9v10.9M277.15 90.9v10.9M280.78 90.9v10.9M282.59 90.9v10.9M290.75 90.9v10.9M292.56 90.9v10.9M297.09 90.9v10.9M299.81 90.9v10.9M300.72 90.9v10.9M267.18 101.75v10.9M269.9 101.75v10.9M274.43 101.75v10.9M275.34 101.75v10.9M279.87 101.75v10.9M280.78 101.75v10.9M288.03 101.75v10.9M292.56 101.75v10.9M301.63 101.75v10.9M304.35 101.75v10.9" stroke="#fbb27d" stroke-width="1.01" fill="none"/>
<path d="M325.45 25.8v10.9M327.27 25.8v10.9M331.82 25.8v10.9M339.09 25.8v10.9M344.55 25.8v10.9M342.73 47.5v10.9M333.64 58.35v10.9M325.45 69.2v10.9M329.09 69.2v10.9M344.55 69.2v10.9" stroke="#fbb27d" stroke-width="1.01" fill="none"/>
<path d="M397.73 25.8v10.9M401.38 25.8v10.9M402.29 25.8v10.9M393.16 36.65v10.9M394.07 36.65v10.9M398.64 36.65v10.9M401.38 36.65v10.9M403.21 36.65v10.9M410.52 36.65v10.9M411.43 36.65v10.9M393.16 80.05v10.9M411.43 90.9v10.9M397.73 101.75v10.9M402.29 123.45v10.9" stroke="#fbb27d" stroke-width="1.01" fill="none"/>
<path d="M352.78 47.5v10.9M353.7 47.5v10.9M359.22 58.35v10.9M348.18 69.2v10.9M351.86 69.2v10.9M353.7 69.2v10.9M354.62 69.2v10.9M348.18 90.9v10.9M350.02 90.9v10.9M352.78 90.9v10.9M354.62 90.9v10.9M352.78 101.75v10.9M354.62 101.75v10.9" stroke="#fbb27d" stroke-width="1.02" fill="none"/>
<path d="M240.66 25.8v10.9M241.58 25.8v10.9M248.04 25.8v10.9M254.49 25.8v10.9M255.42 25.8v10.9M256.34 25.8v10.9M248.96 80.05v10.9" stroke="#fbb27d" stroke-width="1.02" fill="none"/>
<path d="M308.61 25.8v10.9M310.38 25.8v10.9M317.45 25.8v10.9M321.87 25.8v10.9M308.61 90.9v10.9M322.76 90.9v10.9M307.73 101.75v10.9M322.76 101.75v10.9" stroke="#faaa78" stroke-width="0.98" fill="none"/>
<path d="M371.65 25.8v10.9M372.54 25.8v10.9M373.43 25.8v10.9M376.1 25.8v10.9M378.78 25.8v10.9M384.12 25.8v10.9M385.9 25.8v10.9M389.46 25.8v10.9M365.42 36.65v10.9M374.32 36.65v10.9M376.1 36.65v10.9M377 36.65v10.9M384.12 36.65v10.9M368.98 90.9v10.9M380.56 90.9v10.9M385.9 90.9v10.9M380.56 101.75v10.9M369.87 123.45v10.9M374.32 123.45v10.9M385.9 123.45v10.9M414.85 25.8v10.9M423.75 101.75v10.9" stroke="#faaa78" stroke-width="0.99" fill="none"/>
<path d="M268.09 25.8v10.9M268.99 25.8v10.9M269.9 25.8v10.9M271.71 25.8v10.9M280.78 25.8v10.9M283.5 25.8v10.9M284.4 25.8v10.9M285.31 25.8v10.9M291.66 25.8v10.9M298 25.8v10.9M298.91 25.8v10.9M300.72 25.8v10.9M301.63 25.8v10.9M304.35 25.8v10.9M268.09 90.9v10.9M268.99 90.9v10.9M272.62 90.9v10.9M276.24 90.9v10.9M279.87 90.9v10.9M283.5 90.9v10.9M288.94 90.9v10.9M295.28 90.9v10.9M298 90.9v10.9M301.63 90.9v10.9M303.44 90.9v10.9M265.37 101.75v10.9M272.62 101.75v10.9M281.68 101.75v10.9M294.38 101.75v10.9M295.28 101.75v10.9M297.09 101.75v10.9M299.81 101.75v10.9M302.53 101.75v10.9M303.44 101.75v10.9" stroke="#faaa78" stroke-width="1.01" fill="none"/>
<path d="M334.55 25.8v10.9M343.64 25.8v10.9M325.45 47.5v10.9M326.36 47.5v10.9M331.82 47.5v10.9M334.55 47.5v10.9M338.18 47.5v10.9M328.18 58.35v10.9M332.73 58.35v10.9M334.55 58.35v10.9M340 58.35v10.9M327.27 69.2v10.9M328.18 69.2v10.9M330 69.2v10.9M331.82 69.2v10.9M332.73 69.2v10.9M338.18 69.2v10.9M339.09 69.2v10.9M340 69.2v10.9M340.91 69.2v10.9M341.82 69.2v10.9M339.09 90.9v10.9M342.73 90.9v10.9" stroke="#faaa78" stroke-width="1.01" fill="none"/>
<path d="M406.86 25.8v10.9M396.81 36.65v10.9M399.55 36.65v10.9M405.03 36.65v10.9M406.86 36.65v10.9M407.77 36.65v10.9M408.69 36.65v10.9M400.47 90.9v10.9M405.95 90.9v10.9M394.98 101.75v10.9M398.64 101.75v10.9M400.47 101.75v10.9M408.69 101.75v10.9M393.16 123.45v10.9M403.21 123.45v10.9M404.12 123.45v10.9M405.03 123.45v10.9M407.77 123.45v10.9M411.43 123.45v10.9" stroke="#faaa78" stroke-width="1.01" fill="none"/>
<path d="M349.1 36.65v10.9M355.54 36.65v10.9M360.14 36.65v10.9M348.18 47.5v10.9M355.54 47.5v10.9M356.46 47.5v10.9M357.38 47.5v10.9M350.02 58.35v10.9M350.94 58.35v10.9M351.86 58.35v10.9M356.46 58.35v10.9M347.26 69.2v10.9M350.94 69.2v10.9M357.38 69.2v10.9M350.94 90.9v10.9M353.7 90.9v10.9M360.14 90.9v10.9M358.3 101.75v10.9M359.22 101.75v10.9" stroke="#faaa78" stroke-width="1.02" fill="none"/>
<path d="M242.51 25.8v10.9M245.27 25.8v10.9M249.88 25.8v10.9M250.81 25.8v10.9" stroke="#faaa78" stroke-width="1.02" fill="none"/>
<path d="M261.46 58.35v10.9M261.46 69.2v10.9" stroke="#f9a274" stroke-width="0.97" fill="none"/>
<path d="M311.26 25.8v10.9M312.15 25.8v10.9M313.03 25.8v10.9M320.99 25.8v10.9M309.49 69.2v10.9M316.57 69.2v10.9M319.22 69.2v10.9M310.38 90.9v10.9M312.15 90.9v10.9M313.92 90.9v10.9M320.11 90.9v10.9M321.87 90.9v10.9M317.45 101.75v10.9M320.99 101.75v10.9" stroke="#f9a274" stroke-width="0.98" fill="none"/>
<path d="M365.42 25.8v10.9M368.09 25.8v10.9M369.87 25.8v10.9M377 25.8v10.9M385.01 25.8v10.9M363.64 36.65v10.9M378.78 36.65v10.9M369.87 90.9v10.9M386.79 90.9v10.9M370.76 101.75v10.9M363.64 123.45v10.9M367.2 123.45v10.9M378.78 123.45v10.9M379.67 123.45v10.9M385.01 123.45v10.9M390.35 123.45v10.9" stroke="#f9a274" stroke-width="0.99" fill="none"/>
<path d="M263.55 25.8v10.9M266.27 25.8v10.9M270.81 25.8v10.9M276.24 25.8v10.9M277.15 25.8v10.9M278.06 25.8v10.9M288.03 25.8v10.9M299.81 25.8v10.9M303.44 25.8v10.9M265.37 90.9v10.9M271.71 90.9v10.9M275.34 90.9v10.9M281.68 90.9v10.9M284.4 90.9v10.9M286.22 90.9v10.9M289.84 90.9v10.9M293.47 90.9v10.9M298.91 90.9v10.9M268.99 101.75v10.9M276.24 101.75v10.9M278.06 101.75v10.9M286.22 101.75v10.9M287.12 101.75v10.9M296.19 101.75v10.9" stroke="#f9a274" stroke-width="1.01" fill="none"/>
<path d="M326.36 25.8v10.9M329.09 25.8v10.9M330 25.8v10.9M330.91 25.8v10.9M332.73 25.8v10.9M335.45 25.8v10.9M336.36 25.8v10.9M338.18 25.8v10.9M340 25.8v10.9M341.82 25.8v10.9M342.73 25.8v10.9M328.18 47.5v10.9M337.27 47.5v10.9M339.09 47.5v10.9M340.91 47.5v10.9M335.45 58.35v10.9M337.27 58.35v10.9M340.91 58.35v10.9M343.64 58.35v10.9M333.64 69.2v10.9M334.55 69.2v10.9M337.27 69.2v10.9M331.82 90.9v10.9M337.27 90.9v10.9" stroke="#f9a274" stroke-width="1.01" fill="none"/>
<path d="M405.03 25.8v10.9M409.6 90.9v10.9M410.52 90.9v10.9M412.34 90.9v10.9M401.38 101.75v10.9M405.95 101.75v10.9M411.43 101.75v10.9M412.34 101.75v10.9M394.07 123.45v10.9M395.9 123.45v10.9M397.73 123.45v10.9M398.64 123.45v10.9M401.38 123.45v10.9M406.86 123.45v10.9" stroke="#f9a274" stroke-width="1.01" fill="none"/>
<path d="M347.26 36.65v10.9M352.78 36.65v10.9M356.46 36.65v10.9M350.94 47.5v10.9M347.26 58.35v10.9M353.7 58.35v10.9M354.62 58.35v10.9M357.38 58.35v10.9M355.54 90.9v10.9M357.38 90.9v10.9M347.26 101.75v10.9M350.02 101.75v10.9M350.94 101.75v10.9M356.46 101.75v10.9M360.14 101.75v10.9" stroke="#f9a274" stroke-width="1.02" fill="none"/>
<path d="M246.19 25.8v10.9M253.57 25.8v10.9M256.34 69.2v10.9" stroke="#f9a274" stroke-width="1.02" fill="none"/>
<path d="M259.71 25.8v10.9" stroke="#f79b73" stroke-width="0.97" fill="none"/>
<path d="M320.11 25.8v10.9M319.22 58.35v10.9M320.99 69.2v10.9M309.49 90.9v10.9M313.03 90.9v10.9M314.8 90.9v10.9M316.57 90.9v10.9M306.84 101.75v10.9M310.38 101.75v10.9M311.26 101.75v10.9M312.15 101.75v10.9M316.57 101.75v10.9" stroke="#f79b73" stroke-width="0.98" fill="none"/>
<path d="M377.89 25.8v10.9M387.68 25.8v10.9M390.35 25.8v10.9M364.53 90.9v10.9M383.23 90.9v10.9M371.65 101.75v10.9M362.75 123.45v10.9M366.31 123.45v10.9M375.21 123.45v10.9" stroke="#f79b73" stroke-width="0.99" fill="none"/>
<path d="M264.46 25.8v10.9M294.38 25.8v10.9M295.28 25.8v10.9M297.09 25.8v10.9M294.38 90.9v10.9M304.35 90.9v10.9M263.55 101.75v10.9M278.96 101.75v10.9M283.5 101.75v10.9M293.47 101.75v10.9" stroke="#f79b73" stroke-width="1.01" fill="none"/>
<path d="M333.64 25.8v10.9M329.09 47.5v10.9M330.91 47.5v10.9M332.73 47.5v10.9M336.36 47.5v10.9M341.82 47.5v10.9M329.09 58.35v10.9M331.82 58.35v10.9M341.82 58.35v10.9M342.73 58.35v10.9M344.55 58.35v10.9M336.36 69.2v10.9M342.73 69.2v10.9M326.36 90.9v10.9M328.18 90.9v10.9M335.45 90.9v10.9M340.91 90.9v10.9" stroke="#f79b73" stroke-width="1.01" fill="none"/>
<path d="M395.9 25.8v10.9M403.21 25.8v10.9M394.98 36.65v10.9M395.9 36.65v10.9M404.12 36.65v10.9M394.07 90.9v10.9M397.73 90.9v10.9M399.55 90.9v10.9M401.38 90.9v10.9M404.12 90.9v10.9M408.69 90.9v10.9M393.16 101.75v10.9M394.07 101.75v10.9M399.55 101.75v10.9M403.21 101.75v10.9M406.86 101.75v10.9M405.95 123.45v10.9M410.52 123.45v10.9M412.34 123.45v10.9" stroke="#f79b73" stroke-width="1.01" fill="none"/>
<path d="M347.26 25.8v10.9M356.46 25.8v10.9M357.38 25.8v10.9M359.22 25.8v10.9M348.18 36.65v10.9M351.86 36.65v10.9M354.62 36.65v10.9M347.26 47.5v10.9M351.86 47.5v10.9M348.18 58.35v10.9M355.54 58.35v10.9M351.86 101.75v10.9M357.38 101.75v10.9" stroke="#f79b73" stroke-width="1.02" fill="none"/>
<path d="M243.43 25.8v10.9M244.35 25.8v10.9M247.12 25.8v10.9M248.96 25.8v10.9M252.65 25.8v10.9" stroke="#f79b73" stroke-width="1.02" fill="none"/>
<path d="M260.59 25.8v10.9M261.46 47.5v10.9M258.84 69.2v10.9" stroke="#f59472" stroke-width="0.97" fill="none"/>
<path d="M309.49 25.8v10.9M310.38 58.35v10.9M317.45 58.35v10.9M318.34 58.35v10.9M321.87 58.35v10.9M313.03 69.2v10.9M321.87 69.2v10.9M319.22 90.9v10.9M308.61 101.75v10.9M313.03 101.75v10.9M315.68 101.75v10.9" stroke="#f59472" stroke-width="0.98" fill="none"/>
<path d="M368.98 25.8v10.9M374.32 25.8v10.9M365.42 90.9v10.9M366.31 90.9v10.9M368.09 90.9v10.9M377 90.9v10.9M377.89 90.9v10.9M381.45 90.9v10.9M388.57 90.9v10.9M366.31 101.75v10.9M367.2 101.75v10.9M368.09 101.75v10.9M383.23 101.75v10.9M390.35 101.75v10.9" stroke="#f59472" stroke-width="0.99" fill="none"/>
<path d="M273.53 25.8v10.9M275.34 25.8v10.9M278.96 25.8v10.9M279.87 25.8v10.9M281.68 25.8v10.9M289.84 25.8v10.9M293.47 25.8v10.9M264.46 90.9v10.9M273.53 90.9v10.9M278.96 90.9v10.9M285.31 90.9v10.9M288.03 90.9v10.9M291.66 90.9v10.9M268.09 101.75v10.9M277.15 101.75v10.9" stroke="#f59472" stroke-width="1.01" fill="none"/>
<path d="M327.27 47.5v10.9M330 47.5v10.9M333.64 47.5v10.9M335.45 47.5v10.9M343.64 47.5v10.9M326.36 58.35v10.9M330.91 58.35v10.9M336.36 58.35v10.9M338.18 58.35v10.9M339.09 58.35v10.9M343.64 69.2v10.9M329.09 90.9v10.9M336.36 90.9v10.9M338.18 90.9v10.9M340 90.9v10.9M343.64 90.9v10.9M325.45 101.75v10.9M339.09 101.75v10.9" stroke="#f59472" stroke-width="1.01" fill="none"/>
<path d="M393.16 90.9v10.9M394.98 90.9v10.9M395.9 90.9v10.9M396.81 90.9v10.9M402.29 90.9v10.9M403.21 90.9v10.9M405.03 90.9v10.9M395.9 101.75v10.9M402.29 101.75v10.9M404.12 101.75v10.9" stroke="#f59472" stroke-width="1.01" fill="none"/>
<path d="M352.78 25.8v10.9M358.3 25.8v10.9M360.14 25.8v10.9M350.02 36.65v10.9M350.94 36.65v10.9M358.3 36.65v10.9M359.22 36.65v10.9M351.86 90.9v10.9M348.18 101.75v10.9M353.7 101.75v10.9M355.54 101.75v10.9" stroke="#f59472" stroke-width="1.02" fill="none"/>
<path d="M241.58 47.5v10.9M254.49 47.5v10.9M241.58 58.35v10.9M250.81 58.35v10.9M251.73 58.35v10.9M243.43 69.2v10.9M244.35 69.2v10.9M250.81 69.2v10.9" stroke="#f59472" stroke-width="1.02" fill="none"/>
<path d="M260.59 58.35v10.9" stroke="#f48d70" stroke-width="0.97" fill="none"/>
<path d="M322.76 25.8v10.9M309.49 47.5v10.9M318.34 47.5v10.9M321.87 47.5v10.9M322.76 47.5v10.9M316.57 58.35v10.9M306.84 69.2v10.9M308.61 69.2v10.9M310.38 69.2v10.9M312.15 69.2v10.9M313.92 69.2v10.9M317.45 69.2v10.9M320.11 69.2v10.9M320.99 90.9v10.9M309.49 101.75v10.9M320.11 101.75v10.9" stroke="#f48d70" stroke-width="0.98" fill="none"/>
<path d="M367.2 90.9v10.9M370.76 90.9v10.9M371.65 90.9v10.9M372.54 90.9v10.9M373.43 90.9v10.9M376.1 90.9v10.9M378.78 90.9v10.9M379.67 90.9v10.9M369.87 101.75v10.9M372.54 101.75v10.9M373.43 101.75v10.9M375.21 101.75v10.9M382.34 101.75v10.9M387.68 123.45v10.9" stroke="#f48d70" stroke-width="0.99" fill="none"/>
<path d="M296.19 25.8v10.9M296.19 90.9v10.9M289.84 101.75v10.9" stroke="#f48d70" stroke-width="1.01" fill="none"/>
<path d="M340 47.5v10.9M327.27 58.35v10.9M326.36 69.2v10.9M330.91 69.2v10.9M327.27 90.9v10.9M330 90.9v10.9M330.91 90.9v10.9M333.64 90.9v10.9M331.82 101.75v10.9" stroke="#f48d70" stroke-width="1.01" fill="none"/>
<path d="M406.86 90.9v10.9M405.03 101.75v10.9M407.77 101.75v10.9M410.52 101.75v10.9" stroke="#f48d70" stroke-width="1.01" fill="none"/>
<path d="M350.02 25.8v10.9M351.86 25.8v10.9M355.54 25.8v10.9M353.7 36.65v10.9M357.38 36.65v10.9" stroke="#f48d70" stroke-width="1.02" fill="none"/>
<path d="M240.66 47.5v10.9M250.81 47.5v10.9M243.43 58.35v10.9M245.27 58.35v10.9M253.57 58.35v10.9M254.49 58.35v10.9M256.34 58.35v10.9M242.51 69.2v10.9M246.19 69.2v10.9M249.88 69.2v10.9" stroke="#f48d70" stroke-width="1.02" fill="none"/>
<path d="M259.71 69.2v10.9" stroke="#f2866f" stroke-width="0.97" fill="none"/>
<path d="M313.03 47.5v10.9M313.92 47.5v10.9M317.45 47.5v10.9M319.22 47.5v10.9M306.84 58.35v10.9M313.92 58.35v10.9M314.8 69.2v10.9M311.26 90.9v10.9" stroke="#f2866f" stroke-width="0.98" fill="none"/>
<path d="M375.21 90.9v10.9M384.12 90.9v10.9M387.68 90.9v10.9M389.46 90.9v10.9M362.75 101.75v10.9M376.1 101.75v10.9M377.89 101.75v10.9M378.78 101.75v10.9M379.67 101.75v10.9M381.45 101.75v10.9M387.68 101.75v10.9" stroke="#f2866f" stroke-width="0.99" fill="none"/>
<path d="M282.59 25.8v10.9M292.56 25.8v10.9" stroke="#f2866f" stroke-width="1.01" fill="none"/>
<path d="M334.55 90.9v10.9M341.82 90.9v10.9M344.55 90.9v10.9M327.27 101.75v10.9M330.91 101.75v10.9M337.27 101.75v10.9M344.55 101.75v10.9" stroke="#f2866f" stroke-width="1.01" fill="none"/>
<path d="M407.77 90.9v10.9" stroke="#f2866f" stroke-width="1.01" fill="none"/>
<path d="M349.1 25.8v10.9M354.62 25.8v10.9" stroke="#f2866f" stroke-width="1.02" fill="none"/>
<path d="M251.73 47.5v10.9M256.34 47.5v10.9M244.35 58.35v10.9M247.12 58.35v10.9M248.04 58.35v10.9M240.66 69.2v10.9M245.27 69.2v10.9M247.12 69.2v10.9M248.04 69.2v10.9M251.73 69.2v10.9" stroke="#f2866f" stroke-width="1.02" fill="none"/>
<path d="M260.59 47.5v10.9M258.84 58.35v10.9M259.71 58.35v10.9" stroke="#f07f6e" stroke-width="0.97" fill="none"/>
<path d="M308.61 47.5v10.9M312.15 47.5v10.9M320.99 47.5v10.9M307.73 58.35v10.9M312.15 58.35v10.9M313.03 58.35v10.9M320.11 58.35v10.9M322.76 58.35v10.9M315.68 69.2v10.9" stroke="#f07f6e" stroke-width="0.98" fill="none"/>
<path d="M363.64 90.9v10.9M374.32 90.9v10.9M382.34 90.9v10.9M385.01 90.9v10.9M390.35 90.9v10.9M364.53 101.75v10.9M365.42 101.75v10.9M374.32 101.75v10.9M386.79 101.75v10.9M388.57 101.75v10.9" stroke="#f07f6e" stroke-width="0.99" fill="none"/>
<path d="M332.73 90.9v10.9M328.18 101.75v10.9M329.09 101.75v10.9M338.18 101.75v10.9M340.91 101.75v10.9" stroke="#f07f6e" stroke-width="1.01" fill="none"/>
<path d="M398.64 90.9v10.9" stroke="#f07f6e" stroke-width="1.01" fill="none"/>
<path d="M353.7 25.8v10.9" stroke="#f07f6e" stroke-width="1.02" fill="none"/>
<path d="M248.04 47.5v10.9M255.42 47.5v10.9M240.66 58.35v10.9M248.96 58.35v10.9M255.42 58.35v10.9M248.96 69.2v10.9M252.65 69.2v10.9M253.57 69.2v10.9M255.42 69.2v10.9" stroke="#f07f6e" stroke-width="1.02" fill="none"/>
<path d="M258.84 47.5v10.9" stroke="#ec756d" stroke-width="0.97" fill="none"/>
<path d="M307.73 47.5v10.9M310.38 47.5v10.9M314.8 47.5v10.9M311.26 58.35v10.9M314.8 58.35v10.9M315.68 58.35v10.9M320.99 58.35v10.9M307.73 69.2v10.9M311.26 69.2v10.9" stroke="#ec756d" stroke-width="0.98" fill="none"/>
<path d="M362.75 90.9v10.9M363.64 101.75v10.9M368.98 101.75v10.9M377 101.75v10.9M385.9 101.75v10.9" stroke="#ec756d" stroke-width="0.99" fill="none"/>
<path d="M334.55 101.75v10.9M335.45 101.75v10.9" stroke="#ec756d" stroke-width="1.01" fill="none"/>
<path d="M348.18 25.8v10.9M350.94 25.8v10.9" stroke="#ec756d" stroke-width="1.02" fill="none"/>
<path d="M245.27 47.5v10.9M246.19 47.5v10.9M247.12 47.5v10.9M241.58 69.2v10.9" stroke="#ec756d" stroke-width="1.02" fill="none"/>
<path d="M306.84 47.5v10.9M315.68 47.5v10.9M320.11 47.5v10.9M308.61 58.35v10.9M309.49 58.35v10.9" stroke="#e86c6c" stroke-width="0.98" fill="none"/>
<path d="M385.01 101.75v10.9" stroke="#e86c6c" stroke-width="0.99" fill="none"/>
<path d="M326.36 101.75v10.9M330 101.75v10.9M333.64 101.75v10.9M340 101.75v10.9M341.82 101.75v10.9M343.64 101.75v10.9" stroke="#e86c6c" stroke-width="1.01" fill="none"/>
<path d="M243.43 47.5v10.9M248.96 47.5v10.9M252.65 47.5v10.9M253.57 47.5v10.9M242.51 58.35v10.9M246.19 58.35v10.9M249.88 58.35v10.9M254.49 69.2v10.9" stroke="#e86c6c" stroke-width="1.02" fill="none"/>
<path d="M260.59 69.2v10.9" stroke="#e4626c" stroke-width="0.97" fill="none"/>
<path d="M311.26 47.5v10.9M316.57 47.5v10.9" stroke="#e4626c" stroke-width="0.98" fill="none"/>
<path d="M336.36 101.75v10.9M342.73 101.75v10.9" stroke="#e4626c" stroke-width="1.01" fill="none"/>
<path d="M242.51 47.5v10.9M249.88 47.5v10.9" stroke="#e4626c" stroke-width="1.02" fill="none"/>
<path d="M259.71 47.5v10.9" stroke="#e0596b" stroke-width="0.97" fill="none"/>
<path d="M322.76 69.2v10.9" stroke="#e0596b" stroke-width="0.98" fill="none"/>
<path d="M389.46 101.75v10.9" stroke="#e0596b" stroke-width="0.99" fill="none"/>
<path d="M291.66 69.2v10.9M302.53 69.2v10.9" stroke="#e0596b" stroke-width="1.01" fill="none"/>
<path d="M252.65 58.35v10.9" stroke="#e0596b" stroke-width="1.02" fill="none"/>
<path d="M280.78 47.5v10.9M283.5 47.5v10.9M301.63 47.5v10.9M302.53 47.5v10.9M269.9 58.35v10.9M304.35 58.35v10.9M263.55 69.2v10.9M269.9 69.2v10.9M271.71 69.2v10.9M278.96 69.2v10.9M279.87 69.2v10.9M288.94 69.2v10.9M297.09 69.2v10.9M299.81 69.2v10.9M303.44 69.2v10.9M304.35 69.2v10.9" stroke="#dc4f6a" stroke-width="1.01" fill="none"/>
<path d="M332.73 101.75v10.9" stroke="#dc4f6a" stroke-width="1.01" fill="none"/>
<path d="M265.37 47.5v10.9M266.27 47.5v10.9M267.18 47.5v10.9M268.09 47.5v10.9M269.9 47.5v10.9M274.43 47.5v10.9M277.15 47.5v10.9M282.59 47.5v10.9M287.12 47.5v10.9M288.94 47.5v10.9M293.47 47.5v10.9M294.38 47.5v10.9M297.09 47.5v10.9M298 47.5v10.9M303.44 47.5v10.9M263.55 58.35v10.9M267.18 58.35v10.9M270.81 58.35v10.9M272.62 58.35v10.9M274.43 58.35v10.9M280.78 58.35v10.9M281.68 58.35v10.9M286.22 58.35v10.9M287.12 58.35v10.9M288.03 58.35v10.9M290.75 58.35v10.9M293.47 58.35v10.9M294.38 58.35v10.9M296.19 58.35v10.9M298 58.35v10.9M302.53 58.35v10.9M266.27 69.2v10.9M267.18 69.2v10.9M268.09 69.2v10.9M268.99 69.2v10.9M270.81 69.2v10.9M272.62 69.2v10.9M273.53 69.2v10.9M274.43 69.2v10.9M276.24 69.2v10.9M280.78 69.2v10.9M283.5 69.2v10.9M285.31 69.2v10.9M286.22 69.2v10.9M287.12 69.2v10.9M288.03 69.2v10.9M289.84 69.2v10.9M290.75 69.2v10.9M292.56 69.2v10.9M293.47 69.2v10.9M294.38 69.2v10.9M295.28 69.2v10.9M296.19 69.2v10.9M298 69.2v10.9M298.91 69.2v10.9M300.72 69.2v10.9" stroke="#d84a68" stroke-width="1.01" fill="none"/>
<path d="M244.35 47.5v10.9" stroke="#d84a68" stroke-width="1.02" fill="none"/>
<path d="M263.55 47.5v10.9M264.46 47.5v10.9M270.81 47.5v10.9M271.71 47.5v10.9M272.62 47.5v10.9M273.53 47.5v10.9M275.34 47.5v10.9M278.06 47.5v10.9M278.96 47.5v10.9M279.87 47.5v10.9M286.22 47.5v10.9M288.03 47.5v10.9M289.84 47.5v10.9M290.75 47.5v10.9M292.56 47.5v10.9M295.28 47.5v10.9M299.81 47.5v10.9M300.72 47.5v10.9M304.35 47.5v10.9M265.37 58.35v10.9M266.27 58.35v10.9M268.09 58.35v10.9M271.71 58.35v10.9M273.53 58.35v10.9M276.24 58.35v10.9M277.15 58.35v10.9M283.5 58.35v10.9M284.4 58.35v10.9M288.94 58.35v10.9M289.84 58.35v10.9M298.91 58.35v10.9M299.81 58.35v10.9M301.63 58.35v10.9M303.44 58.35v10.9M264.46 69.2v10.9M265.37 69.2v10.9M275.34 69.2v10.9M277.15 69.2v10.9M278.06 69.2v10.9M281.68 69.2v10.9M284.4 69.2v10.9M301.63 69.2v10.9" stroke="#d34465" stroke-width="1.01" fill="none"/>
<path d="M268.99 47.5v10.9M276.24 47.5v10.9M281.68 47.5v10.9M284.4 47.5v10.9M285.31 47.5v10.9M291.66 47.5v10.9M296.19 47.5v10.9M298.91 47.5v10.9M264.46 58.35v10.9M268.99 58.35v10.9M275.34 58.35v10.9M278.96 58.35v10.9M279.87 58.35v10.9M282.59 58.35v10.9M285.31 58.35v10.9M291.66 58.35v10.9M295.28 58.35v10.9M297.09 58.35v10.9M300.72 58.35v10.9M282.59 69.2v10.9" stroke="#cf3f63" stroke-width="1.01" fill="none"/>
<path d="M278.06 58.35v10.9M292.56 58.35v10.9" stroke="#c4355b" stroke-width="1.01" fill="none"/>
<rect x="240.2" y="25.8" width="16.6" height="108.5" fill="none" stroke="#7d756a" stroke-width="0.55"/>
<rect x="258.4" y="25.8" width="3.5" height="108.5" fill="none" stroke="#7d756a" stroke-width="0.55"/>
<rect x="263.1" y="25.8" width="41.7" height="108.5" fill="none" stroke="#7d756a" stroke-width="0.55"/>
<rect x="306.4" y="25.8" width="16.8" height="108.5" fill="none" stroke="#7d756a" stroke-width="0.55"/>
<rect x="325" y="25.8" width="20" height="108.5" fill="none" stroke="#7d756a" stroke-width="0.55"/>
<rect x="346.8" y="25.8" width="13.8" height="108.5" fill="none" stroke="#7d756a" stroke-width="0.55"/>
<rect x="362.3" y="25.8" width="28.5" height="108.5" fill="none" stroke="#7d756a" stroke-width="0.55"/>
<rect x="392.7" y="25.8" width="20.1" height="108.5" fill="none" stroke="#7d756a" stroke-width="0.55"/>
<rect x="414.4" y="25.8" width="9.8" height="108.5" fill="none" stroke="#7d756a" stroke-width="0.55"/>
<text x="325.4" y="141.2" font-size="5.4" stroke="#222" stroke-width="0.15" text-anchor="middle" fill="#222">Expression</text>
<defs><linearGradient id="hg" x1="0" x2="1" y1="0" y2="0"><stop offset="0" stop-color="#fffbe0"/><stop offset="0.11" stop-color="#ffefaa"/><stop offset="0.22" stop-color="#fedc7a"/><stop offset="0.33" stop-color="#feb650"/><stop offset="0.44" stop-color="#fd8d3c"/><stop offset="0.56" stop-color="#f5542c"/><stop offset="0.67" stop-color="#e01f20"/><stop offset="0.78" stop-color="#bd0a2a"/><stop offset="0.89" stop-color="#a00a30"/><stop offset="1" stop-color="#8c0a32"/></linearGradient></defs>
<rect x="308.8" y="143.5" width="31" height="5.8" fill="url(#hg)"/>
<text x="310.3" y="155.5" font-size="6.2" stroke="#222" stroke-width="0.17" text-anchor="middle" fill="#222">0</text>
<text x="319.8" y="155.5" font-size="6.2" stroke="#222" stroke-width="0.17" text-anchor="middle" fill="#222">2</text>
<text x="329.3" y="155.5" font-size="6.2" stroke="#222" stroke-width="0.17" text-anchor="middle" fill="#222">4</text>
<text x="338.6" y="155.5" font-size="6.2" stroke="#222" stroke-width="0.17" text-anchor="middle" fill="#222">6</text>
</g>
<g>
<text x="11.3" y="185.3" font-size="11.3" stroke="#000" stroke-width="0.4" font-weight="bold" fill="#000">C</text>
<rect x="23.1" y="191.5" width="183.8" height="124.1" fill="none" stroke="#4a4a4a" stroke-width="0.6"/>
<text x="12.2" y="202.1" font-size="6.4" stroke="#111" stroke-width="0.18" text-anchor="middle" fill="#111">6</text>
<circle cx="16.8" cy="199.8" r="1.95" fill="#d9568f"/>
<line x1="21.8" y1="199.8" x2="23.1" y2="199.8" stroke="#444" stroke-width="0.4"/>
<circle cx="27" cy="199.8" r="1.17" fill="#c7cce6" stroke="#9a9aa0" stroke-width="0.3"/>
<circle cx="33.53" cy="199.8" r="0.68" fill="#aeb1c2"/>
<circle cx="40.07" cy="199.8" r="0.68" fill="#aeb1c2"/>
<circle cx="46.6" cy="199.8" r="2.81" fill="#bbc2e1" stroke="#9a9aa0" stroke-width="0.3"/>
<circle cx="53.13" cy="199.8" r="0.92" fill="#d2d6eb" stroke="#9a9aa0" stroke-width="0.3"/>
<circle cx="59.66" cy="199.8" r="3.22" fill="#aab2d9" stroke="#9a9aa0" stroke-width="0.3"/>
<circle cx="66.2" cy="199.8" r="3.22" fill="#aab2d9" stroke="#9a9aa0" stroke-width="0.3"/>
<circle cx="72.73" cy="199.8" r="1.17" fill="#c7cce6" stroke="#9a9aa0" stroke-width="0.3"/>
<circle cx="79.26" cy="199.8" r="1.58" fill="#d2d6eb" stroke="#9a9aa0" stroke-width="0.3"/>
<circle cx="85.8" cy="199.8" r="0.68" fill="#aeb1c2"/>
<circle cx="92.33" cy="199.8" r="3.22" fill="#c7cce6" stroke="#9a9aa0" stroke-width="0.3"/>
<circle cx="98.86" cy="199.8" r="2.4" fill="#fcebe9" stroke="#9a9aa0" stroke-width="0.3"/>
<circle cx="105.4" cy="199.8" r="2.81" fill="#d2d6eb" stroke="#9a9aa0" stroke-width="0.3"/>
<circle cx="111.93" cy="199.8" r="2.81" fill="#d2d6eb" stroke="#9a9aa0" stroke-width="0.3"/>
<circle cx="118.46" cy="199.8" r="0.68" fill="#aeb1c2"/>
<circle cx="125" cy="199.8" r="2.4" fill="#ffffff" stroke="#9a9aa0" stroke-width="0.3"/>
<circle cx="131.53" cy="199.8" r="1.17" fill="#d2d6eb" stroke="#9a9aa0" stroke-width="0.3"/>
<circle cx="138.06" cy="199.8" r="1.58" fill="#ffffff" stroke="#9a9aa0" stroke-width="0.3"/>
<circle cx="144.59" cy="199.8" r="1.99" fill="#fae1df" stroke="#9a9aa0" stroke-width="0.3"/>
<circle cx="151.13" cy="199.8" r="2.4" fill="#b0b8dc" stroke="#9a9aa0" stroke-width="0.3"/>
<circle cx="157.66" cy="199.8" r="0.68" fill="#aeb1c2"/>
<circle cx="164.19" cy="199.8" r="0.68" fill="#aeb1c2"/>
<circle cx="170.73" cy="199.8" r="1.17" fill="#ffffff" stroke="#9a9aa0" stroke-width="0.3"/>
<circle cx="177.26" cy="199.8" r="0.68" fill="#aeb1c2"/>
<circle cx="183.79" cy="199.8" r="0.68" fill="#aeb1c2"/>
<circle cx="190.33" cy="199.8" r="0.68" fill="#aeb1c2"/>
<circle cx="196.86" cy="199.8" r="3.22" fill="#c4202c" stroke="#9a9aa0" stroke-width="0.3"/>
<circle cx="203.39" cy="199.8" r="3.22" fill="#c4202c" stroke="#9a9aa0" stroke-width="0.3"/>
<text x="12.2" y="215.64" font-size="6.4" stroke="#111" stroke-width="0.18" text-anchor="middle" fill="#111">7</text>
<circle cx="16.8" cy="213.34" r="1.95" fill="#9c7fae"/>
<line x1="21.8" y1="213.34" x2="23.1" y2="213.34" stroke="#444" stroke-width="0.4"/>
<circle cx="27" cy="213.34" r="1.01" fill="#c7cce6" stroke="#9a9aa0" stroke-width="0.3"/>
<circle cx="33.53" cy="213.34" r="0.68" fill="#aeb1c2"/>
<circle cx="40.07" cy="213.34" r="1.17" fill="#f7cdc9" stroke="#9a9aa0" stroke-width="0.3"/>
<circle cx="46.6" cy="213.34" r="3.06" fill="#c7cce6" stroke="#9a9aa0" stroke-width="0.3"/>
<circle cx="53.13" cy="213.34" r="0.68" fill="#aeb1c2"/>
<circle cx="59.66" cy="213.34" r="3.22" fill="#ffffff" stroke="#9a9aa0" stroke-width="0.3"/>
<circle cx="66.2" cy="213.34" r="3.22" fill="#ffffff" stroke="#9a9aa0" stroke-width="0.3"/>
<circle cx="72.73" cy="213.34" r="0.68" fill="#aeb1c2"/>
<circle cx="79.26" cy="213.34" r="0.68" fill="#aeb1c2"/>
<circle cx="85.8" cy="213.34" r="0.68" fill="#aeb1c2"/>
<circle cx="92.33" cy="213.34" r="2.81" fill="#b0b8dc" stroke="#9a9aa0" stroke-width="0.3"/>
<circle cx="98.86" cy="213.34" r="1.01" fill="#ffffff" stroke="#9a9aa0" stroke-width="0.3"/>
<circle cx="105.4" cy="213.34" r="1.99" fill="#bbc2e1" stroke="#9a9aa0" stroke-width="0.3"/>
<circle cx="111.93" cy="213.34" r="1.99" fill="#bbc2e1" stroke="#9a9aa0" stroke-width="0.3"/>
<circle cx="118.46" cy="213.34" r="0.68" fill="#aeb1c2"/>
<circle cx="125" cy="213.34" r="1.58" fill="#c7cce6" stroke="#9a9aa0" stroke-width="0.3"/>
<circle cx="131.53" cy="213.34" r="0.68" fill="#aeb1c2"/>
<circle cx="138.06" cy="213.34" r="0.68" fill="#aeb1c2"/>
<circle cx="144.59" cy="213.34" r="0.68" fill="#aeb1c2"/>
<circle cx="151.13" cy="213.34" r="1.99" fill="#bbc2e1" stroke="#9a9aa0" stroke-width="0.3"/>
<circle cx="157.66" cy="213.34" r="1.17" fill="#ffffff" stroke="#9a9aa0" stroke-width="0.3"/>
<circle cx="164.19" cy="213.34" r="2.4" fill="#ee9a94" stroke="#9a9aa0" stroke-width="0.3"/>
<circle cx="170.73" cy="213.34" r="1.58" fill="#fcebe9" stroke="#9a9aa0" stroke-width="0.3"/>
<circle cx="177.26" cy="213.34" r="0.68" fill="#aeb1c2"/>
<circle cx="183.79" cy="213.34" r="3.06" fill="#c4202c" stroke="#9a9aa0" stroke-width="0.3"/>
<circle cx="190.33" cy="213.34" r="3.06" fill="#c4202c" stroke="#9a9aa0" stroke-width="0.3"/>
<circle cx="196.86" cy="213.34" r="0.68" fill="#aeb1c2"/>
<circle cx="203.39" cy="213.34" r="1.17" fill="#ffffff" stroke="#9a9aa0" stroke-width="0.3"/>
<text x="12.2" y="229.18" font-size="6.4" stroke="#111" stroke-width="0.18" text-anchor="middle" fill="#111">3</text>
<circle cx="16.8" cy="226.88" r="1.95" fill="#5b88bb"/>
<line x1="21.8" y1="226.88" x2="23.1" y2="226.88" stroke="#444" stroke-width="0.4"/>
<circle cx="27" cy="226.88" r="1.99" fill="#ffffff" stroke="#9a9aa0" stroke-width="0.3"/>
<circle cx="33.53" cy="226.88" r="0.68" fill="#aeb1c2"/>
<circle cx="40.07" cy="226.88" r="0.68" fill="#aeb1c2"/>
<circle cx="46.6" cy="226.88" r="2.4" fill="#a4add5" stroke="#9a9aa0" stroke-width="0.3"/>
<circle cx="53.13" cy="226.88" r="0.68" fill="#aeb1c2"/>
<circle cx="59.66" cy="226.88" r="3.22" fill="#ffffff" stroke="#9a9aa0" stroke-width="0.3"/>
<circle cx="66.2" cy="226.88" r="3.22" fill="#ffffff" stroke="#9a9aa0" stroke-width="0.3"/>
<circle cx="72.73" cy="226.88" r="0.68" fill="#aeb1c2"/>
<circle cx="79.26" cy="226.88" r="0.68" fill="#aeb1c2"/>
<circle cx="85.8" cy="226.88" r="0.68" fill="#aeb1c2"/>
<circle cx="92.33" cy="226.88" r="2.4" fill="#a4add5" stroke="#9a9aa0" stroke-width="0.3"/>
<circle cx="98.86" cy="226.88" r="0.68" fill="#aeb1c2"/>
<circle cx="105.4" cy="226.88" r="1.58" fill="#b0b8dc" stroke="#9a9aa0" stroke-width="0.3"/>
<circle cx="111.93" cy="226.88" r="1.58" fill="#bbc2e1" stroke="#9a9aa0" stroke-width="0.3"/>
<circle cx="118.46" cy="226.88" r="0.68" fill="#aeb1c2"/>
<circle cx="125" cy="226.88" r="2.81" fill="#ffffff" stroke="#9a9aa0" stroke-width="0.3"/>
<circle cx="131.53" cy="226.88" r="1.99" fill="#f7cdc9" stroke="#9a9aa0" stroke-width="0.3"/>
<circle cx="138.06" cy="226.88" r="0.68" fill="#aeb1c2"/>
<circle cx="144.59" cy="226.88" r="1.01" fill="#ffffff" stroke="#9a9aa0" stroke-width="0.3"/>
<circle cx="151.13" cy="226.88" r="2.81" fill="#fae1df" stroke="#9a9aa0" stroke-width="0.3"/>
<circle cx="157.66" cy="226.88" r="2.56" fill="#d54546" stroke="#9a9aa0" stroke-width="0.3"/>
<circle cx="164.19" cy="226.88" r="2.4" fill="#ffffff" stroke="#9a9aa0" stroke-width="0.3"/>
<circle cx="170.73" cy="226.88" r="3.22" fill="#c4202c" stroke="#9a9aa0" stroke-width="0.3"/>
<circle cx="177.26" cy="226.88" r="3.22" fill="#c4202c" stroke="#9a9aa0" stroke-width="0.3"/>
<circle cx="183.79" cy="226.88" r="0.68" fill="#aeb1c2"/>
<circle cx="190.33" cy="226.88" r="0.68" fill="#aeb1c2"/>
<circle cx="196.86" cy="226.88" r="1.17" fill="#ffffff" stroke="#9a9aa0" stroke-width="0.3"/>
<circle cx="203.39" cy="226.88" r="1.17" fill="#e8ebf5" stroke="#9a9aa0" stroke-width="0.3"/>
<text x="12.2" y="242.72" font-size="6.4" stroke="#111" stroke-width="0.18" text-anchor="middle" fill="#111">1</text>
<circle cx="16.8" cy="240.42" r="1.95" fill="#1ec3d8"/>
<line x1="21.8" y1="240.42" x2="23.1" y2="240.42" stroke="#444" stroke-width="0.4"/>
<circle cx="27" cy="240.42" r="1.58" fill="#d2d6eb" stroke="#9a9aa0" stroke-width="0.3"/>
<circle cx="33.53" cy="240.42" r="0.68" fill="#aeb1c2"/>
<circle cx="40.07" cy="240.42" r="0.68" fill="#aeb1c2"/>
<circle cx="46.6" cy="240.42" r="2.81" fill="#b0b8dc" stroke="#9a9aa0" stroke-width="0.3"/>
<circle cx="53.13" cy="240.42" r="1.01" fill="#dde1f0" stroke="#9a9aa0" stroke-width="0.3"/>
<circle cx="59.66" cy="240.42" r="3.22" fill="#f4f5fa" stroke="#9a9aa0" stroke-width="0.3"/>
<circle cx="66.2" cy="240.42" r="3.22" fill="#ffffff" stroke="#9a9aa0" stroke-width="0.3"/>
<circle cx="72.73" cy="240.42" r="1.17" fill="#c7cce6" stroke="#9a9aa0" stroke-width="0.3"/>
<circle cx="79.26" cy="240.42" r="1.33" fill="#c7cce6" stroke="#9a9aa0" stroke-width="0.3"/>
<circle cx="85.8" cy="240.42" r="0.68" fill="#aeb1c2"/>
<circle cx="92.33" cy="240.42" r="3.06" fill="#b0b8dc" stroke="#9a9aa0" stroke-width="0.3"/>
<circle cx="98.86" cy="240.42" r="1.83" fill="#bbc2e1" stroke="#9a9aa0" stroke-width="0.3"/>
<circle cx="105.4" cy="240.42" r="2.15" fill="#bbc2e1" stroke="#9a9aa0" stroke-width="0.3"/>
<circle cx="111.93" cy="240.42" r="2.15" fill="#c7cce6" stroke="#9a9aa0" stroke-width="0.3"/>
<circle cx="118.46" cy="240.42" r="0.68" fill="#aeb1c2"/>
<circle cx="125" cy="240.42" r="2.81" fill="#e8837d" stroke="#9a9aa0" stroke-width="0.3"/>
<circle cx="131.53" cy="240.42" r="1.99" fill="#e8837d" stroke="#9a9aa0" stroke-width="0.3"/>
<circle cx="138.06" cy="240.42" r="1.58" fill="#f9d7d4" stroke="#9a9aa0" stroke-width="0.3"/>
<circle cx="144.59" cy="240.42" r="1.99" fill="#fcebe9" stroke="#9a9aa0" stroke-width="0.3"/>
<circle cx="151.13" cy="240.42" r="3.06" fill="#e57772" stroke="#9a9aa0" stroke-width="0.3"/>
<circle cx="157.66" cy="240.42" r="2.4" fill="#ee9a94" stroke="#9a9aa0" stroke-width="0.3"/>
<circle cx="164.19" cy="240.42" r="0.68" fill="#aeb1c2"/>
<circle cx="170.73" cy="240.42" r="2.4" fill="#fcebe9" stroke="#9a9aa0" stroke-width="0.3"/>
<circle cx="177.26" cy="240.42" r="2.4" fill="#ffffff" stroke="#9a9aa0" stroke-width="0.3"/>
<circle cx="183.79" cy="240.42" r="0.68" fill="#aeb1c2"/>
<circle cx="190.33" cy="240.42" r="0.68" fill="#aeb1c2"/>
<circle cx="196.86" cy="240.42" r="1.83" fill="#dde1f0" stroke="#9a9aa0" stroke-width="0.3"/>
<circle cx="203.39" cy="240.42" r="1.58" fill="#e8ebf5" stroke="#9a9aa0" stroke-width="0.3"/>
<text x="12.2" y="256.26" font-size="6.4" stroke="#111" stroke-width="0.18" text-anchor="middle" fill="#111">2</text>
<circle cx="16.8" cy="253.96" r="1.95" fill="#17b597"/>
<line x1="21.8" y1="253.96" x2="23.1" y2="253.96" stroke="#444" stroke-width="0.4"/>
<circle cx="27" cy="253.96" r="1.42" fill="#d2d6eb" stroke="#9a9aa0" stroke-width="0.3"/>
<circle cx="33.53" cy="253.96" r="0.68" fill="#aeb1c2"/>
<circle cx="40.07" cy="253.96" r="0.68" fill="#aeb1c2"/>
<circle cx="46.6" cy="253.96" r="2.73" fill="#d2d6eb" stroke="#9a9aa0" stroke-width="0.3"/>
<circle cx="53.13" cy="253.96" r="0.68" fill="#aeb1c2"/>
<circle cx="59.66" cy="253.96" r="3.06" fill="#dde1f0" stroke="#9a9aa0" stroke-width="0.3"/>
<circle cx="66.2" cy="253.96" r="3.22" fill="#d2d6eb" stroke="#9a9aa0" stroke-width="0.3"/>
<circle cx="72.73" cy="253.96" r="1.42" fill="#e8ebf5" stroke="#9a9aa0" stroke-width="0.3"/>
<circle cx="79.26" cy="253.96" r="1.58" fill="#ffffff" stroke="#9a9aa0" stroke-width="0.3"/>
<circle cx="85.8" cy="253.96" r="1.01" fill="#ffffff" stroke="#9a9aa0" stroke-width="0.3"/>
<circle cx="92.33" cy="253.96" r="3.06" fill="#ffffff" stroke="#9a9aa0" stroke-width="0.3"/>
<circle cx="98.86" cy="253.96" r="2.4" fill="#ffffff" stroke="#9a9aa0" stroke-width="0.3"/>
<circle cx="105.4" cy="253.96" r="2.4" fill="#ffffff" stroke="#9a9aa0" stroke-width="0.3"/>
<circle cx="111.93" cy="253.96" r="2.4" fill="#ffffff" stroke="#9a9aa0" stroke-width="0.3"/>
<circle cx="118.46" cy="253.96" r="0.68" fill="#aeb1c2"/>
<circle cx="125" cy="253.96" r="2.81" fill="#df605b" stroke="#9a9aa0" stroke-width="0.3"/>
<circle cx="131.53" cy="253.96" r="2.4" fill="#df605b" stroke="#9a9aa0" stroke-width="0.3"/>
<circle cx="138.06" cy="253.96" r="3.06" fill="#c72731" stroke="#9a9aa0" stroke-width="0.3"/>
<circle cx="144.59" cy="253.96" r="3.06" fill="#c72731" stroke="#9a9aa0" stroke-width="0.3"/>
<circle cx="151.13" cy="253.96" r="2.81" fill="#fcebe9" stroke="#9a9aa0" stroke-width="0.3"/>
<circle cx="157.66" cy="253.96" r="1.58" fill="#ffffff" stroke="#9a9aa0" stroke-width="0.3"/>
<circle cx="164.19" cy="253.96" r="0.68" fill="#aeb1c2"/>
<circle cx="170.73" cy="253.96" r="1.99" fill="#ffffff" stroke="#9a9aa0" stroke-width="0.3"/>
<circle cx="177.26" cy="253.96" r="1.83" fill="#ffffff" stroke="#9a9aa0" stroke-width="0.3"/>
<circle cx="183.79" cy="253.96" r="0.68" fill="#aeb1c2"/>
<circle cx="190.33" cy="253.96" r="0.68" fill="#aeb1c2"/>
<circle cx="196.86" cy="253.96" r="1.42" fill="#f4f5fa" stroke="#9a9aa0" stroke-width="0.3"/>
<circle cx="203.39" cy="253.96" r="1.42" fill="#f4f5fa" stroke="#9a9aa0" stroke-width="0.3"/>
<text x="12.2" y="269.8" font-size="6.4" stroke="#111" stroke-width="0.18" text-anchor="middle" fill="#111">4</text>
<circle cx="16.8" cy="267.5" r="1.95" fill="#3db04a"/>
<line x1="21.8" y1="267.5" x2="23.1" y2="267.5" stroke="#444" stroke-width="0.4"/>
<circle cx="27" cy="267.5" r="1.99" fill="#dde1f0" stroke="#9a9aa0" stroke-width="0.3"/>
<circle cx="33.53" cy="267.5" r="1.17" fill="#dde1f0" stroke="#9a9aa0" stroke-width="0.3"/>
<circle cx="40.07" cy="267.5" r="0.68" fill="#aeb1c2"/>
<circle cx="46.6" cy="267.5" r="3.06" fill="#ffffff" stroke="#9a9aa0" stroke-width="0.3"/>
<circle cx="53.13" cy="267.5" r="1.42" fill="#dde1f0" stroke="#9a9aa0" stroke-width="0.3"/>
<circle cx="59.66" cy="267.5" r="3.22" fill="#c7cce6" stroke="#9a9aa0" stroke-width="0.3"/>
<circle cx="66.2" cy="267.5" r="3.22" fill="#c7cce6" stroke="#9a9aa0" stroke-width="0.3"/>
<circle cx="72.73" cy="267.5" r="2.15" fill="#ffffff" stroke="#9a9aa0" stroke-width="0.3"/>
<circle cx="79.26" cy="267.5" r="2.15" fill="#ffffff" stroke="#9a9aa0" stroke-width="0.3"/>
<circle cx="85.8" cy="267.5" r="1.83" fill="#ffffff" stroke="#9a9aa0" stroke-width="0.3"/>
<circle cx="92.33" cy="267.5" r="3.22" fill="#ffffff" stroke="#9a9aa0" stroke-width="0.3"/>
<circle cx="98.86" cy="267.5" r="2.81" fill="#ffffff" stroke="#9a9aa0" stroke-width="0.3"/>
<circle cx="105.4" cy="267.5" r="2.81" fill="#fcebe9" stroke="#9a9aa0" stroke-width="0.3"/>
<circle cx="111.93" cy="267.5" r="2.81" fill="#fdf5f4" stroke="#9a9aa0" stroke-width="0.3"/>
<circle cx="118.46" cy="267.5" r="3.06" fill="#c4202c" stroke="#9a9aa0" stroke-width="0.3"/>
<circle cx="125" cy="267.5" r="3.06" fill="#ffffff" stroke="#9a9aa0" stroke-width="0.3"/>
<circle cx="131.53" cy="267.5" r="1.58" fill="#ffffff" stroke="#9a9aa0" stroke-width="0.3"/>
<circle cx="138.06" cy="267.5" r="1.58" fill="#ffffff" stroke="#9a9aa0" stroke-width="0.3"/>
<circle cx="144.59" cy="267.5" r="1.58" fill="#e8ebf5" stroke="#9a9aa0" stroke-width="0.3"/>
<circle cx="151.13" cy="267.5" r="3.06" fill="#f4f5fa" stroke="#9a9aa0" stroke-width="0.3"/>
<circle cx="157.66" cy="267.5" r="1.33" fill="#e8ebf5" stroke="#9a9aa0" stroke-width="0.3"/>
<circle cx="164.19" cy="267.5" r="1.33" fill="#ffffff" stroke="#9a9aa0" stroke-width="0.3"/>
<circle cx="170.73" cy="267.5" r="1.33" fill="#e8ebf5" stroke="#9a9aa0" stroke-width="0.3"/>
<circle cx="177.26" cy="267.5" r="0.68" fill="#aeb1c2"/>
<circle cx="183.79" cy="267.5" r="0.68" fill="#aeb1c2"/>
<circle cx="190.33" cy="267.5" r="0.68" fill="#aeb1c2"/>
<circle cx="196.86" cy="267.5" r="2.4" fill="#ffffff" stroke="#9a9aa0" stroke-width="0.3"/>
<circle cx="203.39" cy="267.5" r="2.81" fill="#ffffff" stroke="#9a9aa0" stroke-width="0.3"/>
<text x="12.2" y="283.34" font-size="6.4" stroke="#111" stroke-width="0.18" text-anchor="middle" fill="#111">0</text>
<circle cx="16.8" cy="281.04" r="1.95" fill="#a3a83a"/>
<line x1="21.8" y1="281.04" x2="23.1" y2="281.04" stroke="#444" stroke-width="0.4"/>
<circle cx="27" cy="281.04" r="1.99" fill="#ffffff" stroke="#9a9aa0" stroke-width="0.3"/>
<circle cx="33.53" cy="281.04" r="1.33" fill="#f7cdc9" stroke="#9a9aa0" stroke-width="0.3"/>
<circle cx="40.07" cy="281.04" r="0.68" fill="#aeb1c2"/>
<circle cx="46.6" cy="281.04" r="3.06" fill="#fdf5f4" stroke="#9a9aa0" stroke-width="0.3"/>
<circle cx="53.13" cy="281.04" r="1.58" fill="#ffffff" stroke="#9a9aa0" stroke-width="0.3"/>
<circle cx="59.66" cy="281.04" r="3.22" fill="#bbc2e1" stroke="#9a9aa0" stroke-width="0.3"/>
<circle cx="66.2" cy="281.04" r="3.22" fill="#b0b8dc" stroke="#9a9aa0" stroke-width="0.3"/>
<circle cx="72.73" cy="281.04" r="1.83" fill="#dde1f0" stroke="#9a9aa0" stroke-width="0.3"/>
<circle cx="79.26" cy="281.04" r="1.83" fill="#f9d7d4" stroke="#9a9aa0" stroke-width="0.3"/>
<circle cx="85.8" cy="281.04" r="1.83" fill="#f3b9b4" stroke="#9a9aa0" stroke-width="0.3"/>
<circle cx="92.33" cy="281.04" r="3.22" fill="#c4202c" stroke="#9a9aa0" stroke-width="0.3"/>
<circle cx="98.86" cy="281.04" r="3.06" fill="#ce363b" stroke="#9a9aa0" stroke-width="0.3"/>
<circle cx="105.4" cy="281.04" r="3.22" fill="#c4202c" stroke="#9a9aa0" stroke-width="0.3"/>
<circle cx="111.93" cy="281.04" r="3.22" fill="#c4202c" stroke="#9a9aa0" stroke-width="0.3"/>
<circle cx="118.46" cy="281.04" r="0.68" fill="#aeb1c2"/>
<circle cx="125" cy="281.04" r="2.4" fill="#fdf5f4" stroke="#9a9aa0" stroke-width="0.3"/>
<circle cx="131.53" cy="281.04" r="1.17" fill="#ffffff" stroke="#9a9aa0" stroke-width="0.3"/>
<circle cx="138.06" cy="281.04" r="0.68" fill="#aeb1c2"/>
<circle cx="144.59" cy="281.04" r="1.17" fill="#ffffff" stroke="#9a9aa0" stroke-width="0.3"/>
<circle cx="151.13" cy="281.04" r="2.81" fill="#f7cdc9" stroke="#9a9aa0" stroke-width="0.3"/>
<circle cx="157.66" cy="281.04" r="1.33" fill="#e8ebf5" stroke="#9a9aa0" stroke-width="0.3"/>
<circle cx="164.19" cy="281.04" r="1.58" fill="#ffffff" stroke="#9a9aa0" stroke-width="0.3"/>
<circle cx="170.73" cy="281.04" r="0.68" fill="#aeb1c2"/>
<circle cx="177.26" cy="281.04" r="0.68" fill="#aeb1c2"/>
<circle cx="183.79" cy="281.04" r="0.68" fill="#aeb1c2"/>
<circle cx="190.33" cy="281.04" r="0.68" fill="#aeb1c2"/>
<circle cx="196.86" cy="281.04" r="1.33" fill="#f4f5fa" stroke="#9a9aa0" stroke-width="0.3"/>
<circle cx="203.39" cy="281.04" r="1.33" fill="#f4f5fa" stroke="#9a9aa0" stroke-width="0.3"/>
<text x="12.2" y="296.88" font-size="6.4" stroke="#111" stroke-width="0.18" text-anchor="middle" fill="#111">5</text>
<circle cx="16.8" cy="294.58" r="1.95" fill="#e09a3a"/>
<line x1="21.8" y1="294.58" x2="23.1" y2="294.58" stroke="#444" stroke-width="0.4"/>
<circle cx="27" cy="294.58" r="2.81" fill="#d54546" stroke="#9a9aa0" stroke-width="0.3"/>
<circle cx="33.53" cy="294.58" r="1.33" fill="#dde1f0" stroke="#9a9aa0" stroke-width="0.3"/>
<circle cx="40.07" cy="294.58" r="1.17" fill="#dde1f0" stroke="#9a9aa0" stroke-width="0.3"/>
<circle cx="46.6" cy="294.58" r="2.97" fill="#d54546" stroke="#9a9aa0" stroke-width="0.3"/>
<circle cx="53.13" cy="294.58" r="2.81" fill="#e8837d" stroke="#9a9aa0" stroke-width="0.3"/>
<circle cx="59.66" cy="294.58" r="3.06" fill="#ffffff" stroke="#9a9aa0" stroke-width="0.3"/>
<circle cx="66.2" cy="294.58" r="3.06" fill="#ffffff" stroke="#9a9aa0" stroke-width="0.3"/>
<circle cx="72.73" cy="294.58" r="3.06" fill="#c4202c" stroke="#9a9aa0" stroke-width="0.3"/>
<circle cx="79.26" cy="294.58" r="3.06" fill="#c4202c" stroke="#9a9aa0" stroke-width="0.3"/>
<circle cx="85.8" cy="294.58" r="2.81" fill="#c72731" stroke="#9a9aa0" stroke-width="0.3"/>
<circle cx="92.33" cy="294.58" r="3.06" fill="#fae1df" stroke="#9a9aa0" stroke-width="0.3"/>
<circle cx="98.86" cy="294.58" r="3.06" fill="#ee9a94" stroke="#9a9aa0" stroke-width="0.3"/>
<circle cx="105.4" cy="294.58" r="3.06" fill="#ffffff" stroke="#9a9aa0" stroke-width="0.3"/>
<circle cx="111.93" cy="294.58" r="3.06" fill="#ffffff" stroke="#9a9aa0" stroke-width="0.3"/>
<circle cx="118.46" cy="294.58" r="0.68" fill="#aeb1c2"/>
<circle cx="125" cy="294.58" r="1.58" fill="#b0b8dc" stroke="#9a9aa0" stroke-width="0.3"/>
<circle cx="131.53" cy="294.58" r="0.68" fill="#aeb1c2"/>
<circle cx="138.06" cy="294.58" r="0.68" fill="#aeb1c2"/>
<circle cx="144.59" cy="294.58" r="0.68" fill="#aeb1c2"/>
<circle cx="151.13" cy="294.58" r="1.58" fill="#b0b8dc" stroke="#9a9aa0" stroke-width="0.3"/>
<circle cx="157.66" cy="294.58" r="0.68" fill="#aeb1c2"/>
<circle cx="164.19" cy="294.58" r="2.15" fill="#ee9a94" stroke="#9a9aa0" stroke-width="0.3"/>
<circle cx="170.73" cy="294.58" r="0.68" fill="#aeb1c2"/>
<circle cx="177.26" cy="294.58" r="0.68" fill="#aeb1c2"/>
<circle cx="183.79" cy="294.58" r="0.68" fill="#aeb1c2"/>
<circle cx="190.33" cy="294.58" r="0.68" fill="#aeb1c2"/>
<circle cx="196.86" cy="294.58" r="1.83" fill="#ffffff" stroke="#9a9aa0" stroke-width="0.3"/>
<circle cx="203.39" cy="294.58" r="0.68" fill="#aeb1c2"/>
<text x="12.2" y="310.42" font-size="6.4" stroke="#111" stroke-width="0.18" text-anchor="middle" fill="#111">8</text>
<circle cx="16.8" cy="308.12" r="1.95" fill="#ee6f6a"/>
<line x1="21.8" y1="308.12" x2="23.1" y2="308.12" stroke="#444" stroke-width="0.4"/>
<circle cx="27" cy="308.12" r="1.99" fill="#e26b67" stroke="#9a9aa0" stroke-width="0.3"/>
<circle cx="33.53" cy="308.12" r="1.01" fill="#ce363b" stroke="#9a9aa0" stroke-width="0.3"/>
<circle cx="40.07" cy="308.12" r="1.01" fill="#c4202c" stroke="#9a9aa0" stroke-width="0.3"/>
<circle cx="46.6" cy="308.12" r="3.06" fill="#f3b9b4" stroke="#9a9aa0" stroke-width="0.3"/>
<circle cx="53.13" cy="308.12" r="1.99" fill="#ce363b" stroke="#9a9aa0" stroke-width="0.3"/>
<circle cx="59.66" cy="308.12" r="3.14" fill="#c4202c" stroke="#9a9aa0" stroke-width="0.3"/>
<circle cx="66.2" cy="308.12" r="3.14" fill="#c4202c" stroke="#9a9aa0" stroke-width="0.3"/>
<circle cx="72.73" cy="308.12" r="2.81" fill="#fefafa" stroke="#9a9aa0" stroke-width="0.3"/>
<circle cx="79.26" cy="308.12" r="2.81" fill="#f9d7d4" stroke="#9a9aa0" stroke-width="0.3"/>
<circle cx="85.8" cy="308.12" r="1.99" fill="#fae1df" stroke="#9a9aa0" stroke-width="0.3"/>
<circle cx="92.33" cy="308.12" r="3.06" fill="#fbe6e4" stroke="#9a9aa0" stroke-width="0.3"/>
<circle cx="98.86" cy="308.12" r="1.99" fill="#ffffff" stroke="#9a9aa0" stroke-width="0.3"/>
<circle cx="105.4" cy="308.12" r="2.65" fill="#ffffff" stroke="#9a9aa0" stroke-width="0.3"/>
<circle cx="111.93" cy="308.12" r="2.65" fill="#fcebe9" stroke="#9a9aa0" stroke-width="0.3"/>
<circle cx="118.46" cy="308.12" r="0.68" fill="#aeb1c2"/>
<circle cx="125" cy="308.12" r="1.58" fill="#bbc2e1" stroke="#9a9aa0" stroke-width="0.3"/>
<circle cx="131.53" cy="308.12" r="0.68" fill="#aeb1c2"/>
<circle cx="138.06" cy="308.12" r="0.68" fill="#aeb1c2"/>
<circle cx="144.59" cy="308.12" r="0.84" fill="#dde1f0" stroke="#9a9aa0" stroke-width="0.3"/>
<circle cx="151.13" cy="308.12" r="2.4" fill="#fae1df" stroke="#9a9aa0" stroke-width="0.3"/>
<circle cx="157.66" cy="308.12" r="0.68" fill="#aeb1c2"/>
<circle cx="164.19" cy="308.12" r="1.58" fill="#e8837d" stroke="#9a9aa0" stroke-width="0.3"/>
<circle cx="170.73" cy="308.12" r="0.68" fill="#aeb1c2"/>
<circle cx="177.26" cy="308.12" r="0.68" fill="#aeb1c2"/>
<circle cx="183.79" cy="308.12" r="0.68" fill="#aeb1c2"/>
<circle cx="190.33" cy="308.12" r="0.68" fill="#aeb1c2"/>
<circle cx="196.86" cy="308.12" r="0.68" fill="#aeb1c2"/>
<circle cx="203.39" cy="308.12" r="0.68" fill="#aeb1c2"/>
<line x1="27" y1="315.6" x2="27" y2="316.9" stroke="#444" stroke-width="0.4"/>
<text x="29" y="318.2" font-size="5.6" stroke="#111" stroke-width="0.11" text-anchor="end" font-style="italic" transform="rotate(-90 29 318.2)" fill="#111">Adgre1</text>
<line x1="33.53" y1="315.6" x2="33.53" y2="316.9" stroke="#444" stroke-width="0.4"/>
<text x="35.53" y="318.2" font-size="5.6" stroke="#111" stroke-width="0.11" text-anchor="end" font-style="italic" transform="rotate(-90 35.53 318.2)" fill="#111">Itgax</text>
<line x1="40.07" y1="315.6" x2="40.07" y2="316.9" stroke="#444" stroke-width="0.4"/>
<text x="42.07" y="318.2" font-size="5.6" stroke="#111" stroke-width="0.11" text-anchor="end" font-style="italic" transform="rotate(-90 42.07 318.2)" fill="#111">Siglec1</text>
<line x1="46.6" y1="315.6" x2="46.6" y2="316.9" stroke="#444" stroke-width="0.4"/>
<text x="48.6" y="318.2" font-size="5.6" stroke="#111" stroke-width="0.11" text-anchor="end" font-style="italic" transform="rotate(-90 48.6 318.2)" fill="#111">Apoe</text>
<line x1="53.13" y1="315.6" x2="53.13" y2="316.9" stroke="#444" stroke-width="0.4"/>
<text x="55.13" y="318.2" font-size="5.6" stroke="#111" stroke-width="0.11" text-anchor="end" font-style="italic" transform="rotate(-90 55.13 318.2)" fill="#111">Mrc1</text>
<line x1="59.66" y1="315.6" x2="59.66" y2="316.9" stroke="#444" stroke-width="0.4"/>
<text x="61.66" y="318.2" font-size="5.6" stroke="#111" stroke-width="0.11" text-anchor="end" font-style="italic" transform="rotate(-90 61.66 318.2)" fill="#111">mt-Nd1</text>
<line x1="66.2" y1="315.6" x2="66.2" y2="316.9" stroke="#444" stroke-width="0.4"/>
<text x="68.2" y="318.2" font-size="5.6" stroke="#111" stroke-width="0.11" text-anchor="end" font-style="italic" transform="rotate(-90 68.2 318.2)" fill="#111">mt-Cytb</text>
<line x1="72.73" y1="315.6" x2="72.73" y2="316.9" stroke="#444" stroke-width="0.4"/>
<text x="74.73" y="318.2" font-size="5.6" stroke="#111" stroke-width="0.11" text-anchor="end" font-style="italic" transform="rotate(-90 74.73 318.2)" fill="#111">C1qc</text>
<line x1="79.26" y1="315.6" x2="79.26" y2="316.9" stroke="#444" stroke-width="0.4"/>
<text x="81.26" y="318.2" font-size="5.6" stroke="#111" stroke-width="0.11" text-anchor="end" font-style="italic" transform="rotate(-90 81.26 318.2)" fill="#111">C1qb</text>
<line x1="85.8" y1="315.6" x2="85.8" y2="316.9" stroke="#444" stroke-width="0.4"/>
<text x="87.8" y="318.2" font-size="5.6" stroke="#111" stroke-width="0.11" text-anchor="end" font-style="italic" transform="rotate(-90 87.8 318.2)" fill="#111">Cd72</text>
<line x1="92.33" y1="315.6" x2="92.33" y2="316.9" stroke="#444" stroke-width="0.4"/>
<text x="94.33" y="318.2" font-size="5.6" stroke="#111" stroke-width="0.11" text-anchor="end" font-style="italic" transform="rotate(-90 94.33 318.2)" fill="#111">Cd74</text>
<line x1="98.86" y1="315.6" x2="98.86" y2="316.9" stroke="#444" stroke-width="0.4"/>
<text x="100.86" y="318.2" font-size="5.6" stroke="#111" stroke-width="0.11" text-anchor="end" font-style="italic" transform="rotate(-90 100.86 318.2)" fill="#111">Cxcl16</text>
<line x1="105.4" y1="315.6" x2="105.4" y2="316.9" stroke="#444" stroke-width="0.4"/>
<text x="107.4" y="318.2" font-size="5.6" stroke="#111" stroke-width="0.11" text-anchor="end" font-style="italic" transform="rotate(-90 107.4 318.2)" fill="#111">H2-Aa</text>
<line x1="111.93" y1="315.6" x2="111.93" y2="316.9" stroke="#444" stroke-width="0.4"/>
<text x="113.93" y="318.2" font-size="5.6" stroke="#111" stroke-width="0.11" text-anchor="end" font-style="italic" transform="rotate(-90 113.93 318.2)" fill="#111">H2-Ab1</text>
<line x1="118.46" y1="315.6" x2="118.46" y2="316.9" stroke="#444" stroke-width="0.4"/>
<text x="120.46" y="318.2" font-size="5.6" stroke="#111" stroke-width="0.11" text-anchor="end" font-style="italic" transform="rotate(-90 120.46 318.2)" fill="#111">Cd3e</text>
<line x1="125" y1="315.6" x2="125" y2="316.9" stroke="#444" stroke-width="0.4"/>
<text x="127" y="318.2" font-size="5.6" stroke="#111" stroke-width="0.11" text-anchor="end" font-style="italic" transform="rotate(-90 127 318.2)" fill="#111">Ly6c2</text>
<line x1="131.53" y1="315.6" x2="131.53" y2="316.9" stroke="#444" stroke-width="0.4"/>
<text x="133.53" y="318.2" font-size="5.6" stroke="#111" stroke-width="0.11" text-anchor="end" font-style="italic" transform="rotate(-90 133.53 318.2)" fill="#111">Sell</text>
<line x1="138.06" y1="315.6" x2="138.06" y2="316.9" stroke="#444" stroke-width="0.4"/>
<text x="140.06" y="318.2" font-size="5.6" stroke="#111" stroke-width="0.11" text-anchor="end" font-style="italic" transform="rotate(-90 140.06 318.2)" fill="#111">Ifit1</text>
<line x1="144.59" y1="315.6" x2="144.59" y2="316.9" stroke="#444" stroke-width="0.4"/>
<text x="146.59" y="318.2" font-size="5.6" stroke="#111" stroke-width="0.11" text-anchor="end" font-style="italic" transform="rotate(-90 146.59 318.2)" fill="#111">Ifit2</text>
<line x1="151.13" y1="315.6" x2="151.13" y2="316.9" stroke="#444" stroke-width="0.4"/>
<text x="153.13" y="318.2" font-size="5.6" stroke="#111" stroke-width="0.11" text-anchor="end" font-style="italic" transform="rotate(-90 153.13 318.2)" fill="#111">Ccr2</text>
<line x1="157.66" y1="315.6" x2="157.66" y2="316.9" stroke="#444" stroke-width="0.4"/>
<text x="159.66" y="318.2" font-size="5.6" stroke="#111" stroke-width="0.11" text-anchor="end" font-style="italic" transform="rotate(-90 159.66 318.2)" fill="#111">Chil3</text>
<line x1="164.19" y1="315.6" x2="164.19" y2="316.9" stroke="#444" stroke-width="0.4"/>
<text x="166.19" y="318.2" font-size="5.6" stroke="#111" stroke-width="0.11" text-anchor="end" font-style="italic" transform="rotate(-90 166.19 318.2)" fill="#111">Cx3cr1</text>
<line x1="170.73" y1="315.6" x2="170.73" y2="316.9" stroke="#444" stroke-width="0.4"/>
<text x="172.73" y="318.2" font-size="5.6" stroke="#111" stroke-width="0.11" text-anchor="end" font-style="italic" transform="rotate(-90 172.73 318.2)" fill="#111">Hp</text>
<line x1="177.26" y1="315.6" x2="177.26" y2="316.9" stroke="#444" stroke-width="0.4"/>
<text x="179.26" y="318.2" font-size="5.6" stroke="#111" stroke-width="0.11" text-anchor="end" font-style="italic" transform="rotate(-90 179.26 318.2)" fill="#111">Fn1</text>
<line x1="183.79" y1="315.6" x2="183.79" y2="316.9" stroke="#444" stroke-width="0.4"/>
<text x="185.79" y="318.2" font-size="5.6" stroke="#111" stroke-width="0.11" text-anchor="end" font-style="italic" transform="rotate(-90 185.79 318.2)" fill="#111">Ace</text>
<line x1="190.33" y1="315.6" x2="190.33" y2="316.9" stroke="#444" stroke-width="0.4"/>
<text x="192.33" y="318.2" font-size="5.6" stroke="#111" stroke-width="0.11" text-anchor="end" font-style="italic" transform="rotate(-90 192.33 318.2)" fill="#111">Ear2</text>
<line x1="196.86" y1="315.6" x2="196.86" y2="316.9" stroke="#444" stroke-width="0.4"/>
<text x="198.86" y="318.2" font-size="5.6" stroke="#111" stroke-width="0.11" text-anchor="end" font-style="italic" transform="rotate(-90 198.86 318.2)" fill="#111">Hmox1</text>
<line x1="203.39" y1="315.6" x2="203.39" y2="316.9" stroke="#444" stroke-width="0.4"/>
<text x="205.39" y="318.2" font-size="5.6" stroke="#111" stroke-width="0.11" text-anchor="end" font-style="italic" transform="rotate(-90 205.39 318.2)" fill="#111">Hilpda</text>
<text x="6.7" y="244.2" font-size="7.8" stroke="#111" stroke-width="0.22" text-anchor="middle" transform="rotate(-90 6.7 244.2)" fill="#111">Cluster</text>
<text x="219.4" y="220.1" font-size="5.86" stroke="#222" stroke-width="0.16" text-anchor="middle" transform="rotate(-90 219.4 220.1)" fill="#222">Percentage of expressing</text>
<circle cx="225.8" cy="218.6" r="0.65" fill="#666"/>
<text x="231.2" y="220.7" font-size="6" stroke="#222" stroke-width="0.17" fill="#222">25</text>
<circle cx="225.8" cy="226.2" r="1.6" fill="#fff" stroke="#333" stroke-width="0.45"/>
<text x="231.2" y="228.3" font-size="6" stroke="#222" stroke-width="0.17" fill="#222">50</text>
<circle cx="225.8" cy="233.8" r="2.3" fill="#fff" stroke="#333" stroke-width="0.45"/>
<text x="231.2" y="235.9" font-size="6" stroke="#222" stroke-width="0.17" fill="#222">75</text>
<circle cx="225.8" cy="242.3" r="3.1" fill="#fff" stroke="#333" stroke-width="0.45"/>
<text x="231.2" y="244.4" font-size="6" stroke="#222" stroke-width="0.17" fill="#222">100</text>
<text x="219.3" y="284.2" font-size="6.1" stroke="#222" stroke-width="0.17" text-anchor="middle" transform="rotate(-90 219.3 284.2)" fill="#222">Scaled expression</text>
<defs><linearGradient id="dg" x1="0" x2="0" y1="0" y2="1"><stop offset="0" stop-color="#c81e2c"/><stop offset="0.22" stop-color="#de5450"/><stop offset="0.45" stop-color="#f2aaa5"/><stop offset="0.656" stop-color="#ffffff"/><stop offset="0.83" stop-color="#c6cdea"/><stop offset="1" stop-color="#9aa8d8"/></linearGradient></defs>
<rect x="221.3" y="264.1" width="7.6" height="38.1" fill="url(#dg)"/>
<text x="230.8" y="270.8" font-size="6" stroke="#222" stroke-width="0.17" fill="#222">2</text>
<text x="230.8" y="281.1" font-size="6" stroke="#222" stroke-width="0.17" fill="#222">1</text>
<text x="230.8" y="291.2" font-size="6" stroke="#222" stroke-width="0.17" fill="#222">0</text>
<text x="230.8" y="300.9" font-size="6" stroke="#222" stroke-width="0.17" fill="#222">−1</text>
</g>
<g>
<text x="439.7" y="10.8" font-size="11.3" stroke="#000" stroke-width="0.4" font-weight="bold" fill="#000">D</text>
<line x1="457.5" y1="21.5" x2="457.5" y2="53.3" stroke="#6a6a6a" stroke-width="0.55"/>
<line x1="457.5" y1="53.3" x2="492.5" y2="53.3" stroke="#6a6a6a" stroke-width="0.55"/>
<line x1="456.5" y1="25.6" x2="457.5" y2="25.6" stroke="#6a6a6a" stroke-width="0.4"/>
<line x1="456.5" y1="51.9" x2="457.5" y2="51.9" stroke="#6a6a6a" stroke-width="0.4"/>
<text x="456.1" y="27.69" font-size="5.8" stroke="#111" stroke-width="0.06" text-anchor="end" fill="#111">3</text>
<text x="456.1" y="53.64" font-size="5.8" stroke="#111" stroke-width="0.06" text-anchor="end" fill="#111">0</text>
<text x="459.8" y="24.6" font-size="5.2" stroke="#222" stroke-width="0.15" fill="#222"><tspan font-style="italic">P</tspan> = 1.7E–08</text>
<path d="M471.5 52.9C472.55 52.79 471.57 52.65 471.26 52.2C470.96 51.75 469.87 50.45 469.6 50.1C469.33 49.75 469.15 50.82 469.6 50C470.05 49.18 471.74 46.28 472.39 45C473.04 43.72 473.41 42.8 473.68 42C473.95 41.2 474.1 40.84 474.1 40C474.1 39.16 473.97 37.67 473.68 36.73C473.39 35.78 472.81 34.84 472.3 34.1C471.79 33.37 470.99 32.71 470.5 32.14C470.01 31.57 469.56 31.09 469.24 30.57C468.92 30.04 468.69 29.45 468.52 28.86C468.35 28.28 468.28 27.21 468.2 26.9C468.12 26.59 468.08 26.59 468 26.9C467.92 27.21 467.85 28.28 467.68 28.86C467.51 29.45 467.28 30.04 466.96 30.57C466.64 31.09 466.19 31.57 465.7 32.14C465.21 32.71 464.41 33.37 463.9 34.1C463.39 34.84 462.81 35.78 462.52 36.73C462.23 37.67 462.1 39.16 462.1 40C462.1 40.84 462.25 41.2 462.52 42C462.79 42.8 463.16 43.72 463.81 45C464.46 46.28 466.15 49.18 466.6 50C467.05 50.82 466.87 49.75 466.6 50.1C466.33 50.45 465.24 51.75 464.94 52.2C464.63 52.65 463.65 52.79 464.7 52.9C465.75 53.01 470.45 53.01 471.5 52.9Z" fill="#1f8dc4"/>
<path d="M482.7 52.9C483.07 52.79 482.68 52.84 482.62 52.2C482.55 51.56 482.35 49.44 482.3 48.9C482.25 48.36 481.86 49.77 482.3 48.8C482.74 47.83 484.24 44.37 485.05 42.85C485.86 41.33 486.92 40.23 487.36 39.28C487.8 38.33 487.87 37.72 487.8 36.9C487.73 36.08 487.42 35.13 486.92 34.17C486.41 33.22 485.32 31.86 484.65 30.9C483.98 29.95 483.25 28.96 482.76 28.18C482.27 27.4 481.82 26.35 481.6 26C481.38 25.65 481.62 25.65 481.4 26C481.18 26.35 480.73 27.4 480.24 28.18C479.75 28.96 479.02 29.95 478.35 30.9C477.68 31.86 476.59 33.22 476.08 34.17C475.58 35.13 475.27 36.08 475.2 36.9C475.13 37.72 475.2 38.33 475.64 39.28C476.08 40.23 477.14 41.33 477.95 42.85C478.76 44.37 480.26 47.83 480.7 48.8C481.14 49.77 480.75 48.36 480.7 48.9C480.65 49.44 480.45 51.56 480.38 52.2C480.32 52.84 479.93 52.79 480.3 52.9C480.67 53.01 482.33 53.01 482.7 52.9Z" fill="#f4886b"/>
<text x="490.2" y="38" font-size="6.9" stroke="#111" stroke-width="0.14" font-style="italic" fill="#111">Itgam</text>
<rect x="500.8" y="51.5" width="6.2" height="6.2" fill="#1f8dc4"/>
<text x="508.8" y="57.2" font-size="7.4" stroke="#111" stroke-width="0.21" fill="#111">WT</text>
<rect x="500.8" y="59.6" width="6.2" height="6.2" fill="#f4886b"/>
<text x="508.8" y="65.4" font-size="7.4" stroke="#111" stroke-width="0.21" fill="#111">KO</text>
<line x1="457.5" y1="66.2" x2="457.5" y2="98" stroke="#6a6a6a" stroke-width="0.55"/>
<line x1="457.5" y1="98" x2="492.5" y2="98" stroke="#6a6a6a" stroke-width="0.55"/>
<line x1="456.5" y1="70.2" x2="457.5" y2="70.2" stroke="#6a6a6a" stroke-width="0.4"/>
<line x1="456.5" y1="96.6" x2="457.5" y2="96.6" stroke="#6a6a6a" stroke-width="0.4"/>
<text x="456.1" y="72.29" font-size="5.8" stroke="#111" stroke-width="0.06" text-anchor="end" fill="#111">3</text>
<text x="456.1" y="98.34" font-size="5.8" stroke="#111" stroke-width="0.06" text-anchor="end" fill="#111">0</text>
<text x="459.8" y="69.2" font-size="5.2" stroke="#222" stroke-width="0.15" fill="#222"><tspan font-style="italic">P</tspan> = 1.6E–05</text>
<path d="M473.7 97.5C475.44 97.4 473.74 97.14 473.4 96.9C473.06 96.66 472.02 96.34 471.6 96C471.18 95.66 470.96 95.44 470.8 94.8C470.64 94.16 470.62 93.09 470.6 92C470.58 90.91 470.75 89.12 470.7 88C470.65 86.88 470.49 85.96 470.3 85C470.11 84.04 469.74 82.88 469.5 82C469.26 81.12 469.01 80.3 468.8 79.5C468.59 78.7 468.33 77.4 468.2 77C468.07 76.6 468.13 76.6 468 77C467.87 77.4 467.61 78.7 467.4 79.5C467.19 80.3 466.94 81.12 466.7 82C466.46 82.88 466.09 84.04 465.9 85C465.71 85.96 465.55 86.88 465.5 88C465.45 89.12 465.62 90.91 465.6 92C465.58 93.09 465.56 94.16 465.4 94.8C465.24 95.44 465.02 95.66 464.6 96C464.18 96.34 463.14 96.66 462.8 96.9C462.46 97.14 460.76 97.4 462.5 97.5C464.24 97.6 471.96 97.6 473.7 97.5Z" fill="#1f8dc4"/>
<path d="M486.5 97.5C488.06 97.39 486.81 97.06 486.25 96.8C485.69 96.54 483.62 96.3 483.01 95.9C482.4 95.5 482.55 94.84 482.45 94.3C482.35 93.76 482.4 93.36 482.36 92.55C482.31 91.74 482.25 90.25 482.18 89.25C482.12 88.25 482.03 87.12 481.96 86.28C481.88 85.44 481.8 84.6 481.74 83.97C481.68 83.34 481.62 82.8 481.6 82.32C481.57 81.84 481.61 81.21 481.58 81C481.55 80.79 481.45 80.79 481.42 81C481.39 81.21 481.43 81.84 481.4 82.32C481.38 82.8 481.32 83.34 481.26 83.97C481.2 84.6 481.12 85.44 481.04 86.28C480.97 87.12 480.88 88.25 480.82 89.25C480.75 90.25 480.69 91.74 480.64 92.55C480.6 93.36 480.65 93.76 480.55 94.3C480.45 94.84 480.6 95.5 479.99 95.9C479.38 96.3 477.31 96.54 476.75 96.8C476.19 97.06 474.94 97.39 476.5 97.5C478.06 97.61 484.94 97.61 486.5 97.5Z" fill="#f4886b"/>
<text x="486.7" y="83.3" font-size="6.9" stroke="#111" stroke-width="0.14" font-style="italic" fill="#111">Itgax</text>
<line x1="457.5" y1="112.3" x2="457.5" y2="142.2" stroke="#6a6a6a" stroke-width="0.55"/>
<line x1="457.5" y1="142.2" x2="492.5" y2="142.2" stroke="#6a6a6a" stroke-width="0.55"/>
<line x1="456.5" y1="116.6" x2="457.5" y2="116.6" stroke="#6a6a6a" stroke-width="0.4"/>
<line x1="456.5" y1="140.8" x2="457.5" y2="140.8" stroke="#6a6a6a" stroke-width="0.4"/>
<text x="456.1" y="118.69" font-size="5.8" stroke="#111" stroke-width="0.06" text-anchor="end" fill="#111">3</text>
<text x="456.1" y="142.54" font-size="5.8" stroke="#111" stroke-width="0.06" text-anchor="end" fill="#111">0</text>
<text x="459.8" y="115.4" font-size="5.2" stroke="#222" stroke-width="0.15" fill="#222"><tspan font-style="italic">P</tspan> = 1.5E–06</text>
<path d="M474.6 142C476.63 141.89 474.95 141.56 474.28 141.3C473.6 141.04 471.13 140.8 470.4 140.4C469.67 140 469.84 139.73 469.7 138.8C469.56 137.87 469.61 136.05 469.54 134.59C469.47 133.13 469.36 131.15 469.25 129.65C469.14 128.15 468.99 126.47 468.87 125.2C468.75 123.94 468.6 122.69 468.5 121.75C468.4 120.8 468.31 119.99 468.26 119.28C468.21 118.56 468.22 117.62 468.18 117.3C468.14 116.98 468.06 116.98 468.02 117.3C467.98 117.62 467.99 118.56 467.94 119.28C467.89 119.99 467.8 120.8 467.7 121.75C467.6 122.69 467.45 123.94 467.33 125.2C467.21 126.47 467.06 128.15 466.95 129.65C466.84 131.15 466.73 133.13 466.66 134.59C466.59 136.05 466.64 137.87 466.5 138.8C466.36 139.73 466.53 140 465.8 140.4C465.07 140.8 462.6 141.04 461.93 141.3C461.25 141.56 459.57 141.89 461.6 142C463.63 142.11 472.57 142.11 474.6 142Z" fill="#1f8dc4"/>
<text x="484.2" y="130.4" font-size="6.9" stroke="#111" stroke-width="0.14" font-style="italic" fill="#111">Cx3cr1</text>
<text x="447" y="81.4" font-size="7.05" stroke="#111" stroke-width="0.2" text-anchor="middle" transform="rotate(-90 447 81.4)" fill="#111">Expression level</text>
<text x="473.8" y="156.8" font-size="7" stroke="#111" stroke-width="0.2" text-anchor="middle" fill="#111">pre-AM (cluster 0)</text>
</g>
<g>
<text x="253.1" y="185.8" font-size="11.3" stroke="#000" stroke-width="0.4" font-weight="bold" fill="#000">E</text>
<rect x="266.6" y="194" width="232" height="10.2" fill="#fff" stroke="#555" stroke-width="0.5"/>
<text x="367.6" y="201.8" font-size="7.2" stroke="#111" stroke-width="0.2" text-anchor="middle" fill="#111">Genes associated with fibrosis</text>
<line x1="277.9" y1="216.6" x2="277.9" y2="246" stroke="#8a8a8a" stroke-width="0.45"/>
<line x1="277.9" y1="246" x2="314.4" y2="246" stroke="#8a8a8a" stroke-width="0.45"/>
<line x1="276.9" y1="218.2" x2="277.9" y2="218.2" stroke="#8a8a8a" stroke-width="0.4"/>
<line x1="276.9" y1="244.6" x2="277.9" y2="244.6" stroke="#8a8a8a" stroke-width="0.4"/>
<text x="276.5" y="220.22" font-size="5.6" stroke="#111" stroke-width="0.06" text-anchor="end" fill="#111">3</text>
<text x="276.5" y="246.28" font-size="5.6" stroke="#111" stroke-width="0.06" text-anchor="end" fill="#111">0</text>
<text x="280.3" y="213.8" font-size="6.9" stroke="#111" stroke-width="0.2" font-style="italic" fill="#111">Vim</text>
<text x="294.9" y="213" font-size="3.3" stroke="#333" stroke-width="0.09" fill="#333"><tspan font-style="italic">P</tspan> = 1.6E-05</text>
<line x1="323.1" y1="216.6" x2="323.1" y2="246" stroke="#8a8a8a" stroke-width="0.45"/>
<line x1="323.1" y1="246" x2="359.6" y2="246" stroke="#8a8a8a" stroke-width="0.45"/>
<line x1="322.1" y1="218.2" x2="323.1" y2="218.2" stroke="#8a8a8a" stroke-width="0.4"/>
<line x1="322.1" y1="244.6" x2="323.1" y2="244.6" stroke="#8a8a8a" stroke-width="0.4"/>
<text x="321.7" y="220.22" font-size="5.6" stroke="#111" stroke-width="0.06" text-anchor="end" fill="#111">3</text>
<text x="321.7" y="246.28" font-size="5.6" stroke="#111" stroke-width="0.06" text-anchor="end" fill="#111">0</text>
<text x="326.6" y="213.8" font-size="6.9" stroke="#111" stroke-width="0.2" font-style="italic" fill="#111">Id2</text>
<text x="340.1" y="213" font-size="3.3" stroke="#333" stroke-width="0.09" fill="#333"><tspan font-style="italic">P</tspan> = 0.0004</text>
<line x1="368.2" y1="216.6" x2="368.2" y2="246" stroke="#8a8a8a" stroke-width="0.45"/>
<line x1="368.2" y1="246" x2="404.7" y2="246" stroke="#8a8a8a" stroke-width="0.45"/>
<line x1="367.2" y1="219.4" x2="368.2" y2="219.4" stroke="#8a8a8a" stroke-width="0.4"/>
<line x1="367.2" y1="244.6" x2="368.2" y2="244.6" stroke="#8a8a8a" stroke-width="0.4"/>
<text x="366.8" y="221.42" font-size="5.6" stroke="#111" stroke-width="0.06" text-anchor="end" fill="#111">4</text>
<text x="366.8" y="246.28" font-size="5.6" stroke="#111" stroke-width="0.06" text-anchor="end" fill="#111">0</text>
<text x="369.6" y="213.8" font-size="6.9" stroke="#111" stroke-width="0.2" font-style="italic" fill="#111">Ccl6</text>
<text x="385" y="213" font-size="3.3" stroke="#333" stroke-width="0.09" fill="#333"><tspan font-style="italic">P</tspan> = 0.0006</text>
<line x1="414.4" y1="216.6" x2="414.4" y2="246" stroke="#8a8a8a" stroke-width="0.45"/>
<line x1="414.4" y1="246" x2="450.9" y2="246" stroke="#8a8a8a" stroke-width="0.45"/>
<line x1="413.4" y1="217.6" x2="414.4" y2="217.6" stroke="#8a8a8a" stroke-width="0.4"/>
<line x1="413.4" y1="244.6" x2="414.4" y2="244.6" stroke="#8a8a8a" stroke-width="0.4"/>
<text x="413" y="219.62" font-size="5.6" stroke="#111" stroke-width="0.06" text-anchor="end" fill="#111">3</text>
<text x="413" y="246.28" font-size="5.6" stroke="#111" stroke-width="0.06" text-anchor="end" fill="#111">0</text>
<text x="416.2" y="213.8" font-size="6.9" stroke="#111" stroke-width="0.2" font-style="italic" fill="#111">Plaur</text>
<text x="435" y="213" font-size="3.3" stroke="#333" stroke-width="0.09" fill="#333"><tspan font-style="italic">P</tspan> = 0.006</text>
<line x1="277.9" y1="261.2" x2="277.9" y2="290.6" stroke="#8a8a8a" stroke-width="0.45"/>
<line x1="277.9" y1="290.6" x2="314.4" y2="290.6" stroke="#8a8a8a" stroke-width="0.45"/>
<line x1="276.9" y1="263.2" x2="277.9" y2="263.2" stroke="#8a8a8a" stroke-width="0.4"/>
<line x1="276.9" y1="289.2" x2="277.9" y2="289.2" stroke="#8a8a8a" stroke-width="0.4"/>
<text x="276.5" y="265.22" font-size="5.6" stroke="#111" stroke-width="0.06" text-anchor="end" fill="#111">3</text>
<text x="276.5" y="290.88" font-size="5.6" stroke="#111" stroke-width="0.06" text-anchor="end" fill="#111">0</text>
<text x="280.5" y="258.4" font-size="6.9" stroke="#111" stroke-width="0.2" font-style="italic" fill="#111">Ccr5</text>
<text x="299.7" y="257.6" font-size="3.3" stroke="#333" stroke-width="0.09" fill="#333"><tspan font-style="italic">P</tspan> = 0.02</text>
<line x1="323.1" y1="261.2" x2="323.1" y2="290.6" stroke="#8a8a8a" stroke-width="0.45"/>
<line x1="323.1" y1="290.6" x2="359.6" y2="290.6" stroke="#8a8a8a" stroke-width="0.45"/>
<line x1="322.1" y1="264.4" x2="323.1" y2="264.4" stroke="#8a8a8a" stroke-width="0.4"/>
<line x1="322.1" y1="289.2" x2="323.1" y2="289.2" stroke="#8a8a8a" stroke-width="0.4"/>
<text x="321.7" y="266.42" font-size="5.6" stroke="#111" stroke-width="0.06" text-anchor="end" fill="#111">4</text>
<text x="321.7" y="290.88" font-size="5.6" stroke="#111" stroke-width="0.06" text-anchor="end" fill="#111">0</text>
<text x="324" y="258.4" font-size="6.9" stroke="#111" stroke-width="0.2" font-style="italic" fill="#111">Thbs1</text>
<text x="344" y="257.6" font-size="3.3" stroke="#333" stroke-width="0.09" fill="#333"><tspan font-style="italic">P</tspan> = 0.0006</text>
<line x1="368.2" y1="261.2" x2="368.2" y2="290.6" stroke="#8a8a8a" stroke-width="0.45"/>
<line x1="368.2" y1="290.6" x2="404.7" y2="290.6" stroke="#8a8a8a" stroke-width="0.45"/>
<line x1="367.2" y1="266.8" x2="368.2" y2="266.8" stroke="#8a8a8a" stroke-width="0.4"/>
<line x1="367.2" y1="289.2" x2="368.2" y2="289.2" stroke="#8a8a8a" stroke-width="0.4"/>
<text x="366.8" y="268.82" font-size="5.6" stroke="#111" stroke-width="0.06" text-anchor="end" fill="#111">3</text>
<text x="366.8" y="290.88" font-size="5.6" stroke="#111" stroke-width="0.06" text-anchor="end" fill="#111">0</text>
<text x="368.7" y="258.4" font-size="6.9" stroke="#111" stroke-width="0.2" font-style="italic" fill="#111">Sdc4</text>
<text x="386.9" y="257.6" font-size="3.3" stroke="#333" stroke-width="0.09" fill="#333"><tspan font-style="italic">P</tspan> = 1.5E-05</text>
<line x1="414.4" y1="261.2" x2="414.4" y2="290.6" stroke="#8a8a8a" stroke-width="0.45"/>
<line x1="414.4" y1="290.6" x2="450.9" y2="290.6" stroke="#8a8a8a" stroke-width="0.45"/>
<line x1="413.4" y1="261.2" x2="414.4" y2="261.2" stroke="#8a8a8a" stroke-width="0.4"/>
<line x1="413.4" y1="289.2" x2="414.4" y2="289.2" stroke="#8a8a8a" stroke-width="0.4"/>
<text x="413" y="263.22" font-size="5.6" stroke="#111" stroke-width="0.06" text-anchor="end" fill="#111">5</text>
<text x="413" y="290.88" font-size="5.6" stroke="#111" stroke-width="0.06" text-anchor="end" fill="#111">0</text>
<text x="414.8" y="258.4" font-size="6.9" stroke="#111" stroke-width="0.2" font-style="italic" fill="#111">Lgals3</text>
<text x="436.9" y="257.6" font-size="3.3" stroke="#333" stroke-width="0.09" fill="#333"><tspan font-style="italic">P</tspan> = 1.5E-11</text>
<line x1="277.9" y1="305.5" x2="277.9" y2="334.9" stroke="#8a8a8a" stroke-width="0.45"/>
<line x1="277.9" y1="334.9" x2="314.4" y2="334.9" stroke="#8a8a8a" stroke-width="0.45"/>
<line x1="276.9" y1="310" x2="277.9" y2="310" stroke="#8a8a8a" stroke-width="0.4"/>
<line x1="276.9" y1="333.5" x2="277.9" y2="333.5" stroke="#8a8a8a" stroke-width="0.4"/>
<text x="276.5" y="312.02" font-size="5.6" stroke="#111" stroke-width="0.06" text-anchor="end" fill="#111">3</text>
<text x="276.5" y="335.18" font-size="5.6" stroke="#111" stroke-width="0.06" text-anchor="end" fill="#111">0</text>
<text x="280" y="302.7" font-size="6.9" stroke="#111" stroke-width="0.2" font-style="italic" fill="#111">Ccl9</text>
<text x="296.8" y="301.9" font-size="3.3" stroke="#333" stroke-width="0.09" fill="#333"><tspan font-style="italic">P</tspan> = 0.06</text>
<line x1="323.1" y1="305.5" x2="323.1" y2="334.9" stroke="#8a8a8a" stroke-width="0.45"/>
<line x1="323.1" y1="334.9" x2="359.6" y2="334.9" stroke="#8a8a8a" stroke-width="0.45"/>
<line x1="322.1" y1="309.2" x2="323.1" y2="309.2" stroke="#8a8a8a" stroke-width="0.4"/>
<line x1="322.1" y1="333.5" x2="323.1" y2="333.5" stroke="#8a8a8a" stroke-width="0.4"/>
<text x="321.7" y="311.22" font-size="5.6" stroke="#111" stroke-width="0.06" text-anchor="end" fill="#111">3</text>
<text x="321.7" y="335.18" font-size="5.6" stroke="#111" stroke-width="0.06" text-anchor="end" fill="#111">0</text>
<text x="324.2" y="302.7" font-size="6.9" stroke="#111" stroke-width="0.2" font-style="italic" fill="#111">Anxa2</text>
<text x="348.8" y="301.9" font-size="3.3" stroke="#333" stroke-width="0.09" fill="#333"><tspan font-style="italic">P</tspan> = 0.03</text>
<line x1="368.2" y1="305.5" x2="368.2" y2="334.9" stroke="#8a8a8a" stroke-width="0.45"/>
<line x1="368.2" y1="334.9" x2="404.7" y2="334.9" stroke="#8a8a8a" stroke-width="0.45"/>
<line x1="367.2" y1="307.4" x2="368.2" y2="307.4" stroke="#8a8a8a" stroke-width="0.4"/>
<line x1="367.2" y1="333.5" x2="368.2" y2="333.5" stroke="#8a8a8a" stroke-width="0.4"/>
<text x="366.8" y="309.42" font-size="5.6" stroke="#111" stroke-width="0.06" text-anchor="end" fill="#111">4</text>
<text x="366.8" y="335.18" font-size="5.6" stroke="#111" stroke-width="0.06" text-anchor="end" fill="#111">0</text>
<text x="367.3" y="302.7" font-size="6.9" stroke="#111" stroke-width="0.2" font-style="italic" fill="#111">Cebpb</text>
<text x="390.8" y="301.9" font-size="3.3" stroke="#333" stroke-width="0.09" fill="#333"><tspan font-style="italic">P</tspan> = 7.6E-11</text>
<line x1="414.4" y1="305.5" x2="414.4" y2="334.9" stroke="#8a8a8a" stroke-width="0.45"/>
<line x1="414.4" y1="334.9" x2="450.9" y2="334.9" stroke="#8a8a8a" stroke-width="0.45"/>
<line x1="413.4" y1="306.2" x2="414.4" y2="306.2" stroke="#8a8a8a" stroke-width="0.4"/>
<line x1="413.4" y1="333.5" x2="414.4" y2="333.5" stroke="#8a8a8a" stroke-width="0.4"/>
<text x="413" y="308.22" font-size="5.6" stroke="#111" stroke-width="0.06" text-anchor="end" fill="#111">4</text>
<text x="413" y="335.18" font-size="5.6" stroke="#111" stroke-width="0.06" text-anchor="end" fill="#111">0</text>
<text x="414.8" y="302.7" font-size="6.9" stroke="#111" stroke-width="0.2" font-style="italic" fill="#111">Ctsl</text>
<text x="430.2" y="301.9" font-size="3.3" stroke="#333" stroke-width="0.09" fill="#333"><tspan font-style="italic">P</tspan> = 0.0003</text>
<path d="M289.07 244.6C289.19 244.1 288.77 243.08 289.25 241.5C289.73 239.92 291.22 236.48 292.05 234.75C292.88 233.02 293.98 231.78 294.43 230.7C294.87 229.62 294.92 228.76 294.85 228C294.78 227.24 294.49 226.67 294 225.95C293.52 225.23 292.46 224.21 291.82 223.49C291.19 222.77 290.48 222.03 290.01 221.44C289.54 220.85 289.11 220.06 288.9 219.8C288.69 219.54 288.91 219.54 288.7 219.8C288.49 220.06 288.06 220.85 287.59 221.44C287.12 222.03 286.41 222.77 285.78 223.49C285.14 224.21 284.08 225.23 283.6 225.95C283.11 226.67 282.82 227.24 282.75 228C282.68 228.76 282.73 229.62 283.17 230.7C283.62 231.78 284.72 233.02 285.55 234.75C286.38 236.48 287.87 239.92 288.35 241.5C288.83 243.08 288.41 244.1 288.53 244.6C288.65 245.1 288.95 245.1 289.07 244.6Z" fill="#1f8dc4"/>
<path d="M302.87 240.5C302.99 239.4 302.57 235.34 303.05 233.6C303.53 231.86 304.94 230.66 305.86 229.65C306.79 228.64 308.28 227.91 308.83 227.28C309.38 226.65 309.38 226.25 309.3 225.7C309.22 225.15 308.9 224.48 308.36 223.82C307.83 223.16 306.66 222.23 305.95 221.57C305.24 220.91 304.46 220.24 303.94 219.7C303.42 219.16 302.93 218.44 302.7 218.2C302.47 217.96 302.73 217.96 302.5 218.2C302.27 218.44 301.78 219.16 301.26 219.7C300.74 220.24 299.96 220.91 299.25 221.57C298.54 222.23 297.37 223.16 296.84 223.82C296.3 224.48 295.98 225.15 295.9 225.7C295.82 226.25 295.82 226.65 296.37 227.28C296.92 227.91 298.41 228.64 299.34 229.65C300.26 230.66 301.67 231.86 302.15 233.6C302.63 235.34 302.21 239.4 302.33 240.5C302.45 241.6 302.75 241.6 302.87 240.5Z" fill="#f4886b"/>
<path d="M340.6 244.9C342.41 244.79 340.73 244.46 340.31 244.2C339.89 243.94 338.47 243.7 337.96 243.3C337.44 242.9 337.27 242.55 337.1 241.7C336.93 240.85 336.97 239.31 336.87 237.97C336.77 236.63 336.61 234.75 336.46 233.35C336.3 231.95 336.08 230.37 335.9 229.19C335.73 228.01 335.51 226.85 335.38 225.96C335.24 225.07 335.11 224.31 335.03 223.65C334.95 222.98 334.93 222.1 334.88 221.8C334.83 221.5 334.77 221.5 334.72 221.8C334.67 222.1 334.65 222.98 334.57 223.65C334.49 224.31 334.36 225.07 334.23 225.96C334.09 226.85 333.87 228.01 333.7 229.19C333.52 230.37 333.3 231.95 333.14 233.35C332.99 234.75 332.83 236.63 332.73 237.97C332.63 239.31 332.67 240.85 332.5 241.7C332.33 242.55 332.16 242.9 331.64 243.3C331.13 243.7 329.71 243.94 329.29 244.2C328.87 244.46 327.19 244.79 329 244.9C330.81 245.01 338.79 245.01 340.6 244.9Z" fill="#1f8dc4"/>
<path d="M353.8 244.9C355.61 244.79 353.64 244.46 353.51 244.2C353.38 243.94 353.26 243.7 352.99 243.3C352.71 242.9 352.05 242.66 351.8 241.7C351.55 240.74 351.59 238.8 351.42 237.28C351.25 235.76 350.99 233.74 350.74 232.2C350.48 230.66 350.11 228.93 349.82 227.63C349.54 226.33 349.18 225.05 348.95 224.07C348.72 223.1 348.52 222.26 348.38 221.53C348.24 220.8 348.15 219.83 348.08 219.5C348.01 219.17 347.99 219.17 347.92 219.5C347.85 219.83 347.76 220.8 347.62 221.53C347.48 222.26 347.28 223.1 347.05 224.07C346.82 225.05 346.46 226.33 346.18 227.63C345.89 228.93 345.52 230.66 345.26 232.2C345.01 233.74 344.75 235.76 344.58 237.28C344.41 238.8 344.45 240.74 344.2 241.7C343.95 242.66 343.29 242.9 343.01 243.3C342.74 243.7 342.62 243.94 342.49 244.2C342.36 244.46 340.39 244.79 342.2 244.9C344.01 245.01 351.99 245.01 353.8 244.9Z" fill="#f4886b"/>
<path d="M386.2 244.9C387.74 244.79 386.06 244.49 385.85 244.2C385.64 243.91 385.05 243.29 384.9 243.1C384.75 242.91 384.6 243.47 384.9 243C385.2 242.53 386.44 240.88 386.77 240.15C387.11 239.42 386.87 238.9 386.97 238.44C387.07 237.98 387.4 238.18 387.4 237.3C387.4 236.42 387.26 234.19 386.97 232.93C386.67 231.67 386.07 230.41 385.54 229.43C385.01 228.45 384.19 227.56 383.68 226.8C383.17 226.04 382.71 225.4 382.38 224.7C382.05 224 381.81 223.21 381.63 222.43C381.46 221.64 381.39 220.22 381.3 219.8C381.21 219.38 381.19 219.38 381.1 219.8C381.01 220.22 380.94 221.64 380.77 222.43C380.59 223.21 380.35 224 380.02 224.7C379.69 225.4 379.23 226.04 378.72 226.8C378.21 227.56 377.39 228.45 376.86 229.43C376.33 230.41 375.73 231.67 375.43 232.93C375.14 234.19 375 236.42 375 237.3C375 238.18 375.33 237.98 375.43 238.44C375.53 238.9 375.29 239.42 375.62 240.15C375.96 240.88 377.2 242.53 377.5 243C377.8 243.47 377.65 242.91 377.5 243.1C377.35 243.29 376.76 243.91 376.55 244.2C376.34 244.49 374.66 244.79 376.2 244.9C377.74 245.01 384.66 245.01 386.2 244.9Z" fill="#1f8dc4"/>
<path d="M398.2 244.9C399.31 244.79 398.01 244.46 397.95 244.2C397.88 243.94 397.82 243.46 397.8 243.3C397.78 243.14 397.46 243.94 397.8 243.2C398.14 242.46 399.49 239.85 399.9 238.7C400.31 237.55 400.22 236.72 400.37 236C400.51 235.28 400.8 235.1 400.8 234.2C400.8 233.3 400.66 231.49 400.37 230.4C400.07 229.31 399.47 228.21 398.94 227.36C398.41 226.51 397.59 225.74 397.08 225.08C396.57 224.42 396.11 223.86 395.78 223.26C395.45 222.65 395.21 221.96 395.03 221.28C394.86 220.6 394.79 219.36 394.7 219C394.61 218.64 394.59 218.64 394.5 219C394.41 219.36 394.34 220.6 394.17 221.28C393.99 221.96 393.75 222.65 393.42 223.26C393.09 223.86 392.63 224.42 392.12 225.08C391.61 225.74 390.79 226.51 390.26 227.36C389.73 228.21 389.13 229.31 388.83 230.4C388.54 231.49 388.4 233.3 388.4 234.2C388.4 235.1 388.69 235.28 388.83 236C388.98 236.72 388.89 237.55 389.3 238.7C389.71 239.85 391.06 242.46 391.4 243.2C391.74 243.94 391.42 243.14 391.4 243.3C391.38 243.46 391.32 243.94 391.25 244.2C391.19 244.46 389.89 244.79 391 244.9C392.11 245.01 397.09 245.01 398.2 244.9Z" fill="#f4886b"/>
<path d="M432.1 244.9C433.78 244.79 432.07 244.46 431.83 244.2C431.59 243.94 430.94 243.7 430.59 243.3C430.23 242.9 429.8 242.54 429.6 241.7C429.4 240.86 429.44 239.35 429.31 238.03C429.18 236.71 428.98 234.84 428.79 233.45C428.59 232.06 428.31 230.5 428.09 229.33C427.87 228.16 427.6 227 427.43 226.12C427.25 225.24 427.09 224.49 426.99 223.83C426.89 223.17 426.84 222.29 426.78 222C426.72 221.71 426.68 221.71 426.62 222C426.56 222.29 426.51 223.17 426.41 223.83C426.31 224.49 426.15 225.24 425.97 226.12C425.8 227 425.53 228.16 425.31 229.33C425.09 230.5 424.81 232.06 424.61 233.45C424.42 234.84 424.22 236.71 424.09 238.03C423.96 239.35 424 240.86 423.8 241.7C423.6 242.54 423.17 242.9 422.81 243.3C422.46 243.7 421.81 243.94 421.57 244.2C421.33 244.46 419.62 244.79 421.3 244.9C422.98 245.01 430.42 245.01 432.1 244.9Z" fill="#1f8dc4"/>
<path d="M446.3 244.9C448.31 244.79 446.21 244.71 445.85 244.2C445.48 243.69 444.3 242.12 444 241.7C443.7 241.28 443.94 242.17 444 241.6C444.06 241.03 444.33 239.03 444.38 238.15C444.44 237.27 444.31 236.63 444.36 236.08C444.41 235.53 444.7 235.52 444.7 234.7C444.7 233.88 444.59 232.05 444.36 230.97C444.12 229.9 443.65 228.83 443.23 228C442.81 227.16 442.16 226.4 441.76 225.76C441.36 225.12 440.99 224.57 440.73 223.97C440.47 223.38 440.28 222.7 440.14 222.03C440.01 221.37 439.97 220.16 439.9 219.8C439.83 219.44 439.77 219.44 439.7 219.8C439.63 220.16 439.59 221.37 439.46 222.03C439.32 222.7 439.13 223.38 438.87 223.97C438.61 224.57 438.24 225.12 437.84 225.76C437.44 226.4 436.79 227.16 436.37 228C435.95 228.83 435.48 229.9 435.24 230.97C435.01 232.05 434.9 233.88 434.9 234.7C434.9 235.52 435.19 235.53 435.24 236.08C435.29 236.63 435.16 237.27 435.22 238.15C435.27 239.03 435.54 241.03 435.6 241.6C435.66 242.17 435.9 241.28 435.6 241.7C435.3 242.12 434.12 243.69 433.75 244.2C433.39 244.71 431.29 244.79 433.3 244.9C435.31 245.01 444.29 245.01 446.3 244.9Z" fill="#f4886b"/>
<path d="M291.3 289.5C291.79 289.39 291.32 289.41 291.19 288.8C291.06 288.19 290.61 286.21 290.5 285.7C290.39 285.19 289.98 286.47 290.5 285.6C291.02 284.73 292.88 281.62 293.75 280.25C294.61 278.88 295.51 277.9 295.93 277.04C296.36 276.18 296.48 275.67 296.4 274.9C296.32 274.13 296 273.17 295.46 272.22C294.93 271.28 293.76 269.96 293.05 269.01C292.34 268.07 291.56 267.11 291.04 266.34C290.52 265.57 290.03 264.54 289.8 264.2C289.57 263.86 289.83 263.86 289.6 264.2C289.37 264.54 288.88 265.57 288.36 266.34C287.84 267.11 287.06 268.07 286.35 269.01C285.64 269.96 284.47 271.28 283.94 272.22C283.4 273.17 283.08 274.13 283 274.9C282.92 275.67 283.04 276.18 283.47 277.04C283.89 277.9 284.79 278.88 285.65 280.25C286.52 281.62 288.38 284.73 288.9 285.6C289.42 286.47 289.01 285.19 288.9 285.7C288.79 286.21 288.34 288.19 288.21 288.8C288.08 289.41 287.61 289.39 288.1 289.5C288.59 289.61 290.81 289.61 291.3 289.5Z" fill="#1f8dc4"/>
<path d="M304 289.5C304.31 289.39 303.96 289.57 303.93 288.8C303.9 288.03 303.82 285.37 303.8 284.7C303.78 284.03 303.28 285.54 303.8 284.6C304.32 283.66 306.18 280.28 307.05 278.8C307.91 277.32 308.81 276.25 309.23 275.32C309.66 274.39 309.78 273.76 309.7 273C309.62 272.24 309.3 271.43 308.76 270.57C308.23 269.72 307.06 268.52 306.35 267.67C305.64 266.81 304.86 265.94 304.34 265.24C303.82 264.54 303.33 263.61 303.1 263.3C302.87 262.99 303.13 262.99 302.9 263.3C302.67 263.61 302.18 264.54 301.66 265.24C301.14 265.94 300.36 266.81 299.65 267.67C298.94 268.52 297.77 269.72 297.24 270.57C296.7 271.43 296.38 272.24 296.3 273C296.22 273.76 296.34 274.39 296.77 275.32C297.19 276.25 298.09 277.32 298.95 278.8C299.82 280.28 301.68 283.66 302.2 284.6C302.72 285.54 302.22 284.03 302.2 284.7C302.18 285.37 302.1 288.03 302.07 288.8C302.04 289.57 301.69 289.39 302 289.5C302.31 289.61 303.69 289.61 304 289.5Z" fill="#f4886b"/>
<path d="M340.2 289.3C342.01 289.19 340.45 288.86 339.91 288.6C339.37 288.34 337.43 288.1 336.82 287.7C336.21 287.3 336.24 286.97 336.1 286.1C335.96 285.23 336.01 283.62 335.93 282.25C335.85 280.88 335.74 278.98 335.62 277.55C335.51 276.12 335.34 274.52 335.22 273.32C335.09 272.12 334.93 270.93 334.82 270.03C334.72 269.13 334.63 268.36 334.57 267.68C334.51 267 334.52 266.1 334.48 265.8C334.44 265.5 334.36 265.5 334.32 265.8C334.28 266.1 334.29 267 334.23 267.68C334.17 268.36 334.08 269.13 333.97 270.03C333.87 270.93 333.71 272.12 333.58 273.32C333.46 274.52 333.29 276.12 333.18 277.55C333.06 278.98 332.95 280.88 332.87 282.25C332.79 283.62 332.84 285.23 332.7 286.1C332.56 286.97 332.59 287.3 331.98 287.7C331.37 288.1 329.43 288.34 328.89 288.6C328.35 288.86 326.79 289.19 328.6 289.3C330.41 289.41 338.39 289.41 340.2 289.3Z" fill="#1f8dc4"/>
<path d="M353.3 289.3C355.11 289.19 353.22 288.86 353.01 288.6C352.8 288.34 352.34 288.1 352 287.7C351.66 287.3 351.13 287.02 350.9 286.1C350.67 285.18 350.71 283.42 350.56 281.98C350.41 280.54 350.18 278.58 349.95 277.1C349.72 275.62 349.39 273.96 349.13 272.71C348.88 271.46 348.56 270.23 348.35 269.29C348.14 268.36 347.96 267.55 347.84 266.85C347.72 266.15 347.65 265.21 347.58 264.9C347.51 264.59 347.49 264.59 347.42 264.9C347.35 265.21 347.28 266.15 347.16 266.85C347.04 267.55 346.86 268.36 346.65 269.29C346.44 270.23 346.12 271.46 345.87 272.71C345.61 273.96 345.28 275.62 345.05 277.1C344.82 278.58 344.59 280.54 344.44 281.98C344.29 283.42 344.33 285.18 344.1 286.1C343.87 287.02 343.34 287.3 343 287.7C342.66 288.1 342.2 288.34 341.99 288.6C341.78 288.86 339.89 289.19 341.7 289.3C343.51 289.41 351.49 289.41 353.3 289.3Z" fill="#f4886b"/>
<path d="M384.7 289.5C386.43 289.18 384.48 288.38 384.5 287.5C384.52 286.62 384.96 285.12 384.8 284C384.64 282.88 383.92 281.62 383.5 280.5C383.08 279.38 382.52 278.2 382.2 277C381.88 275.8 381.72 274.28 381.5 273C381.28 271.72 381.04 270.2 380.8 269C380.56 267.8 380.24 266.56 380 265.5C379.76 264.44 379.47 262.9 379.32 262.4C379.17 261.9 379.23 261.9 379.08 262.4C378.93 262.9 378.64 264.44 378.4 265.5C378.16 266.56 377.84 267.8 377.6 269C377.36 270.2 377.12 271.72 376.9 273C376.68 274.28 376.52 275.8 376.2 277C375.88 278.2 375.32 279.38 374.9 280.5C374.48 281.62 373.76 282.88 373.6 284C373.44 285.12 373.88 286.62 373.9 287.5C373.92 288.38 371.97 289.18 373.7 289.5C375.43 289.82 382.97 289.82 384.7 289.5Z" fill="#1f8dc4"/>
<path d="M396.4 289.5C397.45 289.39 396.13 289.42 396.16 288.8C396.19 288.18 396.53 286.13 396.6 285.6C396.67 285.07 396.33 286.36 396.6 285.5C396.87 284.64 397.9 281.59 398.28 280.25C398.66 278.91 398.77 277.94 398.95 277.1C399.13 276.26 399.4 275.82 399.4 275C399.4 274.18 399.26 272.86 398.95 272C398.64 271.14 398.02 270.27 397.48 269.6C396.94 268.93 396.08 268.32 395.56 267.8C395.04 267.28 394.55 266.84 394.22 266.36C393.88 265.88 393.63 265.34 393.45 264.8C393.27 264.26 393.19 263.29 393.1 263C393.01 262.71 392.99 262.71 392.9 263C392.81 263.29 392.73 264.26 392.55 264.8C392.37 265.34 392.12 265.88 391.78 266.36C391.45 266.84 390.96 267.28 390.44 267.8C389.92 268.32 389.06 268.93 388.52 269.6C387.98 270.27 387.36 271.14 387.05 272C386.74 272.86 386.6 274.18 386.6 275C386.6 275.82 386.87 276.26 387.05 277.1C387.23 277.94 387.34 278.91 387.72 280.25C388.1 281.59 389.13 284.64 389.4 285.5C389.67 286.36 389.33 285.07 389.4 285.6C389.47 286.13 389.81 288.18 389.84 288.8C389.87 289.42 388.55 289.39 389.6 289.5C390.65 289.61 395.35 289.61 396.4 289.5Z" fill="#f4886b"/>
<path d="M425.64 284C425.74 283.49 425.37 281.97 425.8 280.8C426.23 279.63 427.43 277.75 428.32 276.7C429.21 275.65 430.8 274.9 431.35 274.24C431.91 273.58 431.87 273.17 431.8 272.6C431.73 272.03 431.42 271.34 430.9 270.65C430.39 269.96 429.28 269 428.6 268.31C427.92 267.62 427.18 266.92 426.68 266.36C426.18 265.8 425.72 265.05 425.5 264.8C425.28 264.55 425.52 264.55 425.3 264.8C425.08 265.05 424.62 265.8 424.12 266.36C423.62 266.92 422.88 267.62 422.2 268.31C421.52 269 420.41 269.96 419.9 270.65C419.38 271.34 419.07 272.03 419 272.6C418.93 273.17 418.89 273.58 419.45 274.24C420 274.9 421.59 275.65 422.48 276.7C423.37 277.75 424.57 279.63 425 280.8C425.43 281.97 425.06 283.49 425.16 284C425.26 284.51 425.54 284.51 425.64 284Z" fill="#1f8dc4"/>
<path d="M440.04 282.5C440.14 281.92 439.78 280.13 440.2 278.9C440.62 277.67 441.78 275.85 442.64 274.8C443.49 273.75 445.03 273 445.57 272.34C446.1 271.68 446.07 271.28 446 270.7C445.93 270.12 445.63 269.42 445.13 268.73C444.64 268.03 443.55 267.05 442.9 266.36C442.25 265.66 441.52 264.95 441.04 264.38C440.56 263.81 440.11 263.05 439.9 262.8C439.69 262.55 439.91 262.55 439.7 262.8C439.49 263.05 439.04 263.81 438.56 264.38C438.08 264.95 437.35 265.66 436.7 266.36C436.05 267.05 434.96 268.03 434.47 268.73C433.97 269.42 433.67 270.12 433.6 270.7C433.53 271.28 433.5 271.68 434.03 272.34C434.57 273 436.11 273.75 436.96 274.8C437.82 275.85 438.98 277.67 439.4 278.9C439.82 280.13 439.46 281.92 439.56 282.5C439.66 283.08 439.94 283.08 440.04 282.5Z" fill="#f4886b"/>
<line x1="425.4" y1="283" x2="425.4" y2="288" stroke="#9fcbe3" stroke-width="0.4"/>
<line x1="439.8" y1="281" x2="439.8" y2="288" stroke="#f6c1b6" stroke-width="0.4"/>
<path d="M294.6 333.8C296.27 333.69 294.53 333.8 294.22 333.1C293.92 332.4 292.94 330.01 292.7 329.4C292.46 328.79 292.6 329.86 292.7 329.3C292.8 328.74 293.19 326.77 293.3 325.9C293.41 325.03 293.32 324.4 293.38 323.86C293.45 323.32 293.7 323.3 293.7 322.5C293.7 321.7 293.6 319.92 293.38 318.88C293.17 317.83 292.73 316.79 292.35 315.98C291.97 315.16 291.37 314.43 291 313.8C290.63 313.17 290.29 312.64 290.06 312.06C289.82 311.48 289.64 310.82 289.51 310.18C289.39 309.53 289.37 308.35 289.3 308C289.23 307.65 289.17 307.65 289.1 308C289.03 308.35 289.01 309.53 288.88 310.18C288.76 310.82 288.58 311.48 288.34 312.06C288.11 312.64 287.77 313.17 287.4 313.8C287.03 314.43 286.43 315.16 286.05 315.98C285.67 316.79 285.23 317.83 285.01 318.88C284.8 319.92 284.7 321.7 284.7 322.5C284.7 323.3 284.95 323.32 285.01 323.86C285.08 324.4 284.99 325.03 285.1 325.9C285.21 326.77 285.6 328.74 285.7 329.3C285.8 329.86 285.94 328.79 285.7 329.4C285.46 330.01 284.48 332.4 284.18 333.1C283.87 333.8 282.13 333.69 283.8 333.8C285.47 333.91 292.93 333.91 294.6 333.8Z" fill="#1f8dc4"/>
<path d="M308 333.8C309.67 333.69 307.75 333.77 307.62 333.1C307.49 332.43 307.27 330.18 307.2 329.6C307.13 329.02 307.04 330.2 307.2 329.5C307.36 328.8 308 326.3 308.19 325.2C308.38 324.1 308.31 323.31 308.41 322.62C308.52 321.93 308.85 321.72 308.85 320.9C308.85 320.08 308.71 318.48 308.41 317.5C308.11 316.52 307.5 315.54 306.98 314.78C306.45 314.02 305.61 313.33 305.1 312.74C304.59 312.15 304.12 311.65 303.79 311.11C303.46 310.56 303.21 309.95 303.04 309.34C302.86 308.73 302.79 307.63 302.7 307.3C302.61 306.97 302.59 306.97 302.5 307.3C302.41 307.63 302.34 308.73 302.16 309.34C301.99 309.95 301.74 310.56 301.41 311.11C301.08 311.65 300.61 312.15 300.1 312.74C299.59 313.33 298.75 314.02 298.23 314.78C297.7 315.54 297.09 316.52 296.79 317.5C296.49 318.48 296.35 320.08 296.35 320.9C296.35 321.72 296.68 321.93 296.79 322.62C296.89 323.31 296.82 324.1 297.01 325.2C297.2 326.3 297.84 328.8 298 329.5C298.16 330.2 298.07 329.02 298 329.6C297.93 330.18 297.71 332.43 297.58 333.1C297.45 333.77 295.53 333.69 297.2 333.8C298.87 333.91 306.33 333.91 308 333.8Z" fill="#f4886b"/>
<path d="M337.3 333.8C338.23 333.69 337.33 333.6 337.09 333.1C336.85 332.6 336.01 331.1 335.8 330.7C335.59 330.3 335.37 331.39 335.8 330.6C336.23 329.81 337.78 326.99 338.5 325.75C339.21 324.51 339.9 323.62 340.25 322.84C340.6 322.06 340.77 321.78 340.7 320.9C340.63 320.02 340.32 318.6 339.8 317.35C339.29 316.1 338.18 314.34 337.5 313.09C336.82 311.84 336.08 310.56 335.58 309.54C335.08 308.52 334.62 307.15 334.4 306.7C334.18 306.25 334.42 306.25 334.2 306.7C333.98 307.15 333.52 308.52 333.02 309.54C332.52 310.56 331.78 311.84 331.1 313.09C330.42 314.34 329.31 316.1 328.8 317.35C328.28 318.6 327.97 320.02 327.9 320.9C327.83 321.78 328 322.06 328.35 322.84C328.7 323.62 329.39 324.51 330.11 325.75C330.82 326.99 332.37 329.81 332.8 330.6C333.23 331.39 333.01 330.3 332.8 330.7C332.59 331.1 331.75 332.6 331.51 333.1C331.27 333.6 330.37 333.69 331.3 333.8C332.23 333.91 336.37 333.91 337.3 333.8Z" fill="#1f8dc4"/>
<path d="M349.1 333.8C349.5 333.69 349.09 333.76 349.01 333.1C348.93 332.44 348.67 330.26 348.6 329.7C348.53 329.14 348.12 330.54 348.6 329.6C349.08 328.66 350.8 325.28 351.6 323.8C352.4 322.32 353.22 321.25 353.61 320.32C354 319.39 354.12 318.8 354.05 318C353.98 317.2 353.68 316.27 353.18 315.32C352.68 314.38 351.59 313.06 350.93 312.12C350.26 311.17 349.53 310.21 349.05 309.44C348.57 308.67 348.12 307.64 347.9 307.3C347.68 306.96 347.92 306.96 347.7 307.3C347.48 307.64 347.03 308.67 346.55 309.44C346.07 310.21 345.34 311.17 344.68 312.12C344.01 313.06 342.93 314.38 342.43 315.32C341.93 316.27 341.62 317.2 341.55 318C341.48 318.8 341.6 319.39 341.99 320.32C342.38 321.25 343.2 322.32 344 323.8C344.8 325.28 346.52 328.66 347 329.6C347.48 330.54 347.07 329.14 347 329.7C346.93 330.26 346.67 332.44 346.59 333.1C346.51 333.76 346.1 333.69 346.5 333.8C346.9 333.91 348.7 333.91 349.1 333.8Z" fill="#f4886b"/>
<path d="M380.6 333.8C381.03 333.69 380.6 333.76 380.5 333.1C380.41 332.44 380.08 330.26 380 329.7C379.92 329.14 379.51 330.54 380 329.6C380.49 328.66 382.26 325.28 383.08 323.8C383.9 322.32 384.75 321.25 385.15 320.32C385.56 319.39 385.67 318.76 385.6 318C385.53 317.24 385.22 316.43 384.7 315.57C384.19 314.72 383.08 313.52 382.4 312.67C381.72 311.81 380.98 310.94 380.48 310.24C379.98 309.54 379.52 308.61 379.3 308.3C379.08 307.99 379.32 307.99 379.1 308.3C378.88 308.61 378.42 309.54 377.92 310.24C377.42 310.94 376.68 311.81 376 312.67C375.32 313.52 374.21 314.72 373.7 315.57C373.18 316.43 372.87 317.24 372.8 318C372.73 318.76 372.84 319.39 373.25 320.32C373.65 321.25 374.5 322.32 375.32 323.8C376.14 325.28 377.91 328.66 378.4 329.6C378.89 330.54 378.48 329.14 378.4 329.7C378.32 330.26 377.99 332.44 377.9 333.1C377.8 333.76 377.37 333.69 377.8 333.8C378.23 333.91 380.17 333.91 380.6 333.8Z" fill="#1f8dc4"/>
<path d="M393.06 333.8C393.21 332.68 392.75 328.78 393.3 326.8C393.85 324.82 395.63 322.78 396.49 321.4C397.35 320.02 398.23 319.02 398.65 318.16C399.07 317.3 399.17 316.72 399.1 316C399.03 315.28 398.72 314.49 398.2 313.68C397.69 312.86 396.58 311.7 395.9 310.88C395.22 310.07 394.48 309.23 393.98 308.56C393.48 307.89 393.02 307 392.8 306.7C392.58 306.4 392.82 306.4 392.6 306.7C392.38 307 391.92 307.89 391.42 308.56C390.92 309.23 390.18 310.07 389.5 310.88C388.82 311.7 387.71 312.86 387.2 313.68C386.68 314.49 386.37 315.28 386.3 316C386.23 316.72 386.33 317.3 386.75 318.16C387.17 319.02 388.05 320.02 388.91 321.4C389.77 322.78 391.55 324.82 392.1 326.8C392.65 328.78 392.19 332.68 392.34 333.8C392.49 334.92 392.91 334.92 393.06 333.8Z" fill="#f4886b"/>
<path d="M430.6 333.8C432.02 333.69 430.44 333.6 430.28 333.1C430.12 332.6 429.71 331.1 429.6 330.7C429.49 330.3 429.33 331.16 429.6 330.6C429.87 330.04 430.9 328.07 431.28 327.2C431.66 326.33 431.77 325.7 431.95 325.16C432.13 324.62 432.4 324.6 432.4 323.8C432.4 323 432.26 321.2 431.95 320.15C431.64 319.1 431.02 318.05 430.48 317.23C429.94 316.41 429.08 315.67 428.56 315.04C428.04 314.41 427.55 313.87 427.22 313.29C426.88 312.7 426.63 312.04 426.45 311.39C426.27 310.74 426.19 309.55 426.1 309.2C426.01 308.85 425.99 308.85 425.9 309.2C425.81 309.55 425.73 310.74 425.55 311.39C425.37 312.04 425.12 312.7 424.78 313.29C424.45 313.87 423.96 314.41 423.44 315.04C422.92 315.67 422.06 316.41 421.52 317.23C420.98 318.05 420.36 319.1 420.05 320.15C419.74 321.2 419.6 323 419.6 323.8C419.6 324.6 419.87 324.62 420.05 325.16C420.23 325.7 420.34 326.33 420.72 327.2C421.1 328.07 422.13 330.04 422.4 330.6C422.67 331.16 422.51 330.3 422.4 330.7C422.29 331.1 421.88 332.6 421.72 333.1C421.56 333.6 419.98 333.69 421.4 333.8C422.82 333.91 429.18 333.91 430.6 333.8Z" fill="#1f8dc4"/>
<path d="M444.4 333.8C445.94 333.69 444.21 333.6 444.05 333.1C443.89 332.6 443.5 331.1 443.4 330.7C443.3 330.3 443.17 331.24 443.4 330.6C443.63 329.96 444.53 327.7 444.84 326.7C445.15 325.7 445.2 324.98 445.35 324.36C445.51 323.74 445.8 323.67 445.8 322.8C445.8 321.93 445.66 320.04 445.35 318.93C445.04 317.81 444.42 316.69 443.88 315.82C443.34 314.96 442.48 314.17 441.96 313.5C441.44 312.83 440.95 312.26 440.62 311.64C440.28 311.02 440.03 310.32 439.85 309.62C439.67 308.93 439.59 307.67 439.5 307.3C439.41 306.93 439.39 306.93 439.3 307.3C439.21 307.67 439.13 308.93 438.95 309.62C438.77 310.32 438.52 311.02 438.18 311.64C437.85 312.26 437.36 312.83 436.84 313.5C436.32 314.17 435.46 314.96 434.92 315.82C434.38 316.69 433.76 317.81 433.45 318.93C433.14 320.04 433 321.93 433 322.8C433 323.67 433.29 323.74 433.45 324.36C433.6 324.98 433.65 325.7 433.96 326.7C434.27 327.7 435.17 329.96 435.4 330.6C435.63 331.24 435.5 330.3 435.4 330.7C435.3 331.1 434.91 332.6 434.75 333.1C434.59 333.6 432.86 333.69 434.4 333.8C435.94 333.91 442.86 333.91 444.4 333.8Z" fill="#f4886b"/>
<rect x="466.2" y="221.3" width="6.6" height="6.2" fill="#1f8dc4"/>
<text x="475.6" y="227" font-size="7" stroke="#111" stroke-width="0.2" fill="#111">WT</text>
<rect x="466.2" y="229.7" width="6.6" height="6.2" fill="#f4886b"/>
<text x="475.6" y="235.4" font-size="7" stroke="#111" stroke-width="0.2" fill="#111">KO</text>
<text x="270.9" y="304.6" font-size="7" stroke="#111" stroke-width="0.2" text-anchor="middle" transform="rotate(-90 270.9 304.6)" fill="#111">Expression level</text>
<text x="363.9" y="351.3" font-size="7" stroke="#111" stroke-width="0.2" text-anchor="middle" fill="#111">pre-AM (cluster 0)</text>
</g>
<g>
<text x="10.2" y="362.6" font-size="11.3" stroke="#000" stroke-width="0.4" font-weight="bold" fill="#000">F</text>
<text x="118.5" y="380.3" font-size="8.1" stroke="#111" stroke-width="0.23" text-anchor="middle" fill="#111">TCGA-LUAD</text>
<rect x="35.5" y="385.8" width="171.3" height="138" fill="none" stroke="#444" stroke-width="0.6"/>
<line x1="34" y1="392" x2="35.5" y2="392" stroke="#444" stroke-width="0.45"/>
<text x="32.9" y="394.2" font-size="6.3" stroke="#222" stroke-width="0.18" text-anchor="end" fill="#222">1.00</text>
<line x1="34" y1="423.5" x2="35.5" y2="423.5" stroke="#444" stroke-width="0.45"/>
<text x="32.9" y="425.7" font-size="6.3" stroke="#222" stroke-width="0.18" text-anchor="end" fill="#222">0.75</text>
<line x1="34" y1="455" x2="35.5" y2="455" stroke="#444" stroke-width="0.45"/>
<text x="32.9" y="457.2" font-size="6.3" stroke="#222" stroke-width="0.18" text-anchor="end" fill="#222">0.50</text>
<line x1="34" y1="486.5" x2="35.5" y2="486.5" stroke="#444" stroke-width="0.45"/>
<text x="32.9" y="488.7" font-size="6.3" stroke="#222" stroke-width="0.18" text-anchor="end" fill="#222">0.25</text>
<line x1="34" y1="518" x2="35.5" y2="518" stroke="#444" stroke-width="0.45"/>
<text x="32.9" y="520.2" font-size="6.3" stroke="#222" stroke-width="0.18" text-anchor="end" fill="#222">0.00</text>
<line x1="43.25" y1="523.8" x2="43.25" y2="525.3" stroke="#444" stroke-width="0.45"/>
<text x="43.25" y="532.1" font-size="6.3" stroke="#222" stroke-width="0.18" text-anchor="middle" fill="#222">0</text>
<line x1="74.25" y1="523.8" x2="74.25" y2="525.3" stroke="#444" stroke-width="0.45"/>
<text x="74.25" y="532.1" font-size="6.3" stroke="#222" stroke-width="0.18" text-anchor="middle" fill="#222">50</text>
<line x1="105.25" y1="523.8" x2="105.25" y2="525.3" stroke="#444" stroke-width="0.45"/>
<text x="105.25" y="532.1" font-size="6.3" stroke="#222" stroke-width="0.18" text-anchor="middle" fill="#222">100</text>
<line x1="136.25" y1="523.8" x2="136.25" y2="525.3" stroke="#444" stroke-width="0.45"/>
<text x="136.25" y="532.1" font-size="6.3" stroke="#222" stroke-width="0.18" text-anchor="middle" fill="#222">150</text>
<line x1="167.25" y1="523.8" x2="167.25" y2="525.3" stroke="#444" stroke-width="0.45"/>
<text x="167.25" y="532.1" font-size="6.3" stroke="#222" stroke-width="0.18" text-anchor="middle" fill="#222">200</text>
<line x1="198.25" y1="523.8" x2="198.25" y2="525.3" stroke="#444" stroke-width="0.45"/>
<text x="198.25" y="532.1" font-size="6.3" stroke="#222" stroke-width="0.18" text-anchor="middle" fill="#222">250</text>
<text x="13" y="454" font-size="8.2" stroke="#111" stroke-width="0.23" text-anchor="middle" transform="rotate(-90 13 454)" fill="#111">Overall survival</text>
<text x="118.5" y="545.2" font-size="8.1" stroke="#111" stroke-width="0.23" text-anchor="middle" fill="#111">Months elapsed</text>
<text x="58.6" y="398.5" font-size="7.9" stroke="#111" stroke-width="0.22" fill="#111"><tspan font-style="italic">P</tspan> = 2.97e–07</text>
<path d="M43.25 392H44.3V395.61H45.06V398.26H45.41V399.88H45.81V401.68H46.47V404.68H47.46V409.15H47.99V411.54H48.84V415.53H49.49V419.46H50.04V422.75H50.92V428.02H51.5V431.5H52.13V435.28H53.05V439.34H53.77V441.75H54.71V444.88H55.45V447.33H55.92V448.9H56.6V450.85H57.61V453.26H58.38V455.11H59.45V457.69H59.81V458.53H60.41V459.99H61.34V462.19H62.2V464.1H62.97V465.81H63.82V467.68H64.83V469.91H65.69V471.82H66.45V472.83H67.22V473.4H68.07V474.03H68.67V474.47H69.52V475.1H70.33V475.7H71.27V476.69H71.98V477.98H72.35V478.65H73.1V480.02H73.2V480.2H73.6V496.3H103.8V496.3" fill="none" stroke="#d22f48" stroke-width="0.55" stroke-linejoin="miter"/>
<path d="M47 402.68v4M51.5 426.02v4M55 442.88v4M62.5 462.1v4M67.5 471.4v4M69 472.47v4M72.2 475.98v4M78 494.3v4M85.8 494.3v4M93.8 494.3v4M103.8 494.3v4" fill="none" stroke="#d22f48" stroke-width="0.6"/>
<path d="M43.25 392H44.24V393.67H45.07V395.07H45.91V396.47H46.55V397.56H47.17V398.6H48.06V400.1H48.46V400.81H49.46V402.55H50.47V404.3H51.54V406.16H51.99V406.95H52.43V407.71H53.45V409.48H54.1V410.71H54.66V411.81H55.29V413.08H56.14V414.77H56.61V415.72H57.32V417.15H58.17V418.84H59.06V420.62H59.42V421.34H60.38V423.25H61.05V424.6H61.73V425.96H62.5V427.5H63.06V428.62H64.08V430.65H64.58V431.67H65.34V433.27H65.82V434.33H66.63V436.15H67.66V438.45H68.67V440.72H69.12V441.73H69.94V443.56H70.96V445.84H71.46V446.8H72.12V447.77H73V449.07H73.91V450.4H74.6V451.41H75.42V452.67H76.28V454.02H76.89V454.99H77.73V456.32H78.51V457.56H79.39V458.94H80.12V460.11H80.72V461.06H81.4V461.7H82.44V462.22H82.93V462.47H83.39V462.7H83.75V462.88H84.74V463.37H85.83V463.92H86.36V464.14H86.91V464.36H87.41V464.56H88.21V464.88H88.92V465.17H89.89V465.55H90.39V465.76H91.4V466.2H92.1V466.55H93.06V467.03H94.01V467.5H95.04V468.07H95.76V469.33H96.57V470.72H97.34V472.06H97.84V472.91H98.56V474.17H99.61V474.61H100.64V474.75H104V475.2H110V477.5H112.5V481.8H143.8V481.8H145V489.3H191.3V489.3" fill="none" stroke="#2787bd" stroke-width="0.55" stroke-linejoin="miter"/>
<path d="M43.25 392H44.24V393.67H45.07V395.07H45.91V396.47H46.55V397.56H47.17V398.6H48.06V400.1H48.46V400.81H49.46V402.55H50.47V404.3H51.54V406.16H51.99V406.95H52.43V407.71H53.45V409.48H54.1V410.71H54.66V411.81H55.29V413.08H56.14V414.77H56.61V415.72H57.32V417.15H58.17V418.84H59.06V420.62H59.42V421.34H60.38V423.25H61.05V424.6H61.73V425.96H62.5V427.5H63.06V428.62H64.08V430.65H64.58V431.67H65.34V433.27H65.82V434.33H66.63V436.15H67.66V438.45H68.67V440.72H69.12V441.73H69.94V443.56H70.96V445.84H71.46V446.8H72.12V447.77H73V449.07H73.91V450.4H74.6V451.41H75.42V452.67H76.28V454.02H76.89V454.99H77.73V456.32H78.51V457.56H79.39V458.94H80.12V460.11H80.72V461.06H81.4V461.7H82.44V462.22H82.93V462.47H83.39V462.7H83.75V462.88H84.74V463.37H85.83V463.92H86.36V464.14H86.91V464.36H87.41V464.56H88.21V464.88H88.92V465.17H89.89V465.55H90.39V465.76H91.4V466.2H92.1V466.55H93.06V467.03H94.01V467.5H95.04V468.07H95.76V469.33H96.57V470.72H97.34V472.06H97.84V472.91H98.56V474.17H99.61V474.61" fill="none" stroke="#2787bd" stroke-width="0.85" stroke-linejoin="miter"/>
<path d="M43.56 390v4M44.25 391.67v4M44.67 391.67v4M45.5 393.07v4M45.58 393.07v4M46.77 395.56v4M46.8 395.56v4M46.89 395.56v4M47 395.56v4M47.09 395.56v4M47.12 395.56v4M47.44 396.6v4M47.52 396.6v4M47.88 396.6v4M48.33 398.1v4M48.38 398.1v4M49.13 398.81v4M49.16 398.81v4M49.65 400.55v4M50 400.55v4M50.01 400.55v4M50.44 400.55v4M50.95 402.3v4M51.07 402.3v4M51.09 402.3v4M51.13 402.3v4M51.4 402.3v4M51.42 402.3v4M51.48 402.3v4M51.73 404.16v4M51.73 404.16v4M51.92 404.16v4M52.17 404.95v4M52.62 405.71v4M52.89 405.71v4M53.27 405.71v4M53.58 407.48v4M54.1 407.48v4M54.28 408.71v4M54.44 408.71v4M54.74 409.81v4M54.77 409.81v4M54.93 409.81v4M54.98 409.81v4M54.99 409.81v4M55.59 411.08v4M55.74 411.08v4M56.31 412.77v4M56.58 412.77v4M56.69 413.72v4M56.9 413.72v4M56.93 413.72v4M57.68 415.15v4M57.72 415.15v4M57.91 415.15v4M58.15 415.15v4M58.46 416.84v4M58.51 416.84v4M58.56 416.84v4M58.63 416.84v4M58.66 416.84v4M58.67 416.84v4M58.89 416.84v4M59.08 418.62v4M60 419.34v4M60.08 419.34v4M60.18 419.34v4M60.53 421.25v4M61.65 422.6v4M61.94 423.96v4M61.97 423.96v4M62.01 423.96v4M62.01 423.96v4M62.06 423.96v4M62.47 423.96v4M62.56 425.5v4M63.24 426.62v4M63.39 426.62v4M63.64 426.62v4M63.82 426.62v4M64.15 428.65v4M64.48 428.65v4M64.55 428.65v4M64.86 429.67v4M65.13 429.67v4M65.17 429.67v4M65.33 429.67v4M65.5 431.27v4M65.91 432.33v4M65.92 432.33v4M66.03 432.33v4M66.09 432.33v4M66.2 432.33v4M66.87 434.15v4M67.1 434.15v4M67.32 434.15v4M67.51 434.15v4M67.76 436.45v4M68.47 436.45v4M68.82 438.72v4M68.93 438.72v4M69.12 438.72v4M69.26 439.73v4M69.28 439.73v4M69.68 439.73v4M69.79 439.73v4M70.3 441.56v4M70.39 441.56v4M70.68 441.56v4M70.71 441.56v4M70.72 441.56v4M70.76 441.56v4M71.3 443.84v4M71.78 444.8v4M71.91 444.8v4M72.04 444.8v4M72.06 444.8v4M72.14 445.77v4M72.14 445.77v4M72.25 445.77v4M72.46 445.77v4M72.71 445.77v4M73.27 447.07v4M73.3 447.07v4M73.8 447.07v4M73.91 448.4v4M74.35 448.4v4M74.81 449.41v4M75.07 449.41v4M75.08 449.41v4M75.45 450.67v4M75.92 450.67v4M76.2 450.67v4M76.22 450.67v4M76.26 450.67v4M76.56 452.02v4M77.04 452.99v4M77.32 452.99v4M77.83 454.32v4M78.51 455.56v4M78.96 455.56v4M78.97 455.56v4M79.36 455.56v4M79.38 455.56v4M79.96 456.94v4M80.32 458.11v4M80.63 458.11v4M80.66 458.11v4M80.87 459.06v4M80.98 459.06v4M82.95 460.47v4M84.27 460.88v4M84.59 460.88v4M85.13 461.37v4M89.47 463.17v4M91.65 464.2v4M91.67 464.2v4M92.59 464.55v4M94.03 465.5v4M95.82 467.33v4M97.86 470.91v4M97.92 470.91v4M98.86 472.17v4M100 472.61v4M101.5 472.75v4M105.5 473.2v4M109.5 473.2v4M117 479.8v4M118.8 479.8v4M123 479.8v4M140 479.8v4M145.2 487.3v4M180.5 487.3v4M187 487.3v4M191.3 487.3v4" fill="none" stroke="#2787bd" stroke-width="0.6"/>
<text x="126.2" y="422" font-size="8.2" stroke="#111" stroke-width="0.23" fill="#111">Average expression</text>
<text x="126.2" y="431.6" font-size="8.2" stroke="#111" stroke-width="0.23" fill="#111">of 65 genes</text>
<line x1="128.8" y1="441.3" x2="142.6" y2="441.3" stroke="#3a96b8" stroke-width="1.4"/>
<text x="148.6" y="444.1" font-size="8.2" stroke="#111" stroke-width="0.23" fill="#111">Low (<tspan font-style="italic">n</tspan> = 436)</text>
<line x1="128.8" y1="452" x2="142.6" y2="452" stroke="#d0202e" stroke-width="1.4"/>
<text x="148.6" y="454.8" font-size="8.2" stroke="#111" stroke-width="0.23" fill="#111">High (<tspan font-style="italic">n</tspan> = 65)</text>
</g>
<g>
<text x="222.6" y="363.2" font-size="11.3" stroke="#000" stroke-width="0.4" font-weight="bold" fill="#000">G</text>
<line x1="248.7" y1="370.4" x2="248.7" y2="543.2" stroke="#8c8c8c" stroke-width="0.85"/>
<line x1="248.3" y1="542.8" x2="513.5" y2="542.8" stroke="#9a9a9a" stroke-width="0.8"/>
<line x1="246.9" y1="376.2" x2="248.7" y2="376.2" stroke="#777" stroke-width="0.5"/>
<text transform="translate(245.5 378.9) scale(0.85 1)" font-size="7.8" text-anchor="end" fill="#222" stroke="#222" stroke-width="0.2">0.3</text>
<line x1="246.9" y1="429.2" x2="248.7" y2="429.2" stroke="#777" stroke-width="0.5"/>
<text transform="translate(245.5 431.9) scale(0.85 1)" font-size="7.8" text-anchor="end" fill="#222" stroke="#222" stroke-width="0.2">0.2</text>
<line x1="246.9" y1="482.2" x2="248.7" y2="482.2" stroke="#777" stroke-width="0.5"/>
<text transform="translate(245.5 484.9) scale(0.85 1)" font-size="7.8" text-anchor="end" fill="#222" stroke="#222" stroke-width="0.2">0.1</text>
<line x1="246.9" y1="535.2" x2="248.7" y2="535.2" stroke="#777" stroke-width="0.5"/>
<text transform="translate(245.5 537.9) scale(0.85 1)" font-size="7.8" text-anchor="end" fill="#222" stroke="#222" stroke-width="0.2">0.0</text>
<line x1="262.9" y1="542.8" x2="262.9" y2="544.5" stroke="#8a8a8a" stroke-width="0.5"/>
<text transform="translate(262.9 554) scale(0.83 1)" font-size="7.8" text-anchor="middle" fill="#222" stroke="#222" stroke-width="0.2">CD14</text>
<line x1="257.5" y1="440.33" x2="257.5" y2="487.5" stroke="#4d9fcc" stroke-width="0.7"/>
<line x1="257.5" y1="520.36" x2="257.5" y2="535.2" stroke="#4d9fcc" stroke-width="0.7"/>
<rect x="252.8" y="487.5" width="10" height="32.86" fill="#b3d6ec" stroke="#4d9fcc" stroke-width="0.6"/>
<line x1="252.8" y1="506.05" x2="262.8" y2="506.05" stroke="#1f7db3" stroke-width="1.1"/>
<line x1="268.5" y1="433.97" x2="268.5" y2="468.42" stroke="#de5672" stroke-width="0.7"/>
<line x1="268.5" y1="502.87" x2="268.5" y2="535.2" stroke="#de5672" stroke-width="0.7"/>
<rect x="263" y="468.42" width="10" height="34.45" fill="#f4a5b5" stroke="#de5672" stroke-width="0.6"/>
<line x1="263" y1="483.79" x2="273" y2="483.79" stroke="#c4203f" stroke-width="1.1"/>
<line x1="251.6" y1="430.6" x2="274.2" y2="430.6" stroke="#8a8a8a" stroke-width="0.5"/>
<text transform="translate(262.9 428.2) scale(0.83 1)" font-size="8" text-anchor="middle" fill="#222" stroke="#222" stroke-width="0.2">8.97e–5</text>
<line x1="289.05" y1="542.8" x2="289.05" y2="544.5" stroke="#8a8a8a" stroke-width="0.5"/>
<text transform="translate(289.05 554) scale(0.83 1)" font-size="7.8" text-anchor="middle" fill="#222" stroke="#222" stroke-width="0.2">CD19</text>
<line x1="283.5" y1="421.25" x2="283.5" y2="479.18" stroke="#4d9fcc" stroke-width="0.7"/>
<line x1="283.5" y1="517.71" x2="283.5" y2="535.2" stroke="#4d9fcc" stroke-width="0.7"/>
<rect x="278.95" y="479.18" width="10" height="38.53" fill="#b3d6ec" stroke="#4d9fcc" stroke-width="0.6"/>
<line x1="278.95" y1="502.87" x2="288.95" y2="502.87" stroke="#1f7db3" stroke-width="1.1"/>
<line x1="294.5" y1="441.92" x2="294.5" y2="487.5" stroke="#de5672" stroke-width="0.7"/>
<line x1="294.5" y1="521.42" x2="294.5" y2="535.2" stroke="#de5672" stroke-width="0.7"/>
<rect x="289.15" y="487.5" width="10" height="33.92" fill="#f4a5b5" stroke="#de5672" stroke-width="0.6"/>
<line x1="289.15" y1="507.64" x2="299.15" y2="507.64" stroke="#c4203f" stroke-width="1.1"/>
<line x1="279.45" y1="418" x2="298.65" y2="418" stroke="#8a8a8a" stroke-width="0.5"/>
<text transform="translate(289.05 415.6) scale(0.83 1)" font-size="8" text-anchor="middle" fill="#222" stroke="#222" stroke-width="0.2">0.10</text>
<line x1="315.2" y1="542.8" x2="315.2" y2="544.5" stroke="#8a8a8a" stroke-width="0.5"/>
<text transform="translate(315.2 554) scale(0.83 1)" font-size="7.8" text-anchor="middle" fill="#222" stroke="#222" stroke-width="0.2">CD4_Eff</text>
<line x1="310.5" y1="533.08" x2="310.5" y2="534.14" stroke="#4d9fcc" stroke-width="0.7"/>
<line x1="310.5" y1="535.2" x2="310.5" y2="535.2" stroke="#4d9fcc" stroke-width="0.7"/>
<rect x="305.1" y="534.14" width="10" height="1.06" fill="#b3d6ec" stroke="#4d9fcc" stroke-width="0.6"/>
<line x1="305.1" y1="534.94" x2="315.1" y2="534.94" stroke="#1f7db3" stroke-width="1.1"/>
<line x1="320.5" y1="525.4" x2="320.5" y2="529.37" stroke="#de5672" stroke-width="0.7"/>
<line x1="320.5" y1="535.2" x2="320.5" y2="535.2" stroke="#de5672" stroke-width="0.7"/>
<rect x="315.3" y="529.37" width="10" height="5.83" fill="#f4a5b5" stroke="#de5672" stroke-width="0.6"/>
<line x1="315.3" y1="534.67" x2="325.3" y2="534.67" stroke="#c4203f" stroke-width="1.1"/>
<line x1="304.8" y1="522.3" x2="325.6" y2="522.3" stroke="#8a8a8a" stroke-width="0.5"/>
<text transform="translate(315.2 519.9) scale(0.83 1)" font-size="8" text-anchor="middle" fill="#222" stroke="#222" stroke-width="0.2">0.60</text>
<line x1="341.35" y1="542.8" x2="341.35" y2="544.5" stroke="#8a8a8a" stroke-width="0.5"/>
<text transform="translate(341.35 554) scale(0.83 1)" font-size="7.8" text-anchor="middle" fill="#222" stroke="#222" stroke-width="0.2">CD56</text>
<line x1="336.5" y1="499.69" x2="336.5" y2="520.36" stroke="#4d9fcc" stroke-width="0.7"/>
<line x1="336.5" y1="535.2" x2="336.5" y2="535.2" stroke="#4d9fcc" stroke-width="0.7"/>
<rect x="331.25" y="520.36" width="10" height="14.84" fill="#b3d6ec" stroke="#4d9fcc" stroke-width="0.6"/>
<line x1="331.25" y1="527.52" x2="341.25" y2="527.52" stroke="#1f7db3" stroke-width="1.1"/>
<line x1="346.5" y1="495.45" x2="346.5" y2="513.68" stroke="#de5672" stroke-width="0.7"/>
<line x1="346.5" y1="529.37" x2="346.5" y2="535.2" stroke="#de5672" stroke-width="0.7"/>
<rect x="341.45" y="513.68" width="10" height="15.69" fill="#f4a5b5" stroke="#de5672" stroke-width="0.6"/>
<line x1="341.45" y1="521.42" x2="351.45" y2="521.42" stroke="#c4203f" stroke-width="1.1"/>
<line x1="331.15" y1="491" x2="351.55" y2="491" stroke="#8a8a8a" stroke-width="0.5"/>
<text transform="translate(341.35 488.6) scale(0.83 1)" font-size="8" text-anchor="middle" fill="#222" stroke="#222" stroke-width="0.2">0.0035</text>
<line x1="367.5" y1="542.8" x2="367.5" y2="544.5" stroke="#8a8a8a" stroke-width="0.5"/>
<text transform="translate(367.5 554) scale(0.83 1)" font-size="7.8" text-anchor="middle" fill="#222" stroke="#222" stroke-width="0.2">CD8</text>
<line x1="362.5" y1="402.7" x2="362.5" y2="462.91" stroke="#4d9fcc" stroke-width="0.7"/>
<line x1="362.5" y1="506.95" x2="362.5" y2="535.2" stroke="#4d9fcc" stroke-width="0.7"/>
<rect x="357.4" y="462.91" width="10" height="44.04" fill="#b3d6ec" stroke="#4d9fcc" stroke-width="0.6"/>
<line x1="357.4" y1="486.97" x2="367.4" y2="486.97" stroke="#1f7db3" stroke-width="1.1"/>
<line x1="372.5" y1="431.85" x2="372.5" y2="480.08" stroke="#de5672" stroke-width="0.7"/>
<line x1="372.5" y1="512.94" x2="372.5" y2="535.2" stroke="#de5672" stroke-width="0.7"/>
<rect x="367.6" y="480.08" width="10" height="32.86" fill="#f4a5b5" stroke="#de5672" stroke-width="0.6"/>
<line x1="367.6" y1="492.8" x2="377.6" y2="492.8" stroke="#c4203f" stroke-width="1.1"/>
<line x1="357" y1="395.6" x2="378" y2="395.6" stroke="#8a8a8a" stroke-width="0.5"/>
<text transform="translate(367.5 393.2) scale(0.83 1)" font-size="8" text-anchor="middle" fill="#222" stroke="#222" stroke-width="0.2">0.12</text>
<line x1="393.65" y1="542.8" x2="393.65" y2="544.5" stroke="#8a8a8a" stroke-width="0.5"/>
<text transform="translate(393.65 554) scale(0.83 1)" font-size="7.8" text-anchor="middle" fill="#222" stroke="#222" stroke-width="0.2">Endothelial</text>
<line x1="388.5" y1="474.78" x2="388.5" y2="499.16" stroke="#4d9fcc" stroke-width="0.7"/>
<line x1="388.5" y1="516.12" x2="388.5" y2="535.2" stroke="#4d9fcc" stroke-width="0.7"/>
<rect x="383.55" y="499.16" width="10" height="16.96" fill="#b3d6ec" stroke="#4d9fcc" stroke-width="0.6"/>
<line x1="383.55" y1="509.23" x2="393.55" y2="509.23" stroke="#1f7db3" stroke-width="1.1"/>
<line x1="398.5" y1="488.56" x2="398.5" y2="502.87" stroke="#de5672" stroke-width="0.7"/>
<line x1="398.5" y1="515.59" x2="398.5" y2="521.42" stroke="#de5672" stroke-width="0.7"/>
<rect x="393.75" y="502.87" width="10" height="12.72" fill="#f4a5b5" stroke="#de5672" stroke-width="0.6"/>
<line x1="393.75" y1="507.64" x2="403.75" y2="507.64" stroke="#c4203f" stroke-width="1.1"/>
<line x1="382.95" y1="471.5" x2="404.35" y2="471.5" stroke="#8a8a8a" stroke-width="0.5"/>
<text transform="translate(393.65 469.1) scale(0.83 1)" font-size="8" text-anchor="middle" fill="#222" stroke="#222" stroke-width="0.2">0.99</text>
<line x1="419.8" y1="542.8" x2="419.8" y2="544.5" stroke="#8a8a8a" stroke-width="0.5"/>
<text transform="translate(419.8 554) scale(0.83 1)" font-size="7.8" text-anchor="middle" fill="#222" stroke="#222" stroke-width="0.2">Eos</text>
<line x1="414.5" y1="518.24" x2="414.5" y2="528.47" stroke="#4d9fcc" stroke-width="0.7"/>
<line x1="414.5" y1="535.2" x2="414.5" y2="535.2" stroke="#4d9fcc" stroke-width="0.7"/>
<rect x="409.7" y="528.47" width="10" height="6.73" fill="#b3d6ec" stroke="#4d9fcc" stroke-width="0.6"/>
<line x1="409.7" y1="533.61" x2="419.7" y2="533.61" stroke="#1f7db3" stroke-width="1.1"/>
<line x1="424.5" y1="517.18" x2="424.5" y2="527.78" stroke="#de5672" stroke-width="0.7"/>
<line x1="424.5" y1="535.2" x2="424.5" y2="535.2" stroke="#de5672" stroke-width="0.7"/>
<rect x="419.9" y="527.78" width="10" height="7.42" fill="#f4a5b5" stroke="#de5672" stroke-width="0.6"/>
<line x1="419.9" y1="534.67" x2="429.9" y2="534.67" stroke="#c4203f" stroke-width="1.1"/>
<line x1="409" y1="514" x2="430.6" y2="514" stroke="#8a8a8a" stroke-width="0.5"/>
<text transform="translate(419.8 511.6) scale(0.83 1)" font-size="8" text-anchor="middle" fill="#222" stroke="#222" stroke-width="0.2">0.18</text>
<line x1="445.95" y1="542.8" x2="445.95" y2="544.5" stroke="#8a8a8a" stroke-width="0.5"/>
<text transform="translate(445.95 554) scale(0.83 1)" font-size="7.8" text-anchor="middle" fill="#222" stroke="#222" stroke-width="0.2">Fibroblast</text>
<line x1="440.5" y1="444.04" x2="440.5" y2="483.26" stroke="#4d9fcc" stroke-width="0.7"/>
<line x1="440.5" y1="510.03" x2="440.5" y2="535.2" stroke="#4d9fcc" stroke-width="0.7"/>
<rect x="435.85" y="483.26" width="10" height="26.76" fill="#b3d6ec" stroke="#4d9fcc" stroke-width="0.6"/>
<line x1="435.85" y1="497.04" x2="445.85" y2="497.04" stroke="#1f7db3" stroke-width="1.1"/>
<line x1="451.5" y1="445.1" x2="451.5" y2="480.08" stroke="#de5672" stroke-width="0.7"/>
<line x1="451.5" y1="507.11" x2="451.5" y2="527.25" stroke="#de5672" stroke-width="0.7"/>
<rect x="446.05" y="480.08" width="10" height="27.03" fill="#f4a5b5" stroke="#de5672" stroke-width="0.6"/>
<line x1="446.05" y1="499.16" x2="456.05" y2="499.16" stroke="#c4203f" stroke-width="1.1"/>
<line x1="435.95" y1="439.6" x2="455.95" y2="439.6" stroke="#8a8a8a" stroke-width="0.5"/>
<text transform="translate(445.95 437.2) scale(0.83 1)" font-size="8" text-anchor="middle" fill="#222" stroke="#222" stroke-width="0.2">0.82</text>
<line x1="472.1" y1="542.8" x2="472.1" y2="544.5" stroke="#8a8a8a" stroke-width="0.5"/>
<text transform="translate(472.1 554) scale(0.83 1)" font-size="7.8" text-anchor="middle" fill="#222" stroke="#222" stroke-width="0.2">Neu</text>
<line x1="466.5" y1="479.82" x2="466.5" y2="512.15" stroke="#4d9fcc" stroke-width="0.7"/>
<line x1="466.5" y1="535.2" x2="466.5" y2="535.2" stroke="#4d9fcc" stroke-width="0.7"/>
<rect x="462" y="512.15" width="10" height="23.05" fill="#b3d6ec" stroke="#4d9fcc" stroke-width="0.6"/>
<line x1="462" y1="525.4" x2="472" y2="525.4" stroke="#1f7db3" stroke-width="1.1"/>
<line x1="477.5" y1="468.42" x2="477.5" y2="492.8" stroke="#de5672" stroke-width="0.7"/>
<line x1="477.5" y1="535.2" x2="477.5" y2="535.2" stroke="#de5672" stroke-width="0.7"/>
<rect x="472.2" y="492.8" width="10" height="42.4" fill="#f4a5b5" stroke="#de5672" stroke-width="0.6"/>
<line x1="472.2" y1="517.71" x2="482.2" y2="517.71" stroke="#c4203f" stroke-width="1.1"/>
<line x1="462.1" y1="464.8" x2="482.1" y2="464.8" stroke="#8a8a8a" stroke-width="0.5"/>
<text transform="translate(472.1 462.4) scale(0.83 1)" font-size="8" text-anchor="middle" fill="#222" stroke="#222" stroke-width="0.2">0.29</text>
<line x1="498.25" y1="542.8" x2="498.25" y2="544.5" stroke="#8a8a8a" stroke-width="0.5"/>
<text transform="translate(498.25 554) scale(0.83 1)" font-size="7.8" text-anchor="middle" fill="#222" stroke="#222" stroke-width="0.2">Treg</text>
<line x1="493.5" y1="448.81" x2="493.5" y2="488.56" stroke="#4d9fcc" stroke-width="0.7"/>
<line x1="493.5" y1="518.24" x2="493.5" y2="535.2" stroke="#4d9fcc" stroke-width="0.7"/>
<rect x="488.15" y="488.56" width="10" height="29.68" fill="#b3d6ec" stroke="#4d9fcc" stroke-width="0.6"/>
<line x1="488.15" y1="503.4" x2="498.15" y2="503.4" stroke="#1f7db3" stroke-width="1.1"/>
<line x1="503.5" y1="471.34" x2="503.5" y2="498.31" stroke="#de5672" stroke-width="0.7"/>
<line x1="503.5" y1="519.3" x2="503.5" y2="535.2" stroke="#de5672" stroke-width="0.7"/>
<rect x="498.35" y="498.31" width="10" height="20.99" fill="#f4a5b5" stroke="#de5672" stroke-width="0.6"/>
<line x1="498.35" y1="507.64" x2="508.35" y2="507.64" stroke="#c4203f" stroke-width="1.1"/>
<line x1="488.25" y1="444.2" x2="508.25" y2="444.2" stroke="#8a8a8a" stroke-width="0.5"/>
<text transform="translate(498.25 441.8) scale(0.83 1)" font-size="8" text-anchor="middle" fill="#222" stroke="#222" stroke-width="0.2">0.11</text>
<text x="226.9" y="462.2" font-size="8.4" stroke="#111" stroke-width="0.24" text-anchor="middle" transform="rotate(-90 226.9 462.2)" fill="#111">Cell fraction</text>
<text x="367.8" y="568.2" font-size="8.3" stroke="#111" stroke-width="0.36" text-anchor="middle" fill="#111">Cell type</text>
<line x1="421.5" y1="382" x2="435.4" y2="382" stroke="#2580b5" stroke-width="1.4"/>
<text x="440.6" y="385" font-size="8.6" stroke="#111" stroke-width="0.24" fill="#111">Low (<tspan font-style="italic">n</tspan> = 409/436)</text>
<line x1="421.5" y1="392.6" x2="435.4" y2="392.6" stroke="#cc1f3a" stroke-width="1.4"/>
<text x="440.6" y="395.6" font-size="8.6" stroke="#111" stroke-width="0.24" fill="#111">High (<tspan font-style="italic">n</tspan> = 41/65)</text>
</g>
</g>
</svg>
</body></html>
